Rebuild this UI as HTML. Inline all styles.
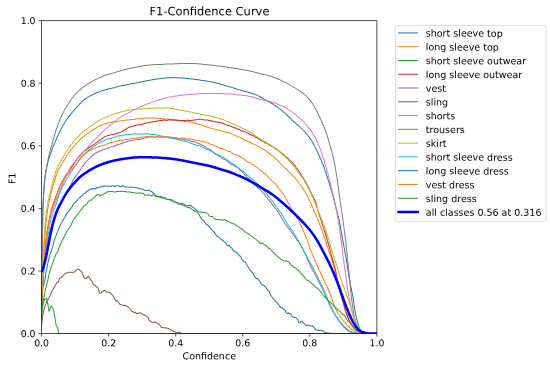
<!DOCTYPE html>
<html><head><meta charset="utf-8"><title>F1-Confidence Curve</title>
<style>
html,body{margin:0;padding:0;background:#fff;}
svg{display:block;}
text{font-family:"DejaVu Sans","Liberation Sans",sans-serif;fill:#000;text-rendering:geometricPrecision;}
</style></head><body>
<svg width="550" height="365" viewBox="0 0 550 365">
<rect width="550" height="365" fill="#fff"/>
<defs><clipPath id="ax"><rect x="41.6" y="20.7" width="335.29999999999995" height="312.90000000000003"/></clipPath></defs>
<g clip-path="url(#ax)" fill="none" stroke-linejoin="round" stroke-linecap="butt">
<path d="M41.6 304.0 L41.6 303.7 L41.6 303.4 L41.6 303.0 L41.6 302.7 L41.6 302.2 L41.6 301.9 L41.6 301.5 L41.7 301.0 L41.7 300.5 L41.7 300.0 L41.7 299.5 L41.7 299.0 L41.7 298.5 L41.7 298.0 L41.7 297.5 L41.7 297.0 L41.7 296.5 L41.7 296.0 L41.7 295.5 L41.7 295.0 L41.7 294.5 L41.7 294.0 L41.7 293.5 L41.8 292.9 L41.8 292.4 L41.8 291.9 L41.8 291.5 L41.8 291.0 L41.8 290.5 L41.8 290.0 L41.8 289.5 L41.8 289.0 L41.8 288.5 L41.8 288.0 L41.8 287.4 L41.8 286.9 L41.8 286.4 L41.8 285.9 L41.8 285.5 L41.9 285.0 L41.9 284.5 L41.9 284.0 L41.9 283.5 L41.9 283.0 L41.9 282.5 L41.9 282.0 L41.9 281.5 L41.9 281.0 L41.9 280.5 L41.9 280.0 L41.9 279.5 L41.9 279.0 L41.9 278.5 L41.9 278.0 L41.9 277.5 L42.0 277.0 L42.0 276.5 L42.0 276.0 L42.0 275.5 L42.0 275.0 L42.0 274.5 L42.0 274.0 L42.0 273.5 L42.0 273.0 L42.0 272.4 L42.0 271.9 L42.0 271.4 L42.0 271.0 L42.0 270.5 L42.0 270.0 L42.1 269.6 L42.1 269.1 L42.1 268.6 L42.1 268.1 L42.1 267.6 L42.1 267.0 L42.1 266.5 L42.1 266.0 L42.1 265.5 L42.1 265.0 L42.1 264.5 L42.1 264.0 L42.1 263.5 L42.1 262.9 L42.1 262.4 L42.1 261.9 L42.2 261.4 L42.2 261.0 L42.2 260.5 L42.2 260.0 L42.2 259.5 L42.2 259.0 L42.2 258.5 L42.2 258.0 L42.2 257.5 L42.2 257.0 L42.2 256.5 L42.2 256.0 L42.2 255.5 L42.2 254.9 L42.2 254.3 L42.2 253.8 L42.3 253.4 L42.3 253.0 L42.3 252.5 L42.3 251.9 L42.3 251.4 L42.3 250.9 L42.3 250.4 L42.3 249.9 L42.3 249.4 L42.3 249.0 L42.3 248.5 L42.3 248.0 L42.3 247.4 L42.3 246.9 L42.3 246.4 L42.3 245.9 L42.4 245.4 L42.4 244.9 L42.4 244.4 L42.4 244.0 L42.4 243.5 L42.4 242.9 L42.4 242.4 L42.4 241.9 L42.4 241.5 L42.4 241.0 L42.4 240.5 L42.4 240.0 L42.4 239.5 L42.4 239.0 L42.4 238.5 L42.4 238.0 L42.4 237.5 L42.4 237.0 L42.5 236.5 L42.5 236.0 L42.5 235.5 L42.5 235.0 L42.5 234.5 L42.5 233.9 L42.5 233.4 L42.5 232.9 L42.5 232.4 L42.5 232.0 L42.5 231.5 L42.5 230.9 L42.5 230.4 L42.5 229.9 L42.5 229.4 L42.5 228.9 L42.5 228.4 L42.6 227.9 L42.6 227.4 L42.6 226.9 L42.6 226.4 L42.6 225.9 L42.6 225.3 L42.6 224.8 L42.6 224.4 L42.6 224.0 L42.6 223.5 L42.6 222.9 L42.6 222.4 L42.6 221.9 L42.6 221.4 L42.6 220.9 L42.6 220.4 L42.7 219.9 L42.7 219.5 L42.7 219.0 L42.7 218.5 L42.7 217.9 L42.7 217.3 L42.7 216.8 L42.7 216.3 L42.7 215.9 L42.7 215.5 L42.7 215.0 L42.7 214.5 L42.8 214.0 L42.8 213.5 L42.8 213.0 L42.8 212.5 L42.8 212.0 L42.8 211.4 L42.8 210.9 L42.8 210.4 L42.8 209.9 L42.9 209.4 L42.9 208.9 L42.9 208.3 L42.9 207.8 L42.9 207.3 L43.0 206.8 L43.0 206.3 L43.0 205.9 L43.0 205.4 L43.0 204.9 L43.1 204.4 L43.1 203.9 L43.1 203.4 L43.1 202.9 L43.1 202.4 L43.2 201.9 L43.2 201.4 L43.2 200.9 L43.2 200.4 L43.3 199.9 L43.3 199.4 L43.3 198.9 L43.3 198.4 L43.4 197.9 L43.4 197.5 L43.4 197.0 L43.5 196.5 L43.5 196.0 L43.5 195.5 L43.5 195.0 L43.6 194.4 L43.6 193.9 L43.6 193.4 L43.7 192.8 L43.7 192.4 L43.7 192.0 L43.8 191.5 L43.8 191.0 L43.8 190.5 L43.8 190.0 L43.9 189.5 L43.9 189.0 L43.9 188.5 L44.0 188.0 L44.0 187.5 L44.0 187.0 L44.1 186.5 L44.1 186.0 L44.1 185.4 L44.2 184.9 L44.2 184.4 L44.3 183.9 L44.3 183.4 L44.3 182.9 L44.4 182.4 L44.4 181.9 L44.5 181.5 L44.5 181.0 L44.6 180.5 L44.6 180.0 L44.7 179.4 L44.7 178.9 L44.8 178.4 L44.9 177.9 L44.9 177.4 L45.0 177.0 L45.1 176.5 L45.1 176.0 L45.2 175.5 L45.3 175.0 L45.3 174.5 L45.4 174.0 L45.5 173.5 L45.6 173.0 L45.7 172.5 L45.7 171.9 L45.8 171.5 L45.9 171.0 L46.0 170.5 L46.1 170.1 L46.2 169.6 L46.3 169.1 L46.4 168.7 L46.5 168.2 L46.6 167.7 L46.7 167.1 L46.8 166.6 L46.9 166.1 L47.0 165.6 L47.2 165.2 L47.3 164.7 L47.4 164.2 L47.5 163.7 L47.6 163.2 L47.7 162.8 L47.9 162.3 L48.0 161.8 L48.1 161.3 L48.3 160.9 L48.4 160.4 L48.5 159.8 L48.7 159.3 L48.8 158.8 L49.0 158.4 L49.1 157.9 L49.2 157.4 L49.4 157.0 L49.5 156.5 L49.7 156.0 L49.8 155.6 L50.0 155.1 L50.2 154.6 L50.3 154.2 L50.5 153.8 L50.7 153.3 L50.8 152.8 L51.0 152.3 L51.2 151.8 L51.4 151.2 L51.5 150.7 L51.7 150.3 L51.9 149.8 L52.1 149.4 L52.3 149.0 L52.5 148.5 L52.7 148.1 L52.9 147.6 L53.0 147.1 L53.2 146.5 L53.4 146.1 L53.6 145.6 L53.8 145.2 L54.0 144.7 L54.2 144.3 L54.4 143.9 L54.6 143.4 L54.7 142.9 L54.9 142.4 L55.1 142.0 L55.3 141.5 L55.5 141.0 L55.7 140.6 L55.9 140.1 L56.1 139.7 L56.3 139.2 L56.4 138.8 L56.6 138.3 L56.8 137.9 L57.0 137.4 L57.2 137.0 L57.4 136.6 L57.6 136.1 L57.8 135.7 L58.1 135.2 L58.3 134.7 L58.5 134.2 L58.7 133.7 L58.9 133.3 L59.1 132.9 L59.3 132.4 L59.5 132.0 L59.8 131.5 L60.0 131.1 L60.2 130.7 L60.4 130.2 L60.7 129.8 L60.9 129.3 L61.1 128.8 L61.4 128.3 L61.6 127.9 L61.8 127.4 L62.1 127.0 L62.3 126.6 L62.6 126.1 L62.8 125.7 L63.1 125.3 L63.3 124.8 L63.6 124.5 L63.8 124.1 L64.1 123.7 L64.3 123.2 L64.6 122.7 L64.9 122.3 L65.1 121.9 L65.4 121.5 L65.7 121.0 L66.0 120.6 L66.2 120.2 L66.5 119.8 L66.8 119.4 L67.1 118.9 L67.4 118.5 L67.7 118.1 L68.0 117.7 L68.3 117.3 L68.6 117.0 L68.9 116.7 L69.2 116.3 L69.5 115.9 L69.8 115.5 L70.1 115.1 L70.4 114.7 L70.7 114.2 L71.0 113.8 L71.4 113.4 L71.7 113.0 L72.0 112.7 L72.3 112.3 L72.6 111.9 L73.0 111.5 L73.3 111.1 L73.6 110.7 L73.9 110.4 L74.3 110.1 L74.6 109.7 L74.9 109.3 L75.3 108.9 L75.6 108.5 L75.9 108.1 L76.3 107.8 L76.6 107.4 L76.9 107.0 L77.3 106.7 L77.6 106.3 L77.9 105.9 L78.3 105.6 L78.6 105.2 L79.0 104.8 L79.3 104.4 L79.6 104.1 L80.0 103.7 L80.3 103.3 L80.7 103.0 L81.0 102.6 L81.4 102.2 L81.7 101.9 L82.1 101.5 L82.4 101.2 L82.8 100.8 L83.2 100.5 L83.5 100.2 L83.9 99.9 L84.3 99.5 L84.7 99.2 L85.1 99.0 L85.5 98.7 L85.9 98.4 L86.3 98.1 L86.8 97.8 L87.2 97.6 L87.6 97.3 L88.1 97.1 L88.5 96.9 L88.9 96.6 L89.4 96.4 L89.8 96.1 L90.2 95.9 L90.7 95.7 L91.1 95.4 L91.6 95.2 L92.0 95.0 L92.5 94.8 L92.9 94.6 L93.4 94.3 L93.8 94.0 L94.3 93.7 L94.7 93.5 L95.2 93.4 L95.6 93.2 L96.1 93.0 L96.5 92.8 L97.0 92.6 L97.5 92.4 L97.9 92.3 L98.4 92.1 L98.9 91.9 L99.3 91.7 L99.8 91.6 L100.3 91.4 L100.7 91.2 L101.2 91.1 L101.7 90.9 L102.1 90.7 L102.6 90.6 L103.1 90.4 L103.6 90.3 L104.0 90.1 L104.5 90.0 L105.0 89.9 L105.5 89.7 L106.0 89.5 L106.5 89.4 L106.9 89.3 L107.4 89.2 L107.9 89.1 L108.4 89.0 L108.9 88.9 L109.4 88.7 L109.9 88.6 L110.4 88.5 L110.8 88.4 L111.3 88.3 L111.8 88.2 L112.3 88.1 L112.8 88.1 L113.3 87.9 L113.8 87.8 L114.3 87.7 L114.7 87.6 L115.2 87.4 L115.7 87.2 L116.2 87.1 L116.7 86.9 L117.2 86.8 L117.6 86.7 L118.1 86.6 L118.6 86.4 L119.1 86.3 L119.6 86.2 L120.1 86.1 L120.6 86.0 L121.0 85.9 L121.5 85.8 L122.0 85.7 L122.5 85.6 L123.0 85.5 L123.5 85.4 L124.0 85.4 L124.5 85.3 L125.0 85.2 L125.5 85.1 L126.0 85.0 L126.4 84.8 L126.9 84.7 L127.4 84.6 L127.9 84.5 L128.4 84.4 L128.9 84.3 L129.4 84.2 L129.9 84.1 L130.4 84.0 L130.9 83.9 L131.4 83.8 L131.9 83.8 L132.3 83.7 L132.8 83.6 L133.3 83.5 L133.8 83.4 L134.3 83.3 L134.8 83.2 L135.3 83.1 L135.8 83.0 L136.3 82.9 L136.8 82.8 L137.3 82.7 L137.7 82.6 L138.2 82.5 L138.7 82.4 L139.2 82.3 L139.7 82.2 L140.2 82.1 L140.7 82.0 L141.2 81.9 L141.7 81.8 L142.1 81.7 L142.6 81.6 L143.1 81.5 L143.6 81.4 L144.1 81.3 L144.6 81.2 L145.1 81.1 L145.6 80.9 L146.1 80.8 L146.6 80.8 L147.1 80.7 L147.5 80.6 L148.0 80.5 L148.5 80.4 L149.0 80.4 L149.5 80.3 L150.0 80.2 L150.5 80.1 L151.0 80.0 L151.5 79.9 L152.0 79.8 L152.5 79.7 L153.0 79.6 L153.5 79.5 L154.0 79.4 L154.4 79.4 L154.9 79.3 L155.4 79.2 L155.9 79.2 L156.4 79.1 L156.9 79.0 L157.4 79.0 L157.9 78.9 L158.4 78.8 L158.9 78.8 L159.4 78.7 L159.9 78.6 L160.4 78.6 L160.9 78.5 L161.4 78.5 L161.9 78.4 L162.4 78.4 L162.9 78.3 L163.4 78.3 L163.9 78.2 L164.4 78.1 L164.9 78.0 L165.4 78.0 L165.9 77.9 L166.4 77.9 L166.9 77.9 L167.4 77.9 L167.9 77.8 L168.4 77.9 L168.9 77.9 L169.4 77.8 L169.9 77.7 L170.4 77.6 L170.9 77.6 L171.4 77.6 L171.9 77.7 L172.4 77.7 L172.9 77.7 L173.4 77.6 L173.9 77.6 L174.4 77.6 L174.9 77.7 L175.4 77.7 L175.9 77.7 L176.4 77.7 L176.9 77.7 L177.4 77.7 L177.9 77.6 L178.4 77.7 L178.9 77.7 L179.4 77.8 L179.9 77.9 L180.4 77.9 L180.9 77.9 L181.4 78.0 L181.9 78.0 L182.4 78.1 L182.9 78.1 L183.4 78.1 L183.9 78.1 L184.3 78.2 L184.8 78.2 L185.3 78.3 L185.8 78.4 L186.3 78.5 L186.8 78.5 L187.3 78.6 L187.8 78.6 L188.3 78.6 L188.8 78.6 L189.3 78.7 L189.8 78.7 L190.3 78.8 L190.8 78.9 L191.3 78.9 L191.8 79.0 L192.3 79.0 L192.8 79.1 L193.3 79.1 L193.8 79.2 L194.3 79.3 L194.8 79.3 L195.3 79.4 L195.8 79.5 L196.3 79.5 L196.8 79.6 L197.3 79.6 L197.8 79.7 L198.3 79.7 L198.8 79.8 L199.3 79.9 L199.8 80.0 L200.3 80.2 L200.8 80.2 L201.2 80.3 L201.7 80.4 L202.2 80.4 L202.7 80.4 L203.2 80.5 L203.7 80.6 L204.2 80.6 L204.7 80.7 L205.2 80.8 L205.7 80.9 L206.2 81.0 L206.7 81.0 L207.2 81.1 L207.7 81.3 L208.2 81.4 L208.7 81.5 L209.2 81.5 L209.6 81.6 L210.1 81.7 L210.6 81.7 L211.1 81.8 L211.6 81.9 L212.1 82.0 L212.6 82.1 L213.1 82.2 L213.6 82.3 L214.1 82.4 L214.6 82.5 L215.0 82.7 L215.5 82.8 L216.0 82.9 L216.5 83.0 L217.0 83.2 L217.5 83.3 L218.0 83.4 L218.4 83.5 L218.9 83.6 L219.4 83.7 L219.9 83.9 L220.4 84.0 L220.9 84.1 L221.3 84.2 L221.8 84.4 L222.3 84.5 L222.8 84.7 L223.3 84.9 L223.7 85.0 L224.2 85.2 L224.7 85.3 L225.2 85.5 L225.7 85.6 L226.1 85.8 L226.6 85.9 L227.1 86.1 L227.6 86.2 L228.0 86.3 L228.5 86.5 L229.0 86.6 L229.5 86.7 L230.0 86.9 L230.4 87.0 L230.9 87.2 L231.4 87.3 L231.9 87.4 L232.4 87.6 L232.8 87.8 L233.3 87.9 L233.8 88.0 L234.3 88.2 L234.8 88.3 L235.2 88.5 L235.7 88.6 L236.2 88.7 L236.7 88.9 L237.1 89.1 L237.6 89.3 L238.1 89.4 L238.6 89.6 L239.1 89.7 L239.5 89.8 L240.0 89.9 L240.5 90.0 L241.0 90.2 L241.5 90.3 L241.9 90.5 L242.4 90.6 L242.9 90.8 L243.4 90.9 L243.9 91.1 L244.3 91.3 L244.8 91.4 L245.3 91.5 L245.8 91.6 L246.3 91.8 L246.7 91.9 L247.2 92.0 L247.7 92.1 L248.2 92.3 L248.7 92.4 L249.2 92.6 L249.6 92.7 L250.1 92.8 L250.6 93.0 L251.1 93.1 L251.6 93.3 L252.1 93.4 L252.5 93.5 L253.0 93.7 L253.5 93.8 L254.0 94.0 L254.4 94.1 L254.9 94.3 L255.4 94.5 L255.8 94.7 L256.3 94.8 L256.7 95.1 L257.2 95.2 L257.6 95.4 L258.1 95.6 L258.5 95.9 L259.0 96.1 L259.4 96.4 L259.8 96.8 L260.3 97.0 L260.7 97.2 L261.1 97.4 L261.5 97.6 L262.0 97.9 L262.4 98.2 L262.8 98.4 L263.3 98.7 L263.7 98.9 L264.2 99.2 L264.6 99.4 L265.0 99.7 L265.5 99.9 L265.9 100.2 L266.4 100.4 L266.8 100.6 L267.3 100.8 L267.7 100.9 L268.1 101.2 L268.6 101.5 L269.0 101.8 L269.4 102.0 L269.9 102.3 L270.3 102.5 L270.7 102.7 L271.2 103.0 L271.6 103.3 L272.0 103.5 L272.4 103.8 L272.9 104.0 L273.3 104.3 L273.7 104.6 L274.1 104.9 L274.5 105.2 L275.0 105.4 L275.4 105.7 L275.8 106.0 L276.2 106.3 L276.6 106.5 L277.0 106.8 L277.4 107.1 L277.8 107.4 L278.2 107.8 L278.6 108.1 L279.0 108.4 L279.4 108.7 L279.8 108.9 L280.2 109.2 L280.6 109.5 L281.0 109.8 L281.4 110.2 L281.8 110.5 L282.2 110.9 L282.6 111.2 L283.0 111.5 L283.3 111.8 L283.7 112.1 L284.1 112.4 L284.5 112.7 L284.8 113.0 L285.2 113.4 L285.6 113.7 L285.9 114.1 L286.3 114.4 L286.7 114.8 L287.0 115.2 L287.4 115.5 L287.7 115.9 L288.1 116.2 L288.5 116.6 L288.8 116.9 L289.2 117.3 L289.5 117.7 L289.9 118.0 L290.2 118.4 L290.6 118.7 L291.0 119.1 L291.3 119.4 L291.7 119.7 L292.0 120.1 L292.4 120.4 L292.8 120.8 L293.1 121.1 L293.5 121.4 L293.9 121.7 L294.2 122.1 L294.6 122.4 L295.0 122.7 L295.4 123.0 L295.7 123.4 L296.1 123.7 L296.5 124.0 L296.9 124.3 L297.2 124.7 L297.6 125.0 L298.0 125.3 L298.4 125.7 L298.8 126.0 L299.1 126.3 L299.5 126.7 L299.9 127.0 L300.2 127.3 L300.6 127.7 L301.0 128.0 L301.3 128.4 L301.7 128.8 L302.1 129.1 L302.4 129.5 L302.8 130.0 L303.1 130.3 L303.5 130.6 L303.8 130.8 L304.2 131.2 L304.5 131.6 L304.9 132.0 L305.2 132.4 L305.5 132.7 L305.9 133.1 L306.2 133.5 L306.5 133.8 L306.9 134.2 L307.2 134.6 L307.5 135.0 L307.8 135.3 L308.1 135.8 L308.4 136.2 L308.7 136.6 L309.0 136.9 L309.3 137.2 L309.6 137.6 L309.9 138.0 L310.2 138.5 L310.5 139.0 L310.8 139.5 L311.0 139.9 L311.3 140.3 L311.6 140.8 L311.8 141.1 L312.1 141.5 L312.3 141.9 L312.6 142.4 L312.8 142.9 L313.1 143.3 L313.3 143.6 L313.6 144.1 L313.8 144.5 L314.1 145.0 L314.3 145.4 L314.5 145.9 L314.8 146.4 L315.0 146.9 L315.2 147.3 L315.4 147.7 L315.7 148.1 L315.9 148.6 L316.1 149.0 L316.3 149.5 L316.6 149.9 L316.8 150.4 L317.0 150.8 L317.2 151.3 L317.4 151.7 L317.6 152.2 L317.9 152.7 L318.1 153.1 L318.3 153.6 L318.5 154.0 L318.7 154.5 L318.9 154.9 L319.1 155.4 L319.3 155.8 L319.5 156.3 L319.7 156.8 L319.9 157.2 L320.1 157.7 L320.3 158.1 L320.5 158.6 L320.7 159.1 L320.9 159.5 L321.1 159.9 L321.3 160.4 L321.5 160.9 L321.7 161.3 L321.8 161.8 L322.0 162.2 L322.2 162.7 L322.4 163.1 L322.6 163.6 L322.8 164.1 L322.9 164.6 L323.1 165.0 L323.3 165.5 L323.5 166.0 L323.7 166.5 L323.8 166.9 L324.0 167.4 L324.2 167.9 L324.3 168.4 L324.5 168.9 L324.7 169.3 L324.9 169.7 L325.0 170.2 L325.2 170.7 L325.3 171.1 L325.5 171.5 L325.7 172.0 L325.8 172.5 L326.0 172.9 L326.1 173.5 L326.3 174.0 L326.5 174.5 L326.6 174.9 L326.8 175.4 L326.9 175.9 L327.1 176.4 L327.2 176.8 L327.4 177.3 L327.5 177.8 L327.7 178.3 L327.8 178.7 L328.0 179.2 L328.1 179.7 L328.3 180.2 L328.4 180.7 L328.6 181.2 L328.7 181.7 L328.9 182.2 L329.0 182.6 L329.2 183.1 L329.3 183.6 L329.5 184.0 L329.6 184.5 L329.8 185.0 L329.9 185.5 L330.0 186.0 L330.2 186.4 L330.3 186.9 L330.5 187.4 L330.6 187.8 L330.8 188.3 L330.9 188.8 L331.0 189.3 L331.2 189.9 L331.3 190.4 L331.4 190.8 L331.6 191.2 L331.7 191.7 L331.9 192.2 L332.0 192.7 L332.1 193.2 L332.3 193.6 L332.4 194.1 L332.5 194.6 L332.7 195.1 L332.8 195.6 L332.9 196.1 L333.1 196.6 L333.2 197.0 L333.3 197.5 L333.5 198.0 L333.6 198.5 L333.7 199.0 L333.8 199.5 L334.0 200.0 L334.1 200.5 L334.2 200.9 L334.3 201.4 L334.5 201.9 L334.6 202.4 L334.7 202.8 L334.8 203.3 L334.9 203.8 L335.1 204.2 L335.2 204.7 L335.3 205.2 L335.4 205.7 L335.5 206.2 L335.7 206.8 L335.8 207.2 L335.9 207.7 L336.0 208.2 L336.2 208.7 L336.3 209.1 L336.4 209.6 L336.6 210.1 L336.7 210.6 L336.8 211.1 L337.0 211.5 L337.1 212.0 L337.2 212.5 L337.4 213.0 L337.5 213.4 L337.6 214.0 L337.8 214.5 L337.9 215.0 L338.0 215.4 L338.2 215.9 L338.3 216.3 L338.4 216.8 L338.5 217.3 L338.6 217.8 L338.8 218.4 L338.9 218.9 L339.0 219.4 L339.1 219.9 L339.2 220.3 L339.3 220.8 L339.4 221.3 L339.5 221.8 L339.6 222.3 L339.7 222.8 L339.8 223.3 L339.9 223.8 L339.9 224.3 L340.0 224.8 L340.1 225.3 L340.2 225.8 L340.3 226.3 L340.4 226.7 L340.5 227.2 L340.6 227.7 L340.6 228.2 L340.7 228.7 L340.8 229.2 L340.9 229.7 L341.0 230.2 L341.1 230.7 L341.2 231.2 L341.2 231.6 L341.3 232.1 L341.4 232.6 L341.5 233.1 L341.6 233.6 L341.7 234.1 L341.8 234.6 L341.8 235.1 L341.9 235.5 L342.0 236.0 L342.1 236.5 L342.2 237.0 L342.3 237.5 L342.4 238.0 L342.4 238.6 L342.5 239.1 L342.6 239.6 L342.7 240.0 L342.8 240.4 L342.9 240.9 L343.0 241.4 L343.1 241.8 L343.2 242.4 L343.3 243.0 L343.4 243.5 L343.4 243.9 L343.5 244.4 L343.6 244.9 L343.7 245.4 L343.8 245.9 L343.9 246.4 L344.0 246.9 L344.1 247.4 L344.2 247.9 L344.3 248.3 L344.4 248.8 L344.5 249.3 L344.6 249.8 L344.6 250.4 L344.7 250.9 L344.8 251.3 L344.9 251.8 L345.0 252.3 L345.1 252.8 L345.2 253.3 L345.3 253.8 L345.4 254.3 L345.5 254.7 L345.6 255.2 L345.6 255.7 L345.7 256.2 L345.8 256.7 L345.9 257.2 L346.0 257.7 L346.1 258.2 L346.2 258.7 L346.3 259.2 L346.3 259.6 L346.4 260.1 L346.5 260.6 L346.6 261.2 L346.7 261.6 L346.7 262.1 L346.8 262.6 L346.9 263.1 L347.0 263.6 L347.1 264.1 L347.1 264.6 L347.2 265.0 L347.3 265.6 L347.4 266.1 L347.5 266.6 L347.5 267.1 L347.6 267.6 L347.7 268.1 L347.8 268.6 L347.8 269.0 L347.9 269.5 L348.0 270.0 L348.1 270.5 L348.1 271.0 L348.2 271.4 L348.3 271.9 L348.4 272.4 L348.5 273.0 L348.5 273.5 L348.6 274.0 L348.7 274.5 L348.8 275.0 L348.8 275.4 L348.9 275.9 L349.0 276.4 L349.1 276.9 L349.2 277.4 L349.3 277.9 L349.3 278.5 L349.4 279.0 L349.5 279.5 L349.6 280.0 L349.7 280.4 L349.8 280.9 L349.9 281.4 L350.0 281.9 L350.1 282.4 L350.2 282.9 L350.2 283.4 L350.3 283.9 L350.4 284.3 L350.5 284.8 L350.6 285.3 L350.7 285.8 L350.8 286.3 L350.9 286.8 L351.0 287.3 L351.1 287.8 L351.2 288.2 L351.3 288.7 L351.4 289.2 L351.5 289.8 L351.6 290.3 L351.7 290.8 L351.8 291.3 L351.9 291.8 L352.0 292.3 L352.1 292.7 L352.2 293.2 L352.3 293.7 L352.4 294.2 L352.5 294.6 L352.6 295.1 L352.7 295.6 L352.8 296.1 L352.9 296.6 L353.0 297.1 L353.0 297.6 L353.1 298.1 L353.2 298.6 L353.3 299.1 L353.4 299.6 L353.4 300.1 L353.5 300.6 L353.6 301.0 L353.7 301.5 L353.7 302.0 L353.8 302.5 L353.9 303.0 L353.9 303.5 L354.0 304.0 L354.1 304.5 L354.2 305.0 L354.2 305.5 L354.3 306.0 L354.4 306.6 L354.4 307.1 L354.5 307.6 L354.6 308.1 L354.7 308.6 L354.7 309.1 L354.8 309.6 L354.9 310.1 L355.0 310.6 L355.0 311.0 L355.1 311.5 L355.2 312.0 L355.3 312.4 L355.4 312.9 L355.5 313.3 L355.6 313.8 L355.7 314.4 L355.8 314.9 L355.9 315.4 L356.0 315.9 L356.1 316.4 L356.2 316.8 L356.3 317.3 L356.4 317.8 L356.5 318.3 L356.6 318.8 L356.7 319.2 L356.9 319.7 L357.0 320.2 L357.1 320.7 L357.2 321.2 L357.4 321.7 L357.5 322.2 L357.6 322.7 L357.8 323.2 L357.9 323.6 L358.0 324.1 L358.2 324.5 L358.3 325.0 L358.5 325.5 L358.7 326.1 L358.8 326.5 L359.0 326.9 L359.2 327.3 L359.4 327.8 L359.7 328.2 L359.9 328.7 L360.1 329.1 L360.4 329.6 L360.7 330.0 L361.0 330.3 L361.3 330.7 L361.7 331.0 L362.0 331.4 L362.4 331.7 L362.8 331.9 L363.2 332.2 L363.6 332.4 L364.1 332.6 L364.5 332.8 L365.0 332.9 L365.5 333.0 L365.9 333.2 L366.4 333.2 L366.9 333.3 L367.4 333.4 L367.9 333.4 L368.4 333.5 L368.9 333.5 L369.4 333.5 L369.9 333.5 L370.4 333.5 L370.9 333.5 L371.4 333.6 L371.9 333.6 L372.4 333.6 L372.9 333.6 L373.4 333.6 L373.8 333.6 L374.3 333.6 L374.7 333.6 L375.1 333.6 L375.4 333.6 L375.7 333.6 L376.0 333.6" stroke="#1f77b4" stroke-width="1.019"/>
<path d="M41.6 299.2 L41.6 299.0 L41.7 298.6 L41.7 298.2 L41.7 297.8 L41.7 297.4 L41.7 297.0 L41.7 296.5 L41.8 296.0 L41.8 295.5 L41.8 295.0 L41.8 294.5 L41.8 294.0 L41.9 293.5 L41.9 293.0 L41.9 292.5 L41.9 292.0 L42.0 291.5 L42.0 291.0 L42.0 290.5 L42.0 289.9 L42.0 289.4 L42.1 288.9 L42.1 288.4 L42.1 288.0 L42.1 287.5 L42.1 287.0 L42.2 286.5 L42.2 286.0 L42.2 285.6 L42.2 285.2 L42.3 284.7 L42.3 284.1 L42.3 283.5 L42.3 283.0 L42.3 282.5 L42.4 282.0 L42.4 281.5 L42.4 280.9 L42.4 280.4 L42.5 279.9 L42.5 279.4 L42.5 279.0 L42.5 278.5 L42.5 278.0 L42.6 277.5 L42.6 277.0 L42.6 276.5 L42.6 276.0 L42.7 275.5 L42.7 274.9 L42.7 274.4 L42.7 273.9 L42.8 273.5 L42.8 273.0 L42.8 272.5 L42.8 272.0 L42.9 271.5 L42.9 271.0 L42.9 270.5 L42.9 270.0 L42.9 269.5 L43.0 269.0 L43.0 268.5 L43.0 268.0 L43.0 267.5 L43.1 267.0 L43.1 266.5 L43.1 265.9 L43.1 265.4 L43.2 264.9 L43.2 264.4 L43.2 263.9 L43.3 263.4 L43.3 262.9 L43.3 262.4 L43.3 261.9 L43.4 261.4 L43.4 261.0 L43.4 260.5 L43.4 260.0 L43.5 259.5 L43.5 259.0 L43.5 258.5 L43.5 258.0 L43.6 257.5 L43.6 257.0 L43.6 256.5 L43.7 256.0 L43.7 255.6 L43.7 255.1 L43.7 254.6 L43.8 254.1 L43.8 253.6 L43.8 253.1 L43.9 252.6 L43.9 252.1 L43.9 251.5 L43.9 251.0 L44.0 250.5 L44.0 250.0 L44.0 249.5 L44.1 249.0 L44.1 248.5 L44.1 247.9 L44.2 247.3 L44.2 246.8 L44.2 246.3 L44.3 245.8 L44.3 245.3 L44.3 245.0 L44.3 244.6 L44.4 244.1 L44.4 243.6 L44.4 243.1 L44.5 242.6 L44.5 242.1 L44.5 241.6 L44.6 241.0 L44.6 240.5 L44.6 240.0 L44.7 239.5 L44.7 239.0 L44.8 238.5 L44.8 238.0 L44.8 237.5 L44.9 237.0 L44.9 236.6 L44.9 236.1 L45.0 235.6 L45.0 235.0 L45.0 234.5 L45.1 234.0 L45.1 233.5 L45.2 233.0 L45.2 232.5 L45.2 231.9 L45.3 231.4 L45.3 230.9 L45.4 230.4 L45.4 230.0 L45.4 229.6 L45.5 229.1 L45.5 228.6 L45.6 228.1 L45.6 227.6 L45.7 227.1 L45.7 226.6 L45.7 226.1 L45.8 225.5 L45.8 224.9 L45.9 224.4 L45.9 223.9 L46.0 223.4 L46.0 222.9 L46.1 222.6 L46.1 222.2 L46.2 221.7 L46.2 221.1 L46.3 220.6 L46.4 220.1 L46.4 219.6 L46.5 219.1 L46.5 218.4 L46.6 217.7 L46.6 217.3 L46.7 216.9 L46.8 216.5 L46.8 216.0 L46.9 215.5 L46.9 215.0 L47.0 214.5 L47.1 214.0 L47.1 213.5 L47.2 213.0 L47.3 212.5 L47.3 212.0 L47.4 211.6 L47.5 211.1 L47.5 210.6 L47.6 210.1 L47.7 209.6 L47.7 209.1 L47.8 208.6 L47.9 208.1 L48.0 207.7 L48.1 207.2 L48.1 206.7 L48.2 206.2 L48.3 205.7 L48.4 205.1 L48.5 204.6 L48.6 204.3 L48.7 203.9 L48.8 203.4 L48.8 202.9 L48.9 202.4 L49.0 201.8 L49.1 201.1 L49.2 200.6 L49.4 200.2 L49.5 199.7 L49.6 199.2 L49.7 198.7 L49.8 198.2 L49.9 197.7 L50.0 197.3 L50.1 196.8 L50.3 196.3 L50.4 195.8 L50.5 195.4 L50.6 194.9 L50.8 194.5 L50.9 194.0 L51.0 193.5 L51.1 192.9 L51.3 192.4 L51.4 191.9 L51.5 191.4 L51.6 190.9 L51.8 190.4 L51.9 190.1 L52.0 189.7 L52.2 189.2 L52.3 188.7 L52.4 188.1 L52.5 187.5 L52.7 187.0 L52.8 186.5 L52.9 186.0 L53.1 185.6 L53.2 185.1 L53.3 184.7 L53.5 184.3 L53.6 183.8 L53.7 183.3 L53.9 182.9 L54.0 182.4 L54.2 181.9 L54.3 181.4 L54.5 180.9 L54.6 180.5 L54.8 180.0 L54.9 179.5 L55.1 179.0 L55.2 178.5 L55.4 178.0 L55.5 177.6 L55.7 177.1 L55.8 176.6 L56.0 176.1 L56.1 175.6 L56.3 175.2 L56.5 174.8 L56.6 174.3 L56.8 173.9 L57.0 173.4 L57.2 172.8 L57.4 172.3 L57.6 171.8 L57.7 171.4 L57.9 170.9 L58.2 170.3 L58.4 169.9 L58.6 169.5 L58.8 169.0 L59.1 168.7 L59.3 168.2 L59.6 167.8 L59.8 167.4 L60.1 167.0 L60.3 166.6 L60.6 166.2 L60.8 165.8 L61.1 165.4 L61.4 164.9 L61.6 164.5 L61.9 164.0 L62.2 163.5 L62.4 163.0 L62.7 162.7 L63.0 162.3 L63.2 161.8 L63.5 161.3 L63.7 160.8 L64.0 160.4 L64.3 160.0 L64.5 159.7 L64.8 159.4 L65.1 159.0 L65.3 158.6 L65.6 158.1 L65.8 157.6 L66.1 157.2 L66.3 156.8 L66.6 156.4 L66.9 156.0 L67.1 155.6 L67.4 155.2 L67.6 154.7 L67.9 154.2 L68.2 153.7 L68.5 153.3 L68.7 152.8 L69.0 152.4 L69.3 152.1 L69.6 151.7 L69.9 151.3 L70.2 150.9 L70.5 150.5 L70.8 150.1 L71.1 149.7 L71.4 149.3 L71.7 148.9 L72.0 148.6 L72.4 148.2 L72.7 147.8 L73.0 147.4 L73.3 147.0 L73.6 146.5 L74.0 146.2 L74.3 145.8 L74.6 145.5 L75.0 145.1 L75.3 144.7 L75.6 144.3 L76.0 144.0 L76.3 143.7 L76.6 143.3 L77.0 143.0 L77.3 142.5 L77.7 142.1 L78.0 141.8 L78.4 141.5 L78.7 141.1 L79.0 140.7 L79.4 140.3 L79.7 139.9 L80.1 139.7 L80.4 139.4 L80.8 138.9 L81.2 138.5 L81.5 138.2 L81.9 137.9 L82.3 137.7 L82.6 137.4 L83.0 137.0 L83.4 136.7 L83.8 136.4 L84.2 136.0 L84.6 135.7 L85.0 135.4 L85.4 135.0 L85.8 134.6 L86.2 134.4 L86.6 134.1 L87.0 133.8 L87.4 133.5 L87.8 133.2 L88.2 132.8 L88.6 132.6 L89.0 132.3 L89.5 132.0 L89.9 131.8 L90.3 131.6 L90.7 131.3 L91.1 131.1 L91.6 130.8 L92.0 130.5 L92.4 130.3 L92.8 130.0 L93.3 129.7 L93.7 129.5 L94.1 129.2 L94.5 129.0 L95.0 128.6 L95.4 128.3 L95.8 128.1 L96.3 127.9 L96.7 127.6 L97.1 127.3 L97.6 127.1 L98.0 126.8 L98.4 126.6 L98.9 126.4 L99.3 126.2 L99.8 126.0 L100.2 125.8 L100.7 125.5 L101.1 125.3 L101.6 125.1 L102.0 125.0 L102.5 124.9 L102.9 124.6 L103.4 124.4 L103.9 124.2 L104.3 124.1 L104.8 123.9 L105.3 123.7 L105.8 123.5 L106.3 123.4 L106.7 123.3 L107.2 123.1 L107.7 123.0 L108.2 122.9 L108.7 122.8 L109.2 122.7 L109.7 122.7 L110.2 122.6 L110.7 122.5 L111.2 122.3 L111.7 122.2 L112.2 122.1 L112.6 122.0 L113.1 121.9 L113.6 121.8 L114.1 121.9 L114.6 121.9 L115.1 121.9 L115.6 121.9 L116.1 121.8 L116.6 121.7 L117.1 121.6 L117.6 121.5 L118.1 121.3 L118.6 121.1 L119.1 121.1 L119.6 121.1 L120.1 121.0 L120.6 121.0 L121.0 120.9 L121.5 120.8 L122.0 120.7 L122.5 120.7 L123.0 120.6 L123.5 120.6 L124.0 120.5 L124.5 120.4 L125.0 120.3 L125.5 120.2 L126.0 120.1 L126.5 120.0 L127.0 120.0 L127.5 119.9 L128.0 120.0 L128.5 120.1 L129.0 120.0 L129.5 119.8 L130.0 119.7 L130.5 119.6 L131.0 119.5 L131.5 119.4 L132.0 119.4 L132.5 119.4 L133.0 119.5 L133.5 119.4 L134.0 119.4 L134.5 119.3 L135.0 119.2 L135.5 119.0 L136.0 119.0 L136.5 118.9 L137.0 118.8 L137.5 118.8 L138.0 118.7 L138.5 118.7 L139.0 118.6 L139.5 118.6 L140.0 118.6 L140.5 118.6 L141.0 118.6 L141.4 118.5 L141.9 118.5 L142.4 118.5 L142.9 118.4 L143.4 118.4 L143.9 118.3 L144.4 118.3 L144.9 118.3 L145.4 118.2 L145.9 118.2 L146.4 118.1 L146.9 118.1 L147.4 118.1 L147.9 118.0 L148.4 118.1 L148.9 118.1 L149.4 118.1 L149.9 118.1 L150.4 118.1 L150.9 118.1 L151.4 118.1 L151.9 118.1 L152.4 118.1 L152.9 118.1 L153.4 118.1 L153.9 118.1 L154.4 118.0 L154.9 118.0 L155.4 118.1 L155.9 118.1 L156.4 118.2 L156.9 118.3 L157.4 118.3 L157.9 118.3 L158.4 118.3 L158.9 118.2 L159.4 118.2 L159.9 118.3 L160.4 118.4 L160.9 118.6 L161.4 118.6 L161.9 118.7 L162.4 118.7 L162.9 118.8 L163.4 118.8 L163.9 118.9 L164.4 118.9 L164.9 118.9 L165.4 119.0 L165.9 119.1 L166.4 119.2 L166.9 119.1 L167.4 119.0 L167.9 119.1 L168.4 119.2 L168.9 119.2 L169.4 119.3 L169.9 119.4 L170.4 119.5 L170.9 119.5 L171.4 119.6 L171.9 119.5 L172.4 119.5 L172.9 119.6 L173.4 119.6 L173.9 119.7 L174.4 119.9 L174.9 120.0 L175.4 120.1 L175.9 120.1 L176.4 120.2 L176.9 120.2 L177.4 120.3 L177.9 120.3 L178.4 120.2 L178.9 120.3 L179.4 120.3 L179.9 120.4 L180.4 120.6 L180.9 120.9 L181.4 120.8 L181.8 120.8 L182.3 120.9 L182.8 120.9 L183.3 121.0 L183.8 121.2 L184.3 121.4 L184.8 121.4 L185.3 121.4 L185.8 121.4 L186.3 121.5 L186.8 121.5 L187.3 121.6 L187.8 121.7 L188.3 121.7 L188.8 121.7 L189.3 121.8 L189.8 121.9 L190.3 122.0 L190.8 122.1 L191.2 122.2 L191.7 122.3 L192.2 122.4 L192.7 122.5 L193.2 122.7 L193.7 122.9 L194.2 123.0 L194.6 123.0 L195.1 123.2 L195.6 123.3 L196.1 123.4 L196.6 123.6 L197.1 123.8 L197.5 124.1 L198.0 124.2 L198.5 124.3 L199.0 124.4 L199.4 124.5 L199.9 124.7 L200.4 124.9 L200.9 125.0 L201.3 125.2 L201.8 125.4 L202.3 125.6 L202.8 125.7 L203.2 125.9 L203.7 126.1 L204.2 126.2 L204.7 126.4 L205.1 126.6 L205.6 126.6 L206.1 126.7 L206.6 126.9 L207.0 127.0 L207.5 127.2 L208.0 127.3 L208.5 127.5 L209.0 127.6 L209.4 127.8 L209.9 127.9 L210.4 128.0 L210.9 128.2 L211.4 128.4 L211.9 128.6 L212.3 128.7 L212.8 128.7 L213.3 128.9 L213.8 129.0 L214.3 129.1 L214.8 129.3 L215.2 129.4 L215.7 129.5 L216.2 129.6 L216.7 129.7 L217.2 129.8 L217.7 129.9 L218.2 130.0 L218.6 130.2 L219.1 130.3 L219.6 130.4 L220.1 130.6 L220.6 130.7 L221.1 130.8 L221.6 130.9 L222.0 131.0 L222.5 131.1 L223.0 131.3 L223.5 131.4 L224.0 131.6 L224.5 131.8 L224.9 131.9 L225.4 132.0 L225.9 132.1 L226.4 132.3 L226.9 132.4 L227.3 132.5 L227.8 132.6 L228.3 132.7 L228.8 132.9 L229.3 133.0 L229.7 133.2 L230.2 133.4 L230.7 133.6 L231.2 133.8 L231.6 133.9 L232.1 134.1 L232.6 134.3 L233.0 134.5 L233.5 134.7 L234.0 134.9 L234.4 135.1 L234.9 135.3 L235.4 135.5 L235.8 135.6 L236.3 135.9 L236.8 136.1 L237.2 136.2 L237.7 136.4 L238.1 136.5 L238.6 136.7 L239.1 136.9 L239.5 137.2 L240.0 137.4 L240.4 137.6 L240.9 137.9 L241.3 138.2 L241.8 138.4 L242.2 138.6 L242.7 138.9 L243.1 139.0 L243.6 139.1 L244.0 139.3 L244.5 139.6 L244.9 140.0 L245.4 140.2 L245.8 140.3 L246.3 140.4 L246.7 140.7 L247.1 140.9 L247.6 141.1 L248.0 141.3 L248.5 141.5 L248.9 141.7 L249.4 142.0 L249.8 142.3 L250.3 142.5 L250.7 142.7 L251.2 142.9 L251.6 143.2 L252.1 143.6 L252.5 143.8 L253.0 144.0 L253.5 144.1 L253.9 144.1 L254.4 144.3 L254.8 144.6 L255.3 144.8 L255.7 145.0 L256.2 145.2 L256.6 145.4 L257.1 145.6 L257.5 145.9 L258.0 146.2 L258.4 146.4 L258.9 146.7 L259.3 146.9 L259.7 147.1 L260.2 147.4 L260.6 147.7 L261.1 147.8 L261.5 147.9 L261.9 148.2 L262.3 148.6 L262.8 149.0 L263.2 149.3 L263.6 149.4 L264.0 149.5 L264.5 149.8 L264.9 150.1 L265.3 150.3 L265.7 150.6 L266.1 151.0 L266.5 151.4 L267.0 151.7 L267.4 152.0 L267.8 152.3 L268.2 152.5 L268.6 152.8 L269.0 153.1 L269.4 153.4 L269.8 153.7 L270.2 154.0 L270.6 154.3 L271.0 154.6 L271.3 155.0 L271.7 155.3 L272.1 155.6 L272.5 155.9 L272.9 156.2 L273.3 156.6 L273.6 156.9 L274.0 157.2 L274.4 157.6 L274.7 157.9 L275.1 158.3 L275.5 158.5 L275.8 158.7 L276.2 159.1 L276.6 159.4 L276.9 159.7 L277.3 160.0 L277.6 160.4 L278.0 160.8 L278.3 161.2 L278.7 161.6 L279.1 161.9 L279.4 162.3 L279.8 162.6 L280.1 163.1 L280.5 163.5 L280.8 163.9 L281.2 164.2 L281.5 164.6 L281.9 164.9 L282.3 165.3 L282.6 165.6 L283.0 165.9 L283.3 166.3 L283.7 166.8 L284.1 167.0 L284.4 167.3 L284.8 167.6 L285.1 168.0 L285.5 168.5 L285.9 168.8 L286.2 169.2 L286.6 169.5 L286.9 169.8 L287.3 170.2 L287.6 170.5 L288.0 170.9 L288.4 171.2 L288.7 171.5 L289.1 171.8 L289.4 172.2 L289.8 172.5 L290.1 172.9 L290.5 173.3 L290.8 173.8 L291.2 174.1 L291.5 174.4 L291.8 174.7 L292.2 175.1 L292.5 175.4 L292.9 175.8 L293.2 176.1 L293.5 176.5 L293.9 176.9 L294.2 177.3 L294.5 177.6 L294.9 178.0 L295.2 178.4 L295.5 178.8 L295.9 179.2 L296.2 179.6 L296.5 180.0 L296.8 180.4 L297.1 180.8 L297.5 181.2 L297.8 181.7 L298.1 182.1 L298.4 182.5 L298.7 182.9 L299.0 183.3 L299.3 183.7 L299.6 184.1 L299.9 184.4 L300.2 184.8 L300.5 185.2 L300.8 185.6 L301.1 186.0 L301.4 186.4 L301.7 186.8 L302.0 187.1 L302.2 187.4 L302.5 187.9 L302.8 188.3 L303.1 188.8 L303.4 189.2 L303.6 189.7 L303.9 190.1 L304.2 190.5 L304.4 190.9 L304.7 191.3 L305.0 191.7 L305.2 192.1 L305.5 192.5 L305.7 192.9 L306.0 193.4 L306.2 193.8 L306.5 194.2 L306.7 194.8 L306.9 195.3 L307.2 195.7 L307.4 196.2 L307.6 196.8 L307.9 197.2 L308.1 197.7 L308.3 198.1 L308.5 198.6 L308.7 199.0 L309.0 199.4 L309.2 199.7 L309.4 200.1 L309.6 200.5 L309.8 201.0 L310.0 201.5 L310.3 202.0 L310.5 202.4 L310.7 202.9 L310.9 203.4 L311.1 203.8 L311.3 204.3 L311.5 204.7 L311.7 205.2 L311.9 205.7 L312.1 206.1 L312.3 206.5 L312.5 207.0 L312.7 207.4 L312.9 207.9 L313.1 208.4 L313.3 208.9 L313.5 209.4 L313.7 209.8 L313.9 210.3 L314.1 210.8 L314.3 211.3 L314.5 211.8 L314.7 212.2 L314.9 212.6 L315.1 213.0 L315.3 213.5 L315.5 213.9 L315.7 214.3 L315.9 214.8 L316.1 215.3 L316.3 215.8 L316.5 216.3 L316.7 216.8 L316.9 217.2 L317.0 217.7 L317.2 218.2 L317.4 218.6 L317.6 219.1 L317.8 219.6 L318.0 220.0 L318.2 220.4 L318.4 220.8 L318.5 221.2 L318.7 221.7 L318.9 222.2 L319.1 222.6 L319.3 223.2 L319.5 223.7 L319.6 224.2 L319.8 224.6 L320.0 225.1 L320.2 225.6 L320.3 226.0 L320.5 226.5 L320.7 227.0 L320.9 227.5 L321.1 228.0 L321.2 228.4 L321.4 228.8 L321.6 229.3 L321.8 229.7 L321.9 230.2 L322.1 230.7 L322.3 231.2 L322.4 231.7 L322.6 232.1 L322.8 232.5 L322.9 233.0 L323.1 233.5 L323.3 233.9 L323.4 234.4 L323.6 234.9 L323.8 235.4 L323.9 235.9 L324.1 236.4 L324.3 236.9 L324.4 237.5 L324.6 237.9 L324.7 238.4 L324.9 238.9 L325.1 239.3 L325.2 239.8 L325.4 240.2 L325.5 240.6 L325.7 240.9 L325.8 241.4 L326.0 241.9 L326.2 242.5 L326.3 243.0 L326.5 243.5 L326.6 244.0 L326.8 244.5 L326.9 245.0 L327.1 245.5 L327.2 246.0 L327.4 246.5 L327.5 246.9 L327.7 247.4 L327.9 247.9 L328.0 248.2 L328.2 248.6 L328.3 249.1 L328.5 249.6 L328.6 250.1 L328.8 250.7 L328.9 251.2 L329.1 251.7 L329.3 252.1 L329.4 252.6 L329.6 253.1 L329.7 253.5 L329.9 253.8 L330.0 254.3 L330.2 254.8 L330.4 255.3 L330.5 255.7 L330.7 256.3 L330.8 256.8 L331.0 257.2 L331.2 257.8 L331.3 258.3 L331.5 258.8 L331.6 259.2 L331.8 259.6 L331.9 260.1 L332.1 260.6 L332.2 261.1 L332.4 261.5 L332.5 262.0 L332.7 262.5 L332.8 263.0 L332.9 263.5 L333.1 264.0 L333.2 264.4 L333.4 264.9 L333.5 265.4 L333.6 265.9 L333.8 266.3 L333.9 266.8 L334.0 267.3 L334.1 267.9 L334.3 268.5 L334.4 269.0 L334.5 269.4 L334.6 269.7 L334.7 270.3 L334.8 270.9 L334.9 271.3 L335.0 271.8 L335.1 272.3 L335.3 272.8 L335.4 273.3 L335.5 273.7 L335.6 274.2 L335.7 274.7 L335.8 275.2 L335.9 275.7 L336.0 276.2 L336.1 276.7 L336.2 277.2 L336.3 277.7 L336.4 278.2 L336.5 278.7 L336.6 279.2 L336.7 279.7 L336.8 280.2 L336.9 280.7 L337.0 281.2 L337.2 281.6 L337.3 282.0 L337.4 282.5 L337.5 283.0 L337.6 283.5 L337.8 284.0 L337.9 284.5 L338.0 285.0 L338.1 285.5 L338.3 285.9 L338.4 286.5 L338.5 287.1 L338.6 287.5 L338.8 288.0 L338.9 288.5 L339.0 289.0 L339.2 289.4 L339.3 289.9 L339.4 290.4 L339.6 290.7 L339.7 291.1 L339.8 291.7 L340.0 292.3 L340.1 292.7 L340.2 293.2 L340.4 293.6 L340.5 294.1 L340.7 294.5 L340.8 295.0 L340.9 295.5 L341.1 296.0 L341.2 296.4 L341.3 296.9 L341.5 297.5 L341.6 298.1 L341.8 298.6 L341.9 299.1 L342.1 299.6 L342.2 300.1 L342.3 300.4 L342.5 300.8 L342.6 301.2 L342.8 301.7 L342.9 302.2 L343.0 302.7 L343.2 303.3 L343.3 303.7 L343.5 304.2 L343.6 304.6 L343.7 305.1 L343.9 305.7 L344.0 306.2 L344.2 306.7 L344.3 307.2 L344.4 307.7 L344.6 308.1 L344.7 308.6 L344.9 309.1 L345.0 309.6 L345.1 310.1 L345.3 310.6 L345.4 311.1 L345.6 311.5 L345.7 311.9 L345.9 312.4 L346.0 312.9 L346.2 313.4 L346.3 313.9 L346.5 314.4 L346.6 314.8 L346.8 315.3 L347.0 315.7 L347.1 316.0 L347.3 316.6 L347.5 317.1 L347.7 317.6 L347.9 318.0 L348.1 318.5 L348.2 319.0 L348.4 319.6 L348.6 320.1 L348.8 320.5 L349.0 321.0 L349.2 321.5 L349.5 321.8 L349.7 322.2 L349.9 322.6 L350.1 323.0 L350.4 323.4 L350.6 323.8 L350.9 324.3 L351.1 324.7 L351.4 325.2 L351.7 325.7 L352.0 326.1 L352.3 326.4 L352.6 326.8 L352.9 327.1 L353.2 327.5 L353.6 327.9 L353.9 328.3 L354.3 328.6 L354.7 329.0 L355.0 329.3 L355.4 329.6 L355.8 329.9 L356.2 330.2 L356.6 330.5 L357.0 330.8 L357.4 331.1 L357.9 331.4 L358.3 331.6 L358.7 331.9 L359.2 332.1 L359.6 332.3 L360.1 332.4 L360.5 332.6 L361.0 332.8 L361.5 332.9 L361.9 333.0 L362.4 333.1 L362.9 333.2 L363.4 333.2 L363.9 333.3 L364.4 333.3 L364.9 333.4 L365.4 333.4 L365.9 333.4 L366.4 333.4 L366.9 333.4 L367.4 333.5 L367.9 333.5 L368.4 333.5 L368.9 333.5 L369.4 333.5 L369.9 333.5 L370.4 333.5 L370.9 333.5 L371.4 333.6 L371.9 333.6 L372.4 333.6 L372.9 333.6 L373.4 333.6 L373.8 333.6 L374.3 333.6 L374.7 333.6 L375.1 333.6 L375.4 333.6 L375.7 333.6 L376.0 333.6" stroke="#ff7f0e" stroke-width="1.019"/>
<path d="M41.6 320.0 L41.9 313.7 L42.1 311.7 L42.6 307.4 L43.1 304.2 L43.6 301.9 L44.1 300.6 L44.2 300.4 L44.6 299.8 L45.1 299.1 L45.6 298.7 L46.1 298.4 L46.4 298.3 L46.6 298.7 L47.1 300.4 L47.6 302.9 L47.8 303.9 L48.1 305.8 L48.6 309.5 L49.0 311.0 L49.1 311.0 L49.6 310.2 L50.1 308.8 L50.6 307.2 L51.1 306.1 L51.4 306.0 L51.6 306.3 L52.1 306.8 L52.6 307.8 L53.1 308.9 L53.6 310.7 L54.1 313.3 L54.6 316.3 L54.9 317.9 L55.1 319.1 L55.6 322.2 L56.1 324.8 L56.3 325.6 L56.6 326.3 L57.1 327.0 L57.6 327.8 L58.1 330.2 L58.6 332.8 L58.8 333.2 L59.1 333.5 L59.5 333.6 L59.6 333.6 L60.1 333.6 L60.6 333.6 L61.1 333.6 L61.6 333.6 L62.1 333.6 L62.6 333.6 L63.1 333.6 L63.6 333.6 L64.1 333.6 L64.6 333.6 L65.1 333.6 L65.6 333.6 L66.1 333.6 L66.6 333.6 L67.1 333.6 L67.6 333.6 L68.1 333.6 L68.6 333.6 L69.1 333.6 L69.6 333.6 L70.1 333.6 L70.6 333.6 L71.1 333.6 L71.6 333.6 L72.1 333.6 L72.6 333.6 L73.1 333.6 L73.6 333.6 L74.1 333.6 L74.6 333.6 L75.1 333.6 L75.6 333.6 L76.1 333.6 L76.6 333.6 L77.1 333.6 L77.6 333.6 L78.1 333.6 L78.6 333.6 L79.1 333.6 L79.6 333.6 L80.1 333.6 L80.6 333.6 L81.1 333.6 L81.6 333.6 L82.1 333.6 L82.6 333.6 L83.1 333.6 L83.6 333.6 L84.1 333.6 L84.6 333.6 L85.1 333.6 L85.6 333.6 L86.1 333.6 L86.6 333.6 L87.1 333.6 L87.6 333.6 L88.1 333.6 L88.6 333.6 L89.1 333.6 L89.6 333.6 L90.1 333.6 L90.6 333.6 L91.1 333.6 L91.6 333.6 L92.1 333.6 L92.6 333.6 L93.1 333.6 L93.6 333.6 L94.1 333.6 L94.6 333.6 L95.1 333.6 L95.6 333.6 L96.1 333.6 L96.6 333.6 L97.1 333.6 L97.6 333.6 L98.1 333.6 L98.6 333.6 L99.1 333.6 L99.6 333.6 L100.1 333.6 L100.6 333.6 L101.1 333.6 L101.6 333.6 L102.1 333.6 L102.6 333.6 L103.1 333.6 L103.6 333.6 L104.1 333.6 L104.6 333.6 L105.1 333.6 L105.6 333.6 L106.1 333.6 L106.6 333.6 L107.1 333.6 L107.6 333.6 L108.1 333.6 L108.6 333.6 L109.1 333.6 L109.6 333.6 L110.1 333.6 L110.6 333.6 L111.1 333.6 L111.6 333.6 L112.1 333.6 L112.6 333.6 L113.1 333.6 L113.6 333.6 L114.1 333.6 L114.6 333.6 L115.1 333.6 L115.6 333.6 L116.1 333.6 L116.6 333.6 L117.1 333.6 L117.6 333.6 L118.1 333.6 L118.6 333.6 L119.1 333.6 L119.6 333.6 L120.1 333.6 L120.6 333.6 L121.1 333.6 L121.6 333.6 L122.1 333.6 L122.6 333.6 L123.1 333.6 L123.6 333.6 L124.1 333.6 L124.6 333.6 L125.1 333.6 L125.6 333.6 L126.1 333.6 L126.6 333.6 L127.1 333.6 L127.6 333.6 L128.1 333.6 L128.6 333.6 L129.1 333.6 L129.6 333.6 L130.1 333.6 L130.6 333.6 L131.1 333.6 L131.6 333.6 L132.1 333.6 L132.6 333.6 L133.1 333.6 L133.6 333.6 L134.1 333.6 L134.6 333.6 L135.1 333.6 L135.6 333.6 L136.1 333.6 L136.6 333.6 L137.1 333.6 L137.6 333.6 L138.1 333.6 L138.6 333.6 L139.1 333.6 L139.6 333.6 L140.1 333.6 L140.6 333.6 L141.1 333.6 L141.6 333.6 L142.1 333.6 L142.6 333.6 L143.1 333.6 L143.6 333.6 L144.1 333.6 L144.6 333.6 L145.1 333.6 L145.6 333.6 L146.1 333.6 L146.6 333.6 L147.1 333.6 L147.6 333.6 L148.1 333.6 L148.6 333.6 L149.1 333.6 L149.6 333.6 L150.1 333.6 L150.6 333.6 L151.1 333.6 L151.6 333.6 L152.1 333.6 L152.6 333.6 L153.1 333.6 L153.6 333.6 L154.1 333.6 L154.6 333.6 L155.1 333.6 L155.6 333.6 L156.1 333.6 L156.6 333.6 L157.1 333.6 L157.6 333.6 L158.1 333.6 L158.6 333.6 L159.1 333.6 L159.6 333.6 L160.1 333.6 L160.6 333.6 L161.1 333.6 L161.6 333.6 L162.1 333.6 L162.6 333.6 L163.1 333.6 L163.6 333.6 L164.1 333.6 L164.6 333.6 L165.1 333.6 L165.6 333.6 L166.1 333.6 L166.6 333.6 L167.1 333.6 L167.6 333.6 L168.1 333.6 L168.6 333.6 L169.1 333.6 L169.6 333.6 L170.1 333.6 L170.6 333.6 L171.1 333.6 L171.6 333.6 L172.1 333.6 L172.6 333.6 L173.1 333.6 L173.6 333.6 L174.1 333.6 L174.6 333.6 L175.1 333.6 L175.6 333.6 L176.1 333.6 L176.6 333.6 L177.1 333.6 L177.6 333.6 L178.1 333.6 L178.6 333.6 L179.1 333.6 L179.6 333.6 L180.1 333.6 L180.6 333.6 L181.1 333.6 L181.6 333.6 L182.1 333.6 L182.6 333.6 L183.1 333.6 L183.6 333.6 L184.1 333.6 L184.6 333.6 L185.1 333.6 L185.6 333.6 L186.1 333.6 L186.6 333.6 L187.1 333.6 L187.6 333.6 L188.1 333.6 L188.6 333.6 L189.1 333.6 L189.6 333.6 L190.1 333.6 L190.6 333.6 L191.1 333.6 L191.6 333.6 L192.1 333.6 L192.6 333.6 L193.1 333.6 L193.6 333.6 L194.1 333.6 L194.6 333.6 L195.1 333.6 L195.6 333.6 L196.1 333.6 L196.6 333.6 L197.1 333.6 L197.6 333.6 L198.1 333.6 L198.6 333.6 L199.1 333.6 L199.6 333.6 L200.1 333.6 L200.6 333.6 L201.1 333.6 L201.6 333.6 L202.1 333.6 L202.6 333.6 L203.1 333.6 L203.6 333.6 L204.1 333.6 L204.6 333.6 L205.1 333.6 L205.6 333.6 L206.1 333.6 L206.6 333.6 L207.1 333.6 L207.6 333.6 L208.1 333.6 L208.6 333.6 L209.1 333.6 L209.6 333.6 L210.1 333.6 L210.6 333.6 L211.1 333.6 L211.6 333.6 L212.1 333.6 L212.6 333.6 L213.1 333.6 L213.6 333.6 L214.1 333.6 L214.6 333.6 L215.1 333.6 L215.6 333.6 L216.1 333.6 L216.6 333.6 L217.1 333.6 L217.6 333.6 L218.1 333.6 L218.6 333.6 L219.1 333.6 L219.6 333.6 L220.1 333.6 L220.6 333.6 L221.1 333.6 L221.6 333.6 L222.1 333.6 L222.6 333.6 L223.1 333.6 L223.6 333.6 L224.1 333.6 L224.6 333.6 L225.1 333.6 L225.6 333.6 L226.1 333.6 L226.6 333.6 L227.1 333.6 L227.6 333.6 L228.1 333.6 L228.6 333.6 L229.1 333.6 L229.6 333.6 L230.1 333.6 L230.6 333.6 L231.1 333.6 L231.6 333.6 L232.1 333.6 L232.6 333.6 L233.1 333.6 L233.6 333.6 L234.1 333.6 L234.6 333.6 L235.1 333.6 L235.6 333.6 L236.1 333.6 L236.6 333.6 L237.1 333.6 L237.6 333.6 L238.1 333.6 L238.6 333.6 L239.1 333.6 L239.6 333.6 L240.1 333.6 L240.6 333.6 L241.1 333.6 L241.6 333.6 L242.1 333.6 L242.6 333.6 L243.1 333.6 L243.6 333.6 L244.1 333.6 L244.6 333.6 L245.1 333.6 L245.6 333.6 L246.1 333.6 L246.6 333.6 L247.1 333.6 L247.6 333.6 L248.1 333.6 L248.6 333.6 L249.1 333.6 L249.6 333.6 L250.1 333.6 L250.6 333.6 L251.1 333.6 L251.6 333.6 L252.1 333.6 L252.6 333.6 L253.1 333.6 L253.6 333.6 L254.1 333.6 L254.6 333.6 L255.1 333.6 L255.6 333.6 L256.1 333.6 L256.6 333.6 L257.1 333.6 L257.6 333.6 L258.1 333.6 L258.6 333.6 L259.1 333.6 L259.6 333.6 L260.1 333.6 L260.6 333.6 L261.1 333.6 L261.6 333.6 L262.1 333.6 L262.6 333.6 L263.1 333.6 L263.6 333.6 L264.1 333.6 L264.6 333.6 L265.1 333.6 L265.6 333.6 L266.1 333.6 L266.6 333.6 L267.1 333.6 L267.6 333.6 L268.1 333.6 L268.6 333.6 L269.1 333.6 L269.6 333.6 L270.1 333.6 L270.6 333.6 L271.1 333.6 L271.6 333.6 L272.1 333.6 L272.6 333.6 L273.1 333.6 L273.6 333.6 L274.1 333.6 L274.6 333.6 L275.1 333.6 L275.6 333.6 L276.1 333.6 L276.6 333.6 L277.1 333.6 L277.6 333.6 L278.1 333.6 L278.6 333.6 L279.1 333.6 L279.6 333.6 L280.1 333.6 L280.6 333.6 L281.1 333.6 L281.6 333.6 L282.1 333.6 L282.6 333.6 L283.1 333.6 L283.6 333.6 L284.1 333.6 L284.6 333.6 L285.1 333.6 L285.6 333.6 L286.1 333.6 L286.6 333.6 L287.1 333.6 L287.6 333.6 L288.1 333.6 L288.6 333.6 L289.1 333.6 L289.6 333.6 L290.1 333.6 L290.6 333.6 L291.1 333.6 L291.6 333.6 L292.1 333.6 L292.6 333.6 L293.1 333.6 L293.6 333.6 L294.1 333.6 L294.6 333.6 L295.1 333.6 L295.6 333.6 L296.1 333.6 L296.6 333.6 L297.1 333.6 L297.6 333.6 L298.1 333.6 L298.6 333.6 L299.1 333.6 L299.6 333.6 L300.1 333.6 L300.6 333.6 L301.1 333.6 L301.6 333.6 L302.1 333.6 L302.6 333.6 L303.1 333.6 L303.6 333.6 L304.1 333.6 L304.6 333.6 L305.1 333.6 L305.6 333.6 L306.1 333.6 L306.6 333.6 L307.1 333.6 L307.6 333.6 L308.1 333.6 L308.6 333.6 L309.1 333.6 L309.6 333.6 L310.1 333.6 L310.6 333.6 L311.1 333.6 L311.6 333.6 L312.1 333.6 L312.6 333.6 L313.1 333.6 L313.6 333.6 L314.1 333.6 L314.6 333.6 L315.1 333.6 L315.6 333.6 L316.1 333.6 L316.6 333.6 L317.1 333.6 L317.6 333.6 L318.1 333.6 L318.6 333.6 L319.1 333.6 L319.6 333.6 L320.1 333.6 L320.6 333.6 L321.1 333.6 L321.6 333.6 L322.1 333.6 L322.6 333.6 L323.1 333.6 L323.6 333.6 L324.1 333.6 L324.6 333.6 L325.1 333.6 L325.6 333.6 L326.1 333.6 L326.6 333.6 L327.1 333.6 L327.6 333.6 L328.1 333.6 L328.6 333.6 L329.1 333.6 L329.6 333.6 L330.1 333.6 L330.6 333.6 L331.1 333.6 L331.6 333.6 L332.1 333.6 L332.6 333.6 L333.1 333.6 L333.6 333.6 L334.1 333.6 L334.6 333.6 L335.1 333.6 L335.6 333.6 L336.1 333.6 L336.6 333.6 L337.1 333.6 L337.6 333.6 L338.1 333.6 L338.6 333.6 L339.1 333.6 L339.6 333.6 L340.1 333.6 L340.6 333.6 L341.1 333.6 L341.6 333.6 L342.1 333.6 L342.6 333.6 L343.1 333.6 L343.6 333.6 L344.1 333.6 L344.6 333.6 L345.1 333.6 L345.6 333.6 L346.1 333.6 L346.6 333.6 L347.1 333.6 L347.6 333.6 L348.1 333.6 L348.6 333.6 L349.1 333.6 L349.6 333.6 L350.1 333.6 L350.6 333.6 L351.1 333.6 L351.6 333.6 L352.1 333.6 L352.6 333.6 L353.1 333.6 L353.6 333.6 L354.1 333.6 L354.6 333.6 L355.1 333.6 L355.6 333.6 L356.1 333.6 L356.6 333.6 L357.1 333.6 L357.6 333.6 L358.1 333.6 L358.6 333.6 L359.1 333.6 L359.6 333.6 L360.1 333.6 L360.6 333.6 L361.1 333.6 L361.6 333.6 L362.1 333.6 L362.6 333.6 L363.1 333.6 L363.6 333.6 L364.1 333.6 L364.6 333.6 L365.1 333.6 L365.6 333.6 L366.1 333.6 L366.6 333.6 L367.1 333.6 L367.6 333.6 L368.1 333.6 L368.6 333.6 L369.1 333.6 L369.6 333.6 L370.1 333.6 L370.6 333.6 L371.1 333.6 L371.6 333.6 L372.1 333.6 L372.6 333.6 L373.1 333.6 L373.6 333.6 L374.1 333.6 L374.6 333.6 L375.1 333.6 L375.6 333.6 L376.1 333.6 L376.6 333.6 L376.9 333.6" stroke="#2ca02c" stroke-width="1.019"/>
<path d="M41.6 304.6 L41.6 304.4 L41.7 304.1 L41.7 303.6 L41.7 303.1 L41.7 302.6 L41.8 302.1 L41.8 301.5 L41.8 300.9 L41.8 300.4 L41.9 299.9 L41.9 299.4 L41.9 298.9 L41.9 298.5 L42.0 298.1 L42.0 297.6 L42.0 297.1 L42.0 296.6 L42.1 296.1 L42.1 295.6 L42.1 295.1 L42.1 294.6 L42.2 293.9 L42.2 293.2 L42.2 292.7 L42.3 292.2 L42.3 291.7 L42.3 291.5 L42.3 291.3 L42.4 290.8 L42.4 290.2 L42.4 289.6 L42.4 289.1 L42.5 288.6 L42.5 288.1 L42.5 287.6 L42.6 287.1 L42.6 286.5 L42.6 285.8 L42.6 285.4 L42.7 284.9 L42.7 284.4 L42.7 283.9 L42.8 283.4 L42.8 282.9 L42.8 282.5 L42.9 282.0 L42.9 281.5 L42.9 281.0 L42.9 280.5 L43.0 279.9 L43.0 279.3 L43.0 278.8 L43.1 278.3 L43.1 278.0 L43.1 277.7 L43.2 277.2 L43.2 276.7 L43.2 276.2 L43.2 275.7 L43.3 275.0 L43.3 274.4 L43.3 273.9 L43.4 273.4 L43.4 272.9 L43.4 272.4 L43.5 271.9 L43.5 271.5 L43.5 271.0 L43.6 270.5 L43.6 270.0 L43.6 269.5 L43.7 269.0 L43.7 268.4 L43.7 267.9 L43.8 267.4 L43.8 266.7 L43.8 266.1 L43.9 265.6 L43.9 265.1 L43.9 264.6 L44.0 264.3 L44.0 264.0 L44.0 263.5 L44.1 262.9 L44.1 262.3 L44.2 261.8 L44.2 261.3 L44.2 260.8 L44.3 260.3 L44.3 259.9 L44.3 259.4 L44.4 259.0 L44.4 258.6 L44.4 258.1 L44.5 257.4 L44.5 256.7 L44.6 256.2 L44.6 255.7 L44.6 255.2 L44.7 255.1 L44.7 255.0 L44.8 254.5 L44.8 254.0 L44.8 253.2 L44.9 252.5 L44.9 252.0 L45.0 251.5 L45.0 251.1 L45.1 250.7 L45.1 250.4 L45.1 250.0 L45.2 249.5 L45.2 249.0 L45.3 248.4 L45.3 247.8 L45.4 247.3 L45.4 246.8 L45.5 246.3 L45.5 245.8 L45.6 245.1 L45.6 244.5 L45.7 244.0 L45.7 243.5 L45.8 243.0 L45.8 242.5 L45.9 242.0 L45.9 241.5 L46.0 241.1 L46.0 240.7 L46.1 240.2 L46.1 239.6 L46.2 239.0 L46.2 238.5 L46.3 238.1 L46.4 237.6 L46.4 237.1 L46.5 236.6 L46.5 236.1 L46.6 235.6 L46.7 235.1 L46.7 234.4 L46.8 233.7 L46.9 233.2 L46.9 232.8 L47.0 232.4 L47.1 232.0 L47.1 231.5 L47.2 231.1 L47.3 230.7 L47.4 230.2 L47.4 229.7 L47.5 229.2 L47.6 228.6 L47.7 228.1 L47.8 227.6 L47.8 227.1 L47.9 226.6 L48.0 226.2 L48.1 225.7 L48.2 225.2 L48.3 224.7 L48.4 224.0 L48.5 223.4 L48.6 223.2 L48.7 223.0 L48.8 222.5 L48.8 222.0 L49.0 221.3 L49.1 220.7 L49.2 220.2 L49.3 219.7 L49.4 219.2 L49.5 218.9 L49.6 218.6 L49.7 218.1 L49.8 217.7 L49.9 217.2 L50.1 216.7 L50.2 216.0 L50.3 215.3 L50.4 214.8 L50.5 214.4 L50.7 213.9 L50.8 213.4 L50.9 212.9 L51.0 212.4 L51.2 211.9 L51.3 211.4 L51.4 211.0 L51.5 210.4 L51.7 209.9 L51.8 209.6 L51.9 209.2 L52.0 208.7 L52.2 208.2 L52.3 207.8 L52.4 207.3 L52.6 206.9 L52.7 206.4 L52.8 205.9 L52.9 205.5 L53.1 205.1 L53.2 204.7 L53.4 204.2 L53.5 203.7 L53.7 203.2 L53.8 202.7 L54.0 202.2 L54.2 201.8 L54.3 201.3 L54.5 200.7 L54.7 200.2 L54.9 199.7 L55.0 199.3 L55.2 198.6 L55.4 197.9 L55.6 197.5 L55.7 197.0 L55.9 196.5 L56.1 196.1 L56.3 195.8 L56.5 195.5 L56.6 195.0 L56.8 194.6 L57.0 193.9 L57.1 193.3 L57.3 192.9 L57.5 192.4 L57.7 191.9 L57.8 191.6 L58.0 191.3 L58.2 190.7 L58.4 190.1 L58.6 189.6 L58.7 189.2 L58.9 188.9 L59.1 188.4 L59.3 187.9 L59.5 187.5 L59.7 187.0 L59.9 186.6 L60.1 186.3 L60.3 185.8 L60.5 185.4 L60.7 184.9 L60.9 184.4 L61.1 183.7 L61.3 183.0 L61.6 182.6 L61.8 182.3 L62.0 181.8 L62.2 181.6 L62.5 181.4 L62.7 180.9 L62.9 180.3 L63.2 179.9 L63.4 179.5 L63.6 179.0 L63.9 178.6 L64.2 178.2 L64.4 177.8 L64.7 177.2 L65.0 176.7 L65.2 176.3 L65.5 176.0 L65.8 175.6 L66.1 175.0 L66.4 174.5 L66.7 174.1 L67.0 173.7 L67.3 173.3 L67.6 172.9 L67.9 172.6 L68.2 172.4 L68.5 172.0 L68.8 171.6 L69.1 171.0 L69.3 170.4 L69.6 170.0 L69.9 169.8 L70.2 169.5 L70.4 169.1 L70.7 168.7 L71.0 168.3 L71.2 167.8 L71.5 167.4 L71.7 167.0 L72.0 166.6 L72.3 166.2 L72.6 165.8 L72.8 165.4 L73.1 164.8 L73.4 164.3 L73.7 163.9 L74.0 163.5 L74.3 163.1 L74.6 162.7 L74.8 162.4 L75.1 162.2 L75.4 161.7 L75.7 161.3 L76.0 160.9 L76.3 160.5 L76.6 159.9 L76.9 159.2 L77.1 158.8 L77.4 158.4 L77.7 158.1 L78.1 157.8 L78.4 157.4 L78.7 157.0 L79.0 156.6 L79.3 156.2 L79.6 155.8 L79.9 155.4 L80.2 155.1 L80.6 154.8 L80.9 154.4 L81.2 154.0 L81.6 153.6 L81.9 153.2 L82.3 152.8 L82.6 152.5 L83.0 152.1 L83.3 151.8 L83.7 151.4 L84.1 151.1 L84.5 150.7 L84.9 150.4 L85.3 150.3 L85.7 150.2 L86.1 149.9 L86.5 149.7 L86.9 149.4 L87.3 149.1 L87.8 148.6 L88.2 148.0 L88.6 147.8 L89.0 147.5 L89.4 147.3 L89.9 147.2 L90.3 147.1 L90.7 146.6 L91.1 146.2 L91.5 145.9 L91.9 145.7 L92.3 145.5 L92.8 145.3 L93.2 145.0 L93.6 144.7 L94.0 144.4 L94.4 144.2 L94.8 143.9 L95.2 143.5 L95.6 143.1 L96.0 142.9 L96.5 142.7 L96.9 142.4 L97.3 142.2 L97.7 141.9 L98.1 141.4 L98.5 140.9 L98.9 140.6 L99.3 140.3 L99.7 140.2 L100.1 140.1 L100.5 139.8 L100.9 139.4 L101.3 139.1 L101.7 138.9 L102.1 138.6 L102.5 138.3 L102.9 138.0 L103.3 137.8 L103.7 137.5 L104.1 137.1 L104.6 136.8 L105.0 136.6 L105.5 136.4 L105.9 136.2 L106.4 136.1 L106.9 135.9 L107.4 135.7 L107.8 135.6 L108.3 135.5 L108.8 135.4 L109.3 135.3 L109.8 135.2 L110.3 135.1 L110.8 134.9 L111.3 134.6 L111.7 134.5 L112.2 134.5 L112.7 134.4 L113.2 134.3 L113.7 134.3 L114.2 134.3 L114.7 134.2 L115.2 134.1 L115.6 134.0 L116.1 133.7 L116.6 133.5 L117.1 133.3 L117.6 133.2 L118.1 133.1 L118.6 132.9 L119.0 132.7 L119.5 132.5 L120.0 132.4 L120.4 132.4 L120.9 132.2 L121.3 131.9 L121.8 131.7 L122.2 131.5 L122.7 131.3 L123.1 131.2 L123.5 130.7 L123.9 130.2 L124.4 129.9 L124.8 129.7 L125.2 129.5 L125.6 129.3 L126.0 129.1 L126.5 128.8 L126.9 128.5 L127.3 128.2 L127.8 127.9 L128.2 127.7 L128.6 127.5 L129.1 127.4 L129.6 127.2 L130.0 127.0 L130.5 126.8 L131.0 126.7 L131.5 126.6 L131.9 126.5 L132.4 126.3 L132.9 126.2 L133.4 126.1 L133.9 126.0 L134.4 125.8 L134.8 125.7 L135.3 125.6 L135.8 125.5 L136.3 125.3 L136.8 125.1 L137.3 125.0 L137.8 124.9 L138.3 124.8 L138.8 124.8 L139.3 124.7 L139.7 124.7 L140.2 124.8 L140.7 124.7 L141.2 124.6 L141.7 124.5 L142.2 124.4 L142.7 124.1 L143.2 123.9 L143.6 123.8 L144.1 123.7 L144.6 123.5 L145.1 123.3 L145.6 123.1 L146.1 123.0 L146.6 122.9 L147.1 122.8 L147.6 122.8 L148.0 122.9 L148.5 122.8 L149.0 122.6 L149.5 122.4 L150.0 122.3 L150.5 122.2 L151.0 122.2 L151.5 122.1 L152.0 122.0 L152.5 121.9 L152.9 121.8 L153.4 121.7 L153.9 121.6 L154.4 121.5 L154.9 121.4 L155.4 121.3 L155.9 121.2 L156.4 121.2 L156.9 121.1 L157.4 121.0 L157.9 120.9 L158.4 120.9 L158.9 120.8 L159.4 120.7 L159.9 120.6 L160.4 120.6 L160.9 120.5 L161.4 120.5 L161.9 120.4 L162.3 120.4 L162.8 120.3 L163.3 120.3 L163.8 120.0 L164.3 119.8 L164.8 119.7 L165.3 120.1 L165.8 120.4 L166.3 120.4 L166.8 120.4 L167.3 120.3 L167.8 120.1 L168.3 119.8 L168.8 119.8 L169.3 120.0 L169.8 120.1 L170.3 120.1 L170.8 120.1 L171.3 120.1 L171.8 120.2 L172.3 120.0 L172.8 119.8 L173.3 119.9 L173.8 120.0 L174.3 120.2 L174.8 120.1 L175.3 120.1 L175.8 120.0 L176.3 120.0 L176.8 120.2 L177.3 120.4 L177.8 120.4 L178.3 120.4 L178.8 120.4 L179.3 120.4 L179.8 120.4 L180.3 120.4 L180.9 120.4 L181.4 120.5 L181.9 120.6 L182.4 120.6 L182.9 120.5 L183.4 120.4 L183.9 120.4 L184.4 120.4 L184.9 120.4 L185.4 120.4 L185.9 120.4 L186.4 120.3 L186.9 120.3 L187.4 120.3 L187.9 120.3 L188.4 120.3 L188.9 120.5 L189.4 120.7 L189.9 120.6 L190.4 120.4 L190.9 120.4 L191.4 120.4 L191.9 120.3 L192.4 120.3 L192.9 120.2 L193.4 120.1 L193.8 120.0 L194.3 120.0 L194.8 120.0 L195.3 119.9 L195.8 119.9 L196.3 119.8 L196.8 119.7 L197.3 119.5 L197.8 119.4 L198.3 119.3 L198.8 119.3 L199.3 119.3 L199.8 119.3 L200.3 119.3 L200.8 119.3 L201.3 119.3 L201.8 119.3 L202.3 119.4 L202.8 119.6 L203.3 119.8 L203.8 119.8 L204.3 119.9 L204.8 120.0 L205.3 120.0 L205.8 120.1 L206.3 120.0 L206.8 119.9 L207.3 120.0 L207.8 120.1 L208.3 120.3 L208.8 120.5 L209.3 120.6 L209.7 120.5 L210.2 120.3 L210.7 120.6 L211.2 121.0 L211.7 121.0 L212.2 121.1 L212.7 121.2 L213.2 121.3 L213.7 121.5 L214.2 121.7 L214.7 121.7 L215.2 121.8 L215.7 121.9 L216.2 122.0 L216.6 121.9 L217.1 121.7 L217.6 122.0 L218.1 122.3 L218.6 122.4 L219.1 122.3 L219.6 122.1 L220.1 122.3 L220.5 122.5 L221.0 122.7 L221.5 122.8 L222.0 123.0 L222.5 123.1 L222.9 123.3 L223.4 123.6 L223.9 123.7 L224.4 124.0 L224.8 124.3 L225.3 124.5 L225.8 124.6 L226.2 124.8 L226.7 124.9 L227.2 125.0 L227.7 125.2 L228.1 125.4 L228.6 125.5 L229.1 125.6 L229.5 125.8 L230.0 126.1 L230.5 126.3 L230.9 126.5 L231.4 126.6 L231.9 126.8 L232.3 127.1 L232.8 127.3 L233.3 127.5 L233.7 127.6 L234.2 127.7 L234.7 127.9 L235.1 128.1 L235.6 128.1 L236.1 128.2 L236.5 128.4 L237.0 128.5 L237.4 128.9 L237.9 129.2 L238.4 129.4 L238.8 129.4 L239.3 129.5 L239.8 129.7 L240.2 130.1 L240.7 130.5 L241.2 130.7 L241.6 130.9 L242.1 131.0 L242.6 131.1 L243.0 131.3 L243.5 131.3 L244.0 131.3 L244.4 131.5 L244.9 131.7 L245.4 131.9 L245.8 132.2 L246.3 132.4 L246.8 132.6 L247.2 132.8 L247.7 133.0 L248.2 133.2 L248.6 133.5 L249.1 133.8 L249.5 134.0 L250.0 134.3 L250.4 134.5 L250.9 134.6 L251.3 134.7 L251.7 134.9 L252.2 135.2 L252.6 135.4 L253.0 135.7 L253.5 135.8 L253.9 136.0 L254.3 136.3 L254.8 136.7 L255.2 137.0 L255.6 137.2 L256.0 137.3 L256.4 137.4 L256.9 137.7 L257.3 138.0 L257.7 138.2 L258.1 138.5 L258.6 138.9 L259.0 139.3 L259.4 139.6 L259.9 139.8 L260.3 140.0 L260.7 140.2 L261.2 140.5 L261.6 140.9 L262.1 141.1 L262.5 141.3 L263.0 141.4 L263.4 141.6 L263.9 141.8 L264.3 142.3 L264.8 142.8 L265.2 143.0 L265.6 142.9 L266.1 142.9 L266.5 143.1 L267.0 143.4 L267.4 143.6 L267.9 144.0 L268.3 144.3 L268.8 144.7 L269.2 145.0 L269.7 145.2 L270.1 145.5 L270.5 145.5 L271.0 145.6 L271.4 146.0 L271.8 146.3 L272.2 146.6 L272.7 146.9 L273.1 147.2 L273.5 147.4 L273.9 147.5 L274.4 147.8 L274.8 148.1 L275.2 148.3 L275.6 148.7 L276.0 149.0 L276.4 149.3 L276.8 149.6 L277.3 149.8 L277.7 150.1 L278.1 150.4 L278.5 150.7 L278.9 151.0 L279.3 151.3 L279.7 151.6 L280.1 151.8 L280.5 152.1 L280.9 152.4 L281.3 152.8 L281.7 153.1 L282.1 153.5 L282.5 153.7 L282.9 153.9 L283.2 154.2 L283.6 154.5 L284.0 154.8 L284.4 155.3 L284.8 155.8 L285.2 156.1 L285.6 156.4 L286.0 156.7 L286.3 157.1 L286.7 157.3 L287.1 157.5 L287.5 157.8 L287.8 158.1 L288.2 158.6 L288.6 159.1 L288.9 159.4 L289.3 159.8 L289.7 160.1 L290.0 160.4 L290.4 160.7 L290.7 161.1 L291.1 161.4 L291.4 161.8 L291.8 162.2 L292.1 162.4 L292.5 162.7 L292.8 163.0 L293.1 163.5 L293.5 164.0 L293.8 164.4 L294.1 164.8 L294.4 165.0 L294.7 165.3 L295.0 165.7 L295.3 166.1 L295.6 166.5 L295.9 167.1 L296.2 167.7 L296.5 168.1 L296.8 168.5 L297.1 169.0 L297.4 169.4 L297.7 169.6 L297.9 169.8 L298.2 170.2 L298.5 170.7 L298.8 171.1 L299.1 171.5 L299.4 171.9 L299.6 172.4 L299.9 172.8 L300.2 173.2 L300.5 173.7 L300.8 174.2 L301.0 174.6 L301.3 175.0 L301.6 175.4 L301.9 175.9 L302.1 176.3 L302.4 176.7 L302.7 177.2 L302.9 177.7 L303.2 177.9 L303.5 178.1 L303.7 178.5 L304.0 179.0 L304.3 179.4 L304.5 180.0 L304.8 180.7 L305.0 181.2 L305.3 181.6 L305.5 182.0 L305.8 182.3 L306.0 182.6 L306.3 183.0 L306.5 183.3 L306.7 183.8 L307.0 184.2 L307.2 184.7 L307.4 185.1 L307.7 185.6 L307.9 186.0 L308.1 186.5 L308.3 186.9 L308.5 187.4 L308.8 187.9 L309.0 188.4 L309.2 188.8 L309.4 189.2 L309.6 189.7 L309.9 190.3 L310.1 190.8 L310.3 191.3 L310.5 191.7 L310.7 192.1 L311.0 192.5 L311.2 193.0 L311.4 193.4 L311.6 193.9 L311.9 194.3 L312.1 194.8 L312.3 195.2 L312.6 195.4 L312.8 195.6 L313.0 196.4 L313.3 197.2 L313.5 197.6 L313.7 198.0 L313.9 198.5 L314.1 198.9 L314.4 199.2 L314.6 199.5 L314.8 200.0 L315.0 200.5 L315.1 201.0 L315.3 201.5 L315.5 201.8 L315.6 202.1 L315.8 202.5 L316.0 203.0 L316.1 203.5 L316.3 204.1 L316.4 204.8 L316.6 205.3 L316.7 205.7 L316.8 206.2 L317.0 206.7 L317.1 207.2 L317.3 207.8 L317.4 208.3 L317.5 208.7 L317.7 209.2 L317.8 209.6 L317.9 209.9 L318.1 210.4 L318.2 210.8 L318.3 211.3 L318.5 211.8 L318.6 212.5 L318.8 213.3 L318.9 213.8 L319.1 214.2 L319.2 214.6 L319.4 215.0 L319.5 215.5 L319.7 216.0 L319.8 216.5 L320.0 216.9 L320.1 217.2 L320.3 217.5 L320.4 217.9 L320.6 218.4 L320.7 219.0 L320.9 219.7 L321.0 220.1 L321.2 220.6 L321.3 221.1 L321.5 221.7 L321.7 222.2 L321.8 222.7 L322.0 223.2 L322.1 223.7 L322.3 224.1 L322.4 224.4 L322.6 224.9 L322.7 225.4 L322.9 225.9 L323.1 226.3 L323.2 226.7 L323.4 227.2 L323.5 227.7 L323.7 228.1 L323.8 228.6 L324.0 229.1 L324.1 229.5 L324.3 230.0 L324.4 230.7 L324.6 231.3 L324.7 231.8 L324.9 232.2 L325.0 232.5 L325.2 233.0 L325.3 233.5 L325.5 234.0 L325.6 234.5 L325.8 235.0 L325.9 235.5 L326.1 236.0 L326.2 236.4 L326.4 236.9 L326.5 237.4 L326.6 238.0 L326.8 238.4 L326.9 238.9 L327.1 239.4 L327.2 239.9 L327.3 240.4 L327.5 240.9 L327.6 241.4 L327.7 241.9 L327.9 242.3 L328.0 242.8 L328.1 243.3 L328.3 243.8 L328.4 244.2 L328.5 244.7 L328.7 245.0 L328.8 245.3 L328.9 245.8 L329.1 246.3 L329.2 246.8 L329.3 247.3 L329.4 247.7 L329.6 248.2 L329.7 248.7 L329.8 249.1 L330.0 249.6 L330.1 250.3 L330.2 250.9 L330.3 251.4 L330.5 251.9 L330.6 252.4 L330.7 252.9 L330.9 253.4 L331.0 253.9 L331.1 254.4 L331.2 254.9 L331.4 255.4 L331.5 255.8 L331.6 256.2 L331.8 256.7 L331.9 257.2 L332.0 257.5 L332.2 257.7 L332.3 258.2 L332.4 258.7 L332.6 259.2 L332.7 259.7 L332.8 260.2 L333.0 260.7 L333.1 261.2 L333.3 261.6 L333.4 262.1 L333.6 262.5 L333.7 263.0 L333.8 263.6 L334.0 264.3 L334.1 264.7 L334.2 265.2 L334.4 265.7 L334.5 266.1 L334.6 266.6 L334.7 267.1 L334.9 267.6 L335.0 268.0 L335.1 268.5 L335.2 268.9 L335.3 269.4 L335.4 270.0 L335.5 270.5 L335.6 271.0 L335.7 271.5 L335.9 272.0 L336.0 272.6 L336.1 273.1 L336.2 273.5 L336.3 274.0 L336.4 274.4 L336.5 274.7 L336.6 275.2 L336.7 275.7 L336.8 276.4 L336.9 277.0 L337.0 277.5 L337.1 278.1 L337.3 278.6 L337.4 279.1 L337.5 279.6 L337.6 280.1 L337.7 280.5 L337.8 280.9 L337.9 281.3 L338.1 281.7 L338.2 282.1 L338.3 282.6 L338.4 283.1 L338.5 283.6 L338.6 284.2 L338.8 284.7 L338.9 285.2 L339.0 285.8 L339.1 286.5 L339.2 286.9 L339.4 287.4 L339.5 287.9 L339.6 288.4 L339.7 288.5 L339.8 288.6 L340.0 289.1 L340.1 289.6 L340.2 290.0 L340.3 290.7 L340.5 291.4 L340.6 291.8 L340.7 292.3 L340.8 292.8 L341.0 293.3 L341.1 293.7 L341.2 294.2 L341.3 294.7 L341.5 295.3 L341.6 295.9 L341.7 296.4 L341.8 296.9 L342.0 297.4 L342.1 297.9 L342.2 298.3 L342.4 298.7 L342.5 299.2 L342.6 299.6 L342.7 300.2 L342.9 300.7 L343.0 301.1 L343.1 301.5 L343.3 302.0 L343.4 302.5 L343.5 303.0 L343.6 303.4 L343.8 303.8 L343.9 304.3 L344.0 304.7 L344.2 305.4 L344.3 306.0 L344.4 306.5 L344.6 307.0 L344.7 307.5 L344.8 308.0 L345.0 308.5 L345.1 309.1 L345.3 309.6 L345.4 310.0 L345.6 310.5 L345.7 310.9 L345.9 311.4 L346.0 311.9 L346.2 312.4 L346.3 312.9 L346.5 313.4 L346.7 313.8 L346.9 314.3 L347.0 314.8 L347.2 315.2 L347.4 315.8 L347.6 316.3 L347.8 316.8 L348.0 317.1 L348.2 317.4 L348.4 318.0 L348.6 318.6 L348.8 319.1 L349.0 319.5 L349.2 320.0 L349.4 320.4 L349.6 320.9 L349.8 321.3 L350.1 321.7 L350.3 322.1 L350.6 322.5 L350.8 323.1 L351.1 323.7 L351.3 323.8 L351.6 323.9 L351.9 324.3 L352.1 324.9 L352.4 325.4 L352.7 325.8 L353.0 326.2 L353.3 326.6 L353.6 327.0 L353.9 327.4 L354.2 327.8 L354.6 328.2 L354.9 328.6 L355.2 329.0 L355.6 329.3 L356.0 329.7 L356.3 329.8 L356.7 330.0 L357.1 330.4 L357.5 330.7 L357.9 331.0 L358.3 331.3 L358.7 331.6 L359.1 331.9 L359.6 332.1 L360.0 332.3 L360.5 332.5 L361.0 332.7 L361.4 332.8 L361.9 332.9 L362.4 333.0 L362.9 333.1 L363.4 333.2 L363.9 333.3 L364.4 333.3 L364.9 333.4 L365.4 333.4 L365.9 333.5 L366.4 333.5 L366.9 333.5 L367.4 333.6 L367.9 333.6 L368.4 333.6 L368.9 333.6 L369.4 333.6 L369.9 333.6 L370.4 333.6 L370.9 333.6 L371.4 333.6 L371.9 333.6 L372.4 333.6 L372.9 333.6 L373.4 333.6 L373.9 333.6 L374.4 333.6 L374.9 333.6 L375.3 333.6 L375.7 333.6 L376.1 333.6 L376.4 333.6" stroke="#d62728" stroke-width="1.019"/>
<path d="M41.6 304.4 L41.6 303.9 L41.7 303.6 L41.7 303.2 L41.7 302.9 L41.7 302.4 L41.7 301.9 L41.8 301.4 L41.8 300.9 L41.8 300.5 L41.8 300.2 L41.8 299.7 L41.9 299.2 L41.9 298.7 L41.9 298.2 L41.9 297.7 L41.9 297.2 L42.0 296.7 L42.0 296.2 L42.0 295.7 L42.0 295.2 L42.1 294.7 L42.1 294.1 L42.1 293.6 L42.1 293.1 L42.1 292.6 L42.2 292.1 L42.2 291.6 L42.2 291.0 L42.2 290.5 L42.3 290.1 L42.3 289.7 L42.3 289.2 L42.3 288.7 L42.4 288.2 L42.4 287.6 L42.4 286.9 L42.4 286.4 L42.5 285.9 L42.5 285.4 L42.5 284.7 L42.5 283.9 L42.5 283.4 L42.6 283.4 L42.6 283.4 L42.6 282.9 L42.6 282.4 L42.7 281.9 L42.7 281.4 L42.7 280.9 L42.8 280.4 L42.8 279.7 L42.8 279.0 L42.8 278.5 L42.9 278.0 L42.9 277.6 L42.9 277.2 L42.9 276.7 L43.0 276.3 L43.0 276.0 L43.0 275.5 L43.0 274.6 L43.1 273.8 L43.1 273.3 L43.1 272.9 L43.2 272.4 L43.2 271.9 L43.2 271.4 L43.3 270.9 L43.3 270.1 L43.3 269.3 L43.4 268.8 L43.4 268.7 L43.4 268.5 L43.5 268.0 L43.5 267.7 L43.5 267.4 L43.6 266.9 L43.6 266.4 L43.7 265.9 L43.7 265.4 L43.8 264.8 L43.8 264.1 L43.9 263.6 L43.9 263.1 L44.0 262.6 L44.0 262.1 L44.1 261.6 L44.1 261.1 L44.2 260.8 L44.3 260.6 L44.3 260.1 L44.4 259.6 L44.5 259.1 L44.6 258.6 L44.7 258.1 L44.7 257.7 L44.8 257.2 L44.9 256.7 L45.0 255.8 L45.1 255.0 L45.2 254.5 L45.3 254.0 L45.4 253.5 L45.5 253.2 L45.6 252.9 L45.7 252.4 L45.9 251.9 L46.0 251.4 L46.1 250.9 L46.2 250.4 L46.3 249.9 L46.5 249.4 L46.6 248.9 L46.7 248.4 L46.8 247.8 L47.0 247.1 L47.1 246.6 L47.2 246.1 L47.3 245.6 L47.4 245.2 L47.5 244.8 L47.6 244.5 L47.7 244.0 L47.8 243.5 L47.9 243.0 L48.0 242.4 L48.1 241.7 L48.3 241.4 L48.4 241.0 L48.5 240.5 L48.6 240.0 L48.7 239.5 L48.8 238.9 L48.9 238.2 L49.0 237.7 L49.1 237.4 L49.2 237.0 L49.3 236.5 L49.4 235.9 L49.5 235.4 L49.6 234.9 L49.7 234.3 L49.9 233.8 L50.0 233.3 L50.1 232.8 L50.2 232.3 L50.3 231.9 L50.4 231.6 L50.6 231.1 L50.7 230.6 L50.8 230.1 L50.9 229.6 L51.0 229.2 L51.2 228.7 L51.3 228.2 L51.4 227.7 L51.5 227.3 L51.7 226.8 L51.8 226.0 L51.9 225.3 L52.0 224.8 L52.2 224.3 L52.3 223.8 L52.4 223.8 L52.6 223.9 L52.7 223.4 L52.8 222.6 L52.9 221.7 L53.1 221.3 L53.2 220.9 L53.3 220.4 L53.5 219.9 L53.6 219.3 L53.8 218.9 L53.9 218.4 L54.0 217.9 L54.2 217.5 L54.3 217.1 L54.5 216.6 L54.6 216.1 L54.8 215.7 L54.9 215.3 L55.1 214.9 L55.3 214.5 L55.4 214.0 L55.6 213.4 L55.8 212.7 L55.9 212.3 L56.1 211.8 L56.3 211.5 L56.5 211.2 L56.7 210.7 L56.9 210.2 L57.1 209.7 L57.3 209.2 L57.6 208.8 L57.8 208.3 L58.0 207.9 L58.3 207.5 L58.5 207.0 L58.8 206.6 L59.0 206.2 L59.3 205.8 L59.6 205.2 L59.8 204.6 L60.1 204.2 L60.3 203.8 L60.6 203.3 L60.8 203.1 L61.1 202.8 L61.3 202.3 L61.5 201.9 L61.8 201.4 L62.0 201.0 L62.2 200.5 L62.4 200.1 L62.7 199.6 L62.9 199.2 L63.1 199.0 L63.3 198.8 L63.5 198.4 L63.7 197.7 L63.9 197.0 L64.1 196.5 L64.4 196.1 L64.6 195.6 L64.8 195.2 L65.1 194.7 L65.3 194.2 L65.6 193.7 L65.8 193.5 L66.1 193.3 L66.4 192.6 L66.7 191.9 L67.0 191.5 L67.2 191.1 L67.5 190.7 L67.8 190.2 L68.1 189.8 L68.4 189.6 L68.7 189.5 L69.0 189.1 L69.2 188.6 L69.5 187.9 L69.7 187.2 L69.9 186.7 L70.1 186.3 L70.3 186.1 L70.5 185.9 L70.7 185.5 L70.9 185.1 L71.1 184.4 L71.2 183.8 L71.4 183.3 L71.6 182.8 L71.8 182.4 L72.0 182.1 L72.3 181.8 L72.5 181.2 L72.7 180.6 L73.0 180.2 L73.3 179.8 L73.5 179.3 L73.8 178.9 L74.1 178.6 L74.4 178.2 L74.7 177.8 L75.0 177.4 L75.2 177.0 L75.5 176.6 L75.8 176.2 L76.1 175.8 L76.4 175.4 L76.7 175.0 L77.0 174.6 L77.3 174.2 L77.6 173.8 L77.9 173.5 L78.2 173.2 L78.5 172.8 L78.8 172.4 L79.0 172.0 L79.3 171.5 L79.6 171.1 L79.9 170.7 L80.1 170.1 L80.4 169.5 L80.7 169.0 L80.9 168.6 L81.2 168.1 L81.4 167.7 L81.7 167.3 L82.0 166.8 L82.2 166.4 L82.5 166.3 L82.8 166.3 L83.1 165.9 L83.4 165.5 L83.7 165.1 L84.0 164.7 L84.3 164.0 L84.7 163.3 L85.0 162.9 L85.3 162.5 L85.7 162.1 L86.0 161.7 L86.3 161.4 L86.7 161.0 L87.0 160.7 L87.4 160.3 L87.8 160.0 L88.1 159.7 L88.5 159.4 L88.8 159.0 L89.2 158.6 L89.6 158.3 L89.9 157.9 L90.3 157.6 L90.6 157.2 L91.0 156.9 L91.3 156.7 L91.7 156.5 L92.1 156.2 L92.4 155.8 L92.8 155.5 L93.2 155.1 L93.5 154.8 L93.9 154.6 L94.3 154.3 L94.7 154.1 L95.2 153.5 L95.6 152.9 L96.0 152.7 L96.4 152.4 L96.9 152.2 L97.3 152.2 L97.8 152.2 L98.2 151.7 L98.7 151.2 L99.1 151.0 L99.6 151.2 L100.1 151.3 L100.5 151.1 L101.0 150.9 L101.4 150.8 L101.9 150.6 L102.4 150.1 L102.9 149.5 L103.3 149.4 L103.8 149.2 L104.3 149.3 L104.7 149.5 L105.2 149.3 L105.7 149.1 L106.2 148.9 L106.6 148.6 L107.1 148.5 L107.6 148.3 L108.1 148.2 L108.5 148.0 L109.0 147.7 L109.5 147.6 L110.0 147.4 L110.4 147.1 L110.9 146.7 L111.4 146.6 L111.9 146.4 L112.3 146.2 L112.8 146.1 L113.3 146.4 L113.7 146.7 L114.2 146.4 L114.7 146.0 L115.2 145.8 L115.6 145.7 L116.1 145.5 L116.6 145.1 L117.0 144.6 L117.5 144.5 L118.0 144.3 L118.5 144.1 L118.9 144.2 L119.4 144.3 L119.9 144.2 L120.4 144.0 L120.8 143.8 L121.3 143.7 L121.8 143.5 L122.3 143.4 L122.7 143.1 L123.2 142.8 L123.7 142.6 L124.2 142.5 L124.7 142.5 L125.1 142.4 L125.6 142.1 L126.1 141.8 L126.6 141.7 L127.0 141.5 L127.5 141.4 L128.0 141.2 L128.5 141.1 L129.0 141.0 L129.5 140.9 L130.0 140.8 L130.4 140.7 L130.9 140.6 L131.4 140.5 L131.9 140.5 L132.4 140.5 L132.9 140.4 L133.4 140.3 L133.9 140.2 L134.4 140.1 L134.8 140.0 L135.3 139.9 L135.8 139.7 L136.3 139.5 L136.8 139.4 L137.3 139.3 L137.8 139.2 L138.3 139.4 L138.8 139.6 L139.3 139.5 L139.8 139.4 L140.2 139.3 L140.7 139.2 L141.2 138.9 L141.7 138.7 L142.2 138.6 L142.7 138.4 L143.2 138.3 L143.7 138.2 L144.1 138.0 L144.6 138.0 L145.1 137.9 L145.6 137.7 L146.1 137.6 L146.6 137.5 L147.1 137.4 L147.6 137.3 L148.1 137.1 L148.5 136.9 L149.0 136.9 L149.5 136.9 L150.0 136.8 L150.5 136.8 L151.0 136.7 L151.5 136.7 L152.0 136.7 L152.5 136.7 L153.0 137.0 L153.5 137.3 L154.0 137.3 L154.5 137.3 L155.0 137.3 L155.5 137.0 L156.0 136.7 L156.5 136.7 L157.1 136.7 L157.6 136.7 L158.1 136.9 L158.6 137.1 L159.1 137.1 L159.6 137.1 L160.1 137.1 L160.6 137.0 L161.1 136.9 L161.6 136.9 L162.1 136.9 L162.6 136.9 L163.1 136.9 L163.6 137.0 L164.1 137.0 L164.6 136.8 L165.1 136.6 L165.6 136.7 L166.1 136.9 L166.6 137.1 L167.1 137.1 L167.6 137.2 L168.1 137.2 L168.6 137.5 L169.1 137.9 L169.6 137.9 L170.1 137.9 L170.5 138.0 L171.0 138.0 L171.5 137.8 L172.0 137.5 L172.5 137.6 L173.0 137.7 L173.5 137.8 L174.0 137.9 L174.5 138.0 L175.0 138.1 L175.5 138.2 L176.0 138.5 L176.5 138.8 L177.0 138.9 L177.5 138.9 L178.0 139.0 L178.5 139.1 L178.9 139.0 L179.4 138.9 L179.9 139.0 L180.4 139.1 L180.9 139.2 L181.4 139.0 L181.9 138.9 L182.4 139.1 L182.9 139.3 L183.4 139.4 L183.9 139.4 L184.4 139.5 L184.9 139.8 L185.4 140.2 L185.9 140.1 L186.4 139.9 L186.9 140.0 L187.4 140.1 L187.8 140.2 L188.3 140.2 L188.8 140.4 L189.3 140.6 L189.8 140.7 L190.3 140.8 L190.8 141.1 L191.3 141.3 L191.8 141.5 L192.2 141.6 L192.7 141.3 L193.2 141.1 L193.7 141.3 L194.2 141.4 L194.6 141.6 L195.1 141.9 L195.6 142.3 L196.0 142.4 L196.5 142.6 L197.0 142.8 L197.4 143.0 L197.9 143.2 L198.4 143.4 L198.8 143.5 L199.3 143.7 L199.8 143.9 L200.2 144.1 L200.7 144.2 L201.1 144.4 L201.6 144.8 L202.0 145.3 L202.4 145.5 L202.9 145.5 L203.3 145.6 L203.7 145.8 L204.2 146.1 L204.6 146.4 L205.0 146.6 L205.5 147.1 L205.9 147.7 L206.3 147.9 L206.7 148.1 L207.1 148.3 L207.6 148.4 L208.0 148.4 L208.4 148.7 L208.8 149.0 L209.2 149.3 L209.6 149.5 L210.1 149.8 L210.5 150.1 L210.9 150.4 L211.3 150.7 L211.7 150.9 L212.1 151.2 L212.5 151.4 L212.9 151.7 L213.4 152.0 L213.8 152.6 L214.2 153.2 L214.6 153.5 L215.0 153.8 L215.4 154.1 L215.8 154.4 L216.2 154.5 L216.6 154.7 L217.0 154.9 L217.4 155.0 L217.8 155.3 L218.2 155.5 L218.7 155.8 L219.1 156.1 L219.5 156.2 L219.9 156.4 L220.3 156.7 L220.7 157.0 L221.2 157.5 L221.6 158.1 L222.0 158.3 L222.5 158.6 L222.9 158.8 L223.3 159.1 L223.7 159.2 L224.2 159.3 L224.6 159.5 L225.0 159.6 L225.5 159.9 L225.9 160.2 L226.3 160.4 L226.8 160.7 L227.2 161.1 L227.6 161.5 L228.1 161.8 L228.5 162.0 L228.9 162.3 L229.3 162.6 L229.8 163.2 L230.2 163.8 L230.6 164.1 L231.0 164.3 L231.5 164.6 L231.9 164.4 L232.3 164.2 L232.7 164.5 L233.1 165.0 L233.5 165.4 L234.0 165.7 L234.4 166.0 L234.8 166.3 L235.2 166.5 L235.6 166.6 L236.0 166.9 L236.4 167.2 L236.8 167.5 L237.2 167.6 L237.6 167.7 L238.0 168.3 L238.4 168.9 L238.8 169.2 L239.2 169.5 L239.6 169.8 L240.0 170.1 L240.4 170.4 L240.8 170.8 L241.1 171.1 L241.5 171.5 L241.9 171.9 L242.2 172.0 L242.6 172.2 L242.9 172.6 L243.3 173.0 L243.6 173.4 L244.0 173.8 L244.3 174.3 L244.7 174.9 L245.0 175.2 L245.4 175.4 L245.7 175.5 L246.1 175.9 L246.4 176.4 L246.8 177.0 L247.1 177.3 L247.5 177.7 L247.8 178.1 L248.2 178.3 L248.5 178.5 L248.9 178.8 L249.2 179.2 L249.6 179.5 L249.9 179.9 L250.3 180.2 L250.6 180.6 L251.0 180.9 L251.3 181.3 L251.7 181.6 L252.1 181.9 L252.4 182.2 L252.8 182.6 L253.1 182.9 L253.5 183.4 L253.8 183.9 L254.2 184.3 L254.5 184.6 L254.9 185.0 L255.2 185.3 L255.6 185.7 L255.9 186.0 L256.3 186.2 L256.6 186.4 L257.0 186.9 L257.3 187.4 L257.7 187.7 L258.1 188.1 L258.4 188.4 L258.8 188.6 L259.1 188.8 L259.5 189.2 L259.8 189.5 L260.2 189.9 L260.5 190.2 L260.9 190.7 L261.2 191.1 L261.6 191.4 L261.9 191.7 L262.2 192.1 L262.6 192.4 L262.9 192.8 L263.3 193.2 L263.6 193.5 L263.9 193.8 L264.3 194.2 L264.6 194.6 L264.9 195.0 L265.3 195.7 L265.6 196.5 L265.9 196.9 L266.2 197.1 L266.5 197.3 L266.9 197.6 L267.2 198.1 L267.5 198.6 L267.8 198.9 L268.1 199.3 L268.4 199.7 L268.8 200.1 L269.1 200.5 L269.4 200.9 L269.7 201.3 L270.0 201.5 L270.3 201.7 L270.6 202.1 L270.9 202.5 L271.2 202.9 L271.5 203.4 L271.8 203.9 L272.1 204.3 L272.4 204.7 L272.7 205.1 L273.0 205.4 L273.3 205.7 L273.7 205.9 L274.0 206.2 L274.3 207.0 L274.6 207.7 L274.9 207.9 L275.3 208.1 L275.6 208.4 L275.9 208.7 L276.2 209.1 L276.5 209.5 L276.8 209.9 L277.1 210.4 L277.4 210.9 L277.7 211.3 L278.0 211.5 L278.3 211.8 L278.6 212.4 L278.8 213.1 L279.1 213.5 L279.4 213.9 L279.6 214.4 L279.9 214.8 L280.1 215.1 L280.4 215.5 L280.6 215.9 L280.9 216.3 L281.1 216.8 L281.4 217.4 L281.6 218.0 L281.9 218.4 L282.1 218.8 L282.4 219.3 L282.6 219.7 L282.9 220.0 L283.1 220.3 L283.4 220.8 L283.7 221.2 L283.9 221.6 L284.2 222.1 L284.5 222.6 L284.8 223.0 L285.1 223.4 L285.3 223.8 L285.6 224.3 L285.9 224.9 L286.2 225.3 L286.5 225.7 L286.8 226.1 L287.1 226.5 L287.3 226.8 L287.6 227.0 L287.9 227.4 L288.2 227.9 L288.5 228.3 L288.8 228.7 L289.1 229.1 L289.4 229.2 L289.7 229.4 L290.0 230.1 L290.3 230.7 L290.6 231.1 L290.9 231.6 L291.2 232.1 L291.5 232.6 L291.8 232.7 L292.1 232.9 L292.4 233.3 L292.7 233.7 L293.0 234.0 L293.3 234.4 L293.6 234.8 L293.9 235.2 L294.2 235.7 L294.5 236.2 L294.8 236.6 L295.1 237.2 L295.4 237.8 L295.7 238.2 L296.0 238.3 L296.3 238.3 L296.6 239.4 L296.9 240.4 L297.2 240.4 L297.5 240.5 L297.8 240.8 L298.0 241.2 L298.3 241.6 L298.6 241.6 L298.9 241.7 L299.1 242.1 L299.4 242.5 L299.6 243.0 L299.9 243.7 L300.2 244.5 L300.4 245.0 L300.7 245.2 L300.9 245.4 L301.1 245.9 L301.4 246.3 L301.6 246.7 L301.9 247.2 L302.1 247.7 L302.3 248.3 L302.6 248.7 L302.8 249.1 L303.0 249.5 L303.3 249.9 L303.5 250.4 L303.7 250.8 L304.0 251.3 L304.2 251.9 L304.4 252.5 L304.6 253.0 L304.9 253.4 L305.1 253.9 L305.3 254.3 L305.5 254.7 L305.7 255.0 L305.9 255.4 L306.1 255.7 L306.3 256.1 L306.5 256.6 L306.7 257.0 L306.9 257.5 L307.1 258.3 L307.3 259.1 L307.5 259.6 L307.7 260.0 L307.9 260.5 L308.1 261.0 L308.3 261.3 L308.5 261.6 L308.7 262.0 L308.9 262.4 L309.1 262.8 L309.3 263.3 L309.5 263.8 L309.7 264.3 L310.0 264.7 L310.2 265.2 L310.4 265.8 L310.6 266.5 L310.8 267.0 L311.0 267.4 L311.3 267.6 L311.5 267.7 L311.7 268.2 L312.0 268.6 L312.2 269.1 L312.4 269.7 L312.7 270.1 L312.9 270.5 L313.1 271.0 L313.4 271.4 L313.6 271.7 L313.8 272.0 L314.1 272.4 L314.3 272.8 L314.6 273.4 L314.8 274.0 L315.0 274.4 L315.3 274.8 L315.5 275.2 L315.7 275.6 L316.0 276.1 L316.2 276.5 L316.5 276.9 L316.7 277.4 L316.9 277.8 L317.1 278.3 L317.4 278.8 L317.6 279.4 L317.8 279.8 L318.1 280.3 L318.3 280.7 L318.5 281.2 L318.8 281.7 L319.0 282.2 L319.2 282.6 L319.5 282.9 L319.7 283.4 L319.9 283.8 L320.1 284.4 L320.4 285.0 L320.6 285.4 L320.8 285.9 L321.1 286.2 L321.3 286.5 L321.5 287.0 L321.7 287.4 L322.0 287.9 L322.2 288.3 L322.4 288.8 L322.6 289.3 L322.9 289.7 L323.1 290.2 L323.3 290.6 L323.5 291.1 L323.7 291.5 L323.9 292.0 L324.1 292.4 L324.4 292.9 L324.6 293.2 L324.8 293.5 L325.0 294.2 L325.2 294.8 L325.4 295.3 L325.6 295.7 L325.8 296.2 L325.9 296.7 L326.1 297.1 L326.3 297.5 L326.5 297.9 L326.7 298.2 L326.9 298.8 L327.1 299.4 L327.3 299.8 L327.5 300.3 L327.7 300.5 L327.9 300.8 L328.1 301.2 L328.2 301.9 L328.4 302.5 L328.6 302.9 L328.8 303.4 L329.0 303.8 L329.2 304.3 L329.4 304.7 L329.6 305.1 L329.9 305.6 L330.1 306.1 L330.3 306.7 L330.5 307.2 L330.7 307.6 L331.0 308.1 L331.2 308.5 L331.4 308.8 L331.7 309.2 L331.9 309.6 L332.2 310.1 L332.4 310.5 L332.7 311.0 L332.9 311.4 L333.2 311.9 L333.4 312.3 L333.7 312.7 L334.0 313.1 L334.2 313.6 L334.5 314.1 L334.8 314.5 L335.1 314.9 L335.3 315.3 L335.6 315.6 L335.9 316.0 L336.2 316.4 L336.5 316.7 L336.7 317.1 L337.0 317.5 L337.3 317.9 L337.6 318.3 L337.9 318.7 L338.2 319.1 L338.5 319.7 L338.8 320.3 L339.1 320.7 L339.4 320.9 L339.8 321.2 L340.1 321.9 L340.4 322.5 L340.7 322.9 L341.0 323.3 L341.4 323.7 L341.7 324.1 L342.0 324.5 L342.4 324.8 L342.7 325.2 L343.1 325.6 L343.4 325.9 L343.8 326.2 L344.1 326.4 L344.5 326.7 L344.8 327.1 L345.2 327.4 L345.6 327.8 L345.9 328.0 L346.3 328.3 L346.7 328.6 L347.1 329.0 L347.4 329.3 L347.8 329.6 L348.2 329.9 L348.6 330.2 L349.1 330.5 L349.5 330.7 L349.9 330.9 L350.3 331.2 L350.8 331.4 L351.2 331.6 L351.7 331.8 L352.1 332.0 L352.6 332.2 L353.0 332.4 L353.5 332.6 L354.0 332.7 L354.4 332.9 L354.9 333.0 L355.4 333.1 L355.9 333.2 L356.4 333.2 L356.9 333.3 L357.4 333.3 L357.9 333.3 L358.4 333.3 L358.9 333.3 L359.4 333.4 L359.9 333.4 L360.4 333.4 L360.9 333.4 L361.4 333.4 L361.9 333.4 L362.4 333.4 L362.9 333.5 L363.4 333.5 L363.9 333.5 L364.4 333.5 L364.9 333.5 L365.4 333.5 L365.9 333.5 L366.4 333.5 L366.9 333.5 L367.4 333.5 L367.9 333.5 L368.4 333.6 L368.9 333.6 L369.4 333.6 L369.9 333.6 L370.4 333.6 L370.9 333.6 L371.4 333.6 L371.9 333.6 L372.4 333.6 L372.9 333.6 L373.4 333.6 L373.9 333.6 L374.4 333.6 L374.9 333.6 L375.3 333.6 L375.7 333.6 L376.1 333.6 L376.4 333.6" stroke="#9467bd" stroke-width="1.019"/>
<path d="M41.6 326.3 L42.1 320.9 L42.5 317.4 L42.6 316.8 L43.1 313.7 L43.6 311.2 L44.1 309.2 L44.2 308.8 L44.6 307.3 L45.1 305.7 L45.6 304.4 L46.1 303.2 L46.6 302.1 L47.1 301.1 L47.6 300.0 L47.8 299.6 L48.1 299.3 L48.6 298.6 L49.1 297.6 L49.6 296.6 L50.1 295.6 L50.6 294.4 L51.1 293.2 L51.4 292.4 L51.6 291.8 L52.1 290.9 L52.6 290.0 L52.8 289.7 L53.1 289.2 L53.6 288.4 L54.1 287.5 L54.6 286.6 L55.1 285.8 L55.6 284.9 L56.1 284.0 L56.6 283.3 L57.1 282.5 L57.6 282.3 L58.1 282.1 L58.6 281.4 L59.1 279.9 L59.6 278.3 L60.1 278.3 L60.6 278.2 L61.0 277.8 L61.1 277.7 L61.6 277.2 L62.1 276.6 L62.6 276.2 L63.1 275.7 L63.6 275.3 L64.1 274.8 L64.6 274.4 L65.1 273.8 L65.6 273.3 L66.1 272.9 L66.5 272.7 L66.6 272.9 L67.1 272.9 L67.6 272.8 L68.1 272.7 L68.6 272.5 L69.1 272.3 L69.6 272.2 L69.8 272.1 L70.1 272.1 L70.6 272.3 L71.1 272.3 L71.6 272.4 L72.1 272.6 L72.6 272.8 L73.0 272.8 L73.1 272.8 L73.6 272.6 L74.1 272.1 L74.6 271.6 L75.1 271.1 L75.6 270.7 L75.8 270.6 L76.1 270.2 L76.6 269.8 L77.1 269.6 L77.6 269.4 L78.1 269.1 L78.6 269.1 L79.1 269.5 L79.6 270.1 L80.1 270.4 L80.6 270.8 L81.1 271.3 L81.6 271.9 L81.8 272.1 L82.1 272.5 L82.6 273.9 L83.1 275.2 L83.6 276.3 L84.0 277.3 L84.1 277.6 L84.6 278.2 L85.1 278.6 L85.6 278.7 L86.1 278.6 L86.2 278.2 L86.6 277.7 L87.1 277.4 L87.6 276.9 L88.1 276.5 L88.6 276.2 L88.9 276.9 L89.1 277.6 L89.6 278.1 L90.1 278.9 L90.6 279.9 L91.1 280.4 L91.6 280.7 L91.7 280.8 L92.1 281.3 L92.6 282.7 L93.1 284.0 L93.6 284.6 L94.1 285.1 L94.6 285.1 L95.0 285.0 L95.1 285.1 L95.6 285.9 L96.1 286.6 L96.6 287.0 L97.1 287.1 L97.6 287.2 L98.0 287.7 L98.1 287.9 L98.6 289.7 L99.1 291.8 L99.6 293.0 L100.0 293.4 L100.1 293.4 L100.6 293.1 L101.1 292.6 L101.6 292.3 L102.1 291.9 L102.6 291.6 L103.1 291.3 L103.6 290.8 L104.0 290.5 L104.1 290.5 L104.6 290.5 L105.1 290.6 L105.6 291.3 L106.1 292.0 L106.6 292.0 L107.1 291.9 L107.6 292.1 L108.1 292.1 L108.6 292.0 L109.1 292.3 L109.6 292.5 L110.0 292.7 L110.1 292.8 L110.6 293.3 L111.1 293.9 L111.6 294.3 L112.1 294.8 L112.6 295.4 L113.1 295.9 L113.6 296.5 L114.1 297.1 L114.6 298.4 L115.0 299.6 L115.1 299.7 L115.6 300.3 L116.1 301.0 L116.6 300.7 L117.1 300.5 L117.6 301.2 L118.1 301.9 L118.6 302.5 L119.1 303.0 L119.6 303.9 L120.0 304.5 L120.1 304.4 L120.6 304.5 L121.1 304.7 L121.6 304.9 L122.1 305.1 L122.6 305.2 L123.1 305.4 L123.6 305.7 L124.1 305.5 L124.6 305.3 L125.1 305.5 L125.6 305.7 L126.0 305.9 L126.1 305.9 L126.6 306.0 L127.1 306.2 L127.6 306.6 L128.1 307.0 L128.6 307.4 L129.1 307.8 L129.6 308.3 L130.0 308.7 L130.1 308.8 L130.6 309.2 L131.1 310.4 L131.6 311.5 L132.1 311.5 L132.6 311.5 L133.1 312.0 L133.6 312.4 L134.1 312.7 L134.6 312.6 L135.0 312.3 L135.1 312.3 L135.6 312.3 L136.1 313.0 L136.6 313.8 L137.1 313.5 L137.6 313.3 L138.1 313.3 L138.6 313.2 L139.1 313.2 L139.6 313.0 L140.0 312.8 L140.1 312.8 L140.6 312.9 L141.1 313.2 L141.6 313.6 L142.1 313.9 L142.6 314.3 L143.1 314.7 L143.6 315.1 L144.1 315.0 L144.6 315.0 L145.0 315.3 L145.1 315.3 L145.6 315.7 L146.1 315.9 L146.6 316.1 L147.1 316.6 L147.6 317.1 L148.1 317.6 L148.6 319.0 L149.1 320.3 L149.6 320.6 L150.0 320.8 L150.1 321.2 L150.6 321.7 L151.1 321.8 L151.6 321.9 L152.1 322.1 L152.6 322.3 L153.1 322.4 L153.6 322.5 L154.1 322.2 L154.6 321.9 L155.1 322.0 L155.6 322.3 L156.0 322.6 L156.1 322.6 L156.6 322.9 L157.1 323.3 L157.6 323.3 L158.1 323.3 L158.6 323.8 L159.1 324.4 L159.6 324.9 L160.1 325.4 L160.6 326.2 L161.1 327.0 L161.6 327.3 L162.0 327.7 L162.1 327.8 L162.6 327.7 L163.1 327.4 L163.6 327.6 L164.1 327.7 L164.6 327.9 L165.1 327.9 L165.6 327.8 L166.1 327.9 L166.6 328.0 L167.1 328.1 L167.6 328.3 L168.1 328.5 L168.6 328.6 L169.1 328.7 L169.6 328.9 L170.0 329.0 L170.1 329.1 L170.6 329.5 L171.1 330.0 L171.6 330.3 L172.1 330.6 L172.6 330.9 L173.1 331.2 L173.6 331.5 L174.1 331.8 L174.6 332.0 L175.1 332.1 L175.6 332.2 L176.0 332.2 L176.1 332.2 L176.6 332.2 L177.1 332.2 L177.6 332.2 L178.1 332.2 L178.6 332.2 L179.1 332.2 L179.6 332.2 L180.0 332.2 L180.1 332.2 L180.6 332.6 L181.1 333.3 L181.6 333.6 L182.1 333.6 L182.6 333.6 L183.1 333.6 L183.6 333.6 L184.1 333.6 L184.6 333.6 L185.1 333.6 L185.6 333.6 L186.1 333.6 L186.6 333.6 L187.1 333.6 L187.6 333.6 L188.1 333.6 L188.6 333.6 L189.1 333.6 L189.6 333.6 L190.1 333.6 L190.6 333.6 L191.1 333.6 L191.6 333.6 L192.1 333.6 L192.6 333.6 L193.1 333.6 L193.6 333.6 L194.1 333.6 L194.6 333.6 L195.1 333.6 L195.6 333.6 L196.1 333.6 L196.6 333.6 L197.1 333.6 L197.6 333.6 L198.1 333.6 L198.6 333.6 L199.1 333.6 L199.6 333.6 L200.1 333.6 L200.6 333.6 L201.1 333.6 L201.6 333.6 L202.1 333.6 L202.6 333.6 L203.1 333.6 L203.6 333.6 L204.1 333.6 L204.6 333.6 L205.1 333.6 L205.6 333.6 L206.1 333.6 L206.6 333.6 L207.1 333.6 L207.6 333.6 L208.1 333.6 L208.6 333.6 L209.1 333.6 L209.6 333.6 L210.1 333.6 L210.6 333.6 L211.1 333.6 L211.6 333.6 L212.1 333.6 L212.6 333.6 L213.1 333.6 L213.6 333.6 L214.1 333.6 L214.6 333.6 L215.1 333.6 L215.6 333.6 L216.1 333.6 L216.6 333.6 L217.1 333.6 L217.6 333.6 L218.1 333.6 L218.6 333.6 L219.1 333.6 L219.6 333.6 L220.1 333.6 L220.6 333.6 L221.1 333.6 L221.6 333.6 L222.1 333.6 L222.6 333.6 L223.1 333.6 L223.6 333.6 L224.1 333.6 L224.6 333.6 L225.1 333.6 L225.6 333.6 L226.1 333.6 L226.6 333.6 L227.1 333.6 L227.6 333.6 L228.1 333.6 L228.6 333.6 L229.1 333.6 L229.6 333.6 L230.1 333.6 L230.6 333.6 L231.1 333.6 L231.6 333.6 L232.1 333.6 L232.6 333.6 L233.1 333.6 L233.6 333.6 L234.1 333.6 L234.6 333.6 L235.1 333.6 L235.6 333.6 L236.1 333.6 L236.6 333.6 L237.1 333.6 L237.6 333.6 L238.1 333.6 L238.6 333.6 L239.1 333.6 L239.6 333.6 L240.1 333.6 L240.6 333.6 L241.1 333.6 L241.6 333.6 L242.1 333.6 L242.6 333.6 L243.1 333.6 L243.6 333.6 L244.1 333.6 L244.6 333.6 L245.1 333.6 L245.6 333.6 L246.1 333.6 L246.6 333.6 L247.1 333.6 L247.6 333.6 L248.1 333.6 L248.6 333.6 L249.1 333.6 L249.6 333.6 L250.1 333.6 L250.6 333.6 L251.1 333.6 L251.6 333.6 L252.1 333.6 L252.6 333.6 L253.1 333.6 L253.6 333.6 L254.1 333.6 L254.6 333.6 L255.1 333.6 L255.6 333.6 L256.1 333.6 L256.6 333.6 L257.1 333.6 L257.6 333.6 L258.1 333.6 L258.6 333.6 L259.1 333.6 L259.6 333.6 L260.1 333.6 L260.6 333.6 L261.1 333.6 L261.6 333.6 L262.1 333.6 L262.6 333.6 L263.1 333.6 L263.6 333.6 L264.1 333.6 L264.6 333.6 L265.1 333.6 L265.6 333.6 L266.1 333.6 L266.6 333.6 L267.1 333.6 L267.6 333.6 L268.1 333.6 L268.6 333.6 L269.1 333.6 L269.6 333.6 L270.1 333.6 L270.6 333.6 L271.1 333.6 L271.6 333.6 L272.1 333.6 L272.6 333.6 L273.1 333.6 L273.6 333.6 L274.1 333.6 L274.6 333.6 L275.1 333.6 L275.6 333.6 L276.1 333.6 L276.6 333.6 L277.1 333.6 L277.6 333.6 L278.1 333.6 L278.6 333.6 L279.1 333.6 L279.6 333.6 L280.1 333.6 L280.6 333.6 L281.1 333.6 L281.6 333.6 L282.1 333.6 L282.6 333.6 L283.1 333.6 L283.6 333.6 L284.1 333.6 L284.6 333.6 L285.1 333.6 L285.6 333.6 L286.1 333.6 L286.6 333.6 L287.1 333.6 L287.6 333.6 L288.1 333.6 L288.6 333.6 L289.1 333.6 L289.6 333.6 L290.1 333.6 L290.6 333.6 L291.1 333.6 L291.6 333.6 L292.1 333.6 L292.6 333.6 L293.1 333.6 L293.6 333.6 L294.1 333.6 L294.6 333.6 L295.1 333.6 L295.6 333.6 L296.1 333.6 L296.6 333.6 L297.1 333.6 L297.6 333.6 L298.1 333.6 L298.6 333.6 L299.1 333.6 L299.6 333.6 L300.1 333.6 L300.6 333.6 L301.1 333.6 L301.6 333.6 L302.1 333.6 L302.6 333.6 L303.1 333.6 L303.6 333.6 L304.1 333.6 L304.6 333.6 L305.1 333.6 L305.6 333.6 L306.1 333.6 L306.6 333.6 L307.1 333.6 L307.6 333.6 L308.1 333.6 L308.6 333.6 L309.1 333.6 L309.6 333.6 L310.1 333.6 L310.6 333.6 L311.1 333.6 L311.6 333.6 L312.1 333.6 L312.6 333.6 L313.1 333.6 L313.6 333.6 L314.1 333.6 L314.6 333.6 L315.1 333.6 L315.6 333.6 L316.1 333.6 L316.6 333.6 L317.1 333.6 L317.6 333.6 L318.1 333.6 L318.6 333.6 L319.1 333.6 L319.6 333.6 L320.1 333.6 L320.6 333.6 L321.1 333.6 L321.6 333.6 L322.1 333.6 L322.6 333.6 L323.1 333.6 L323.6 333.6 L324.1 333.6 L324.6 333.6 L325.1 333.6 L325.6 333.6 L326.1 333.6 L326.6 333.6 L327.1 333.6 L327.6 333.6 L328.1 333.6 L328.6 333.6 L329.1 333.6 L329.6 333.6 L330.1 333.6 L330.6 333.6 L331.1 333.6 L331.6 333.6 L332.1 333.6 L332.6 333.6 L333.1 333.6 L333.6 333.6 L334.1 333.6 L334.6 333.6 L335.1 333.6 L335.6 333.6 L336.1 333.6 L336.6 333.6 L337.1 333.6 L337.6 333.6 L338.1 333.6 L338.6 333.6 L339.1 333.6 L339.6 333.6 L340.1 333.6 L340.6 333.6 L341.1 333.6 L341.6 333.6 L342.1 333.6 L342.6 333.6 L343.1 333.6 L343.6 333.6 L344.1 333.6 L344.6 333.6 L345.1 333.6 L345.6 333.6 L346.1 333.6 L346.6 333.6 L347.1 333.6 L347.6 333.6 L348.1 333.6 L348.6 333.6 L349.1 333.6 L349.6 333.6 L350.1 333.6 L350.6 333.6 L351.1 333.6 L351.6 333.6 L352.1 333.6 L352.6 333.6 L353.1 333.6 L353.6 333.6 L354.1 333.6 L354.6 333.6 L355.1 333.6 L355.6 333.6 L356.1 333.6 L356.6 333.6 L357.1 333.6 L357.6 333.6 L358.1 333.6 L358.6 333.6 L359.1 333.6 L359.6 333.6 L360.1 333.6 L360.6 333.6 L361.1 333.6 L361.6 333.6 L362.1 333.6 L362.6 333.6 L363.1 333.6 L363.6 333.6 L364.1 333.6 L364.6 333.6 L365.1 333.6 L365.6 333.6 L366.1 333.6 L366.6 333.6 L367.1 333.6 L367.6 333.6 L368.1 333.6 L368.6 333.6 L369.1 333.6 L369.6 333.6 L370.1 333.6 L370.6 333.6 L371.1 333.6 L371.6 333.6 L372.1 333.6 L372.6 333.6 L373.1 333.6 L373.6 333.6 L374.1 333.6 L374.6 333.6 L375.1 333.6 L375.6 333.6 L376.1 333.6 L376.6 333.6 L376.9 333.6" stroke="#8c564b" stroke-width="1.019"/>
<path d="M41.7 299.1 L41.7 298.8 L41.7 298.5 L41.7 298.2 L41.7 297.8 L41.8 297.4 L41.8 296.9 L41.8 296.4 L41.9 295.8 L41.9 295.3 L41.9 294.8 L42.0 294.3 L42.0 293.8 L42.0 293.4 L42.1 293.1 L42.1 292.6 L42.1 292.1 L42.2 291.5 L42.2 290.9 L42.2 290.4 L42.3 290.0 L42.3 289.6 L42.3 289.1 L42.4 288.6 L42.4 288.1 L42.4 287.6 L42.5 287.1 L42.5 286.5 L42.5 286.0 L42.6 285.5 L42.6 285.0 L42.6 284.5 L42.7 284.0 L42.7 283.5 L42.8 283.0 L42.8 282.5 L42.8 282.0 L42.9 281.5 L42.9 281.1 L42.9 280.7 L43.0 280.2 L43.0 279.7 L43.0 279.2 L43.1 278.6 L43.1 278.0 L43.2 277.5 L43.2 277.0 L43.2 276.5 L43.3 276.0 L43.3 275.5 L43.3 275.0 L43.4 274.5 L43.4 274.0 L43.5 273.5 L43.5 272.9 L43.5 272.4 L43.6 271.9 L43.6 271.4 L43.7 270.9 L43.7 270.4 L43.7 270.0 L43.8 269.4 L43.8 268.9 L43.9 268.4 L43.9 267.9 L43.9 267.5 L44.0 267.0 L44.0 266.5 L44.1 266.0 L44.1 265.6 L44.1 265.2 L44.2 264.6 L44.2 264.0 L44.3 263.5 L44.3 263.0 L44.4 262.5 L44.4 262.0 L44.4 261.5 L44.5 261.0 L44.5 260.5 L44.6 260.0 L44.6 259.5 L44.7 259.0 L44.7 258.6 L44.7 258.2 L44.8 257.6 L44.8 257.0 L44.9 256.5 L44.9 256.0 L45.0 255.5 L45.0 255.1 L45.1 254.6 L45.1 254.1 L45.2 253.6 L45.2 253.0 L45.3 252.5 L45.3 252.1 L45.3 251.8 L45.4 251.2 L45.4 250.7 L45.5 250.2 L45.5 249.7 L45.6 249.2 L45.6 248.7 L45.7 248.1 L45.7 247.6 L45.8 247.1 L45.8 246.6 L45.9 246.0 L45.9 245.5 L46.0 245.0 L46.0 244.6 L46.1 244.1 L46.2 243.7 L46.2 243.3 L46.3 242.8 L46.3 242.2 L46.4 241.6 L46.4 241.1 L46.5 240.6 L46.5 240.1 L46.6 239.6 L46.6 239.2 L46.7 238.7 L46.7 238.2 L46.8 237.6 L46.8 237.0 L46.9 236.5 L46.9 236.0 L47.0 235.5 L47.0 235.1 L47.1 234.7 L47.2 234.2 L47.2 233.6 L47.3 233.0 L47.3 232.5 L47.4 232.1 L47.4 231.8 L47.5 231.3 L47.6 230.8 L47.6 230.3 L47.7 229.9 L47.7 229.4 L47.8 228.8 L47.9 228.2 L47.9 227.7 L48.0 227.2 L48.1 226.7 L48.2 226.2 L48.2 225.7 L48.3 225.2 L48.4 224.7 L48.5 224.2 L48.5 223.7 L48.6 223.2 L48.7 222.7 L48.8 222.2 L48.9 221.7 L49.0 221.2 L49.1 220.8 L49.2 220.3 L49.3 219.8 L49.4 219.4 L49.6 218.9 L49.7 218.5 L49.8 218.0 L50.0 217.5 L50.1 217.0 L50.2 216.4 L50.4 215.8 L50.5 215.4 L50.7 215.0 L50.8 214.6 L51.0 214.1 L51.2 213.6 L51.3 213.1 L51.5 212.7 L51.6 212.2 L51.8 211.7 L52.0 211.3 L52.1 210.8 L52.3 210.4 L52.5 209.9 L52.6 209.4 L52.8 208.9 L53.0 208.4 L53.1 208.0 L53.3 207.5 L53.5 207.0 L53.7 206.6 L53.8 206.0 L54.0 205.5 L54.2 205.0 L54.4 204.5 L54.5 204.1 L54.7 203.7 L54.9 203.3 L55.1 202.8 L55.3 202.3 L55.5 201.8 L55.6 201.2 L55.8 200.8 L56.0 200.3 L56.2 199.9 L56.4 199.4 L56.6 199.0 L56.8 198.5 L57.0 198.0 L57.2 197.5 L57.3 197.1 L57.5 196.6 L57.7 196.2 L57.9 195.7 L58.1 195.3 L58.3 194.8 L58.5 194.4 L58.7 193.9 L58.8 193.4 L59.0 192.9 L59.2 192.5 L59.4 192.1 L59.6 191.7 L59.8 191.3 L60.0 190.6 L60.2 190.0 L60.3 189.5 L60.5 189.2 L60.7 188.9 L60.9 188.4 L61.1 187.9 L61.3 187.5 L61.5 187.0 L61.7 186.5 L61.9 186.0 L62.1 185.5 L62.3 185.1 L62.4 184.6 L62.6 184.1 L62.8 183.6 L63.0 183.2 L63.2 182.8 L63.4 182.3 L63.6 181.9 L63.8 181.4 L64.0 181.0 L64.2 180.5 L64.4 180.1 L64.6 179.6 L64.8 179.1 L65.0 178.7 L65.3 178.2 L65.5 177.8 L65.7 177.4 L65.9 177.0 L66.1 176.5 L66.3 176.1 L66.5 175.5 L66.7 175.0 L67.0 174.6 L67.2 174.1 L67.4 173.7 L67.6 173.2 L67.8 172.8 L68.0 172.3 L68.3 171.9 L68.5 171.4 L68.7 170.9 L68.9 170.4 L69.1 169.9 L69.4 169.5 L69.6 169.1 L69.8 168.6 L70.0 168.2 L70.3 167.8 L70.5 167.3 L70.8 166.9 L71.0 166.5 L71.3 166.1 L71.6 165.7 L71.9 165.3 L72.1 164.9 L72.4 164.6 L72.7 164.2 L73.1 163.8 L73.4 163.4 L73.7 162.9 L74.0 162.6 L74.3 162.2 L74.6 161.8 L75.0 161.4 L75.3 161.1 L75.6 160.8 L75.9 160.4 L76.3 160.0 L76.6 159.6 L76.9 159.2 L77.2 158.8 L77.6 158.3 L77.9 157.9 L78.2 157.5 L78.5 157.2 L78.9 156.8 L79.2 156.5 L79.5 156.1 L79.8 155.8 L80.2 155.4 L80.5 155.1 L80.8 154.7 L81.2 154.3 L81.5 153.9 L81.8 153.5 L82.2 153.2 L82.5 152.8 L82.8 152.3 L83.2 151.8 L83.5 151.5 L83.9 151.2 L84.2 151.0 L84.6 150.6 L84.9 150.2 L85.3 149.9 L85.6 149.5 L86.0 149.2 L86.3 148.8 L86.6 148.4 L87.0 148.0 L87.3 147.7 L87.6 147.2 L88.0 146.8 L88.3 146.4 L88.6 146.1 L89.0 145.7 L89.3 145.3 L89.6 144.9 L89.9 144.6 L90.3 144.2 L90.6 143.8 L91.0 143.5 L91.3 143.1 L91.6 142.8 L92.0 142.5 L92.3 142.1 L92.7 141.8 L93.0 141.4 L93.4 141.0 L93.7 140.7 L94.1 140.3 L94.5 140.0 L94.8 139.6 L95.2 139.3 L95.5 138.9 L95.9 138.6 L96.3 138.2 L96.6 137.9 L97.0 137.5 L97.3 137.2 L97.7 136.8 L98.0 136.3 L98.4 136.0 L98.7 135.8 L99.1 135.5 L99.5 135.2 L99.8 134.7 L100.2 134.2 L100.5 133.8 L100.9 133.5 L101.2 133.2 L101.6 132.8 L101.9 132.4 L102.3 132.1 L102.6 131.7 L103.0 131.4 L103.3 131.1 L103.7 130.8 L104.0 130.4 L104.4 130.1 L104.8 129.8 L105.1 129.4 L105.5 129.1 L105.9 128.7 L106.3 128.4 L106.6 128.1 L107.0 127.7 L107.4 127.4 L107.8 127.1 L108.2 126.8 L108.6 126.5 L109.0 126.2 L109.4 125.9 L109.7 125.6 L110.1 125.2 L110.5 124.8 L110.9 124.5 L111.3 124.1 L111.7 123.9 L112.1 123.7 L112.5 123.4 L112.9 123.1 L113.3 122.8 L113.7 122.5 L114.0 122.1 L114.4 121.7 L114.8 121.4 L115.2 121.1 L115.6 120.8 L116.0 120.5 L116.4 120.2 L116.8 119.9 L117.1 119.6 L117.5 119.2 L117.9 118.9 L118.3 118.6 L118.7 118.3 L119.2 118.0 L119.6 117.8 L120.0 117.5 L120.4 117.2 L120.8 116.9 L121.2 116.7 L121.7 116.4 L122.1 116.1 L122.5 115.9 L123.0 115.6 L123.4 115.4 L123.8 115.1 L124.3 115.0 L124.7 114.8 L125.2 114.6 L125.6 114.4 L126.0 114.1 L126.5 113.8 L126.9 113.5 L127.4 113.4 L127.8 113.3 L128.3 112.9 L128.7 112.5 L129.2 112.3 L129.6 112.2 L130.1 112.0 L130.5 111.8 L130.9 111.6 L131.4 111.4 L131.8 111.1 L132.3 110.9 L132.7 110.7 L133.2 110.4 L133.6 110.1 L134.1 109.8 L134.5 109.6 L135.0 109.4 L135.4 109.3 L135.9 109.0 L136.3 108.8 L136.8 108.6 L137.2 108.4 L137.7 108.1 L138.1 107.9 L138.6 107.6 L139.0 107.4 L139.5 107.2 L139.9 107.0 L140.4 106.8 L140.8 106.6 L141.3 106.5 L141.8 106.3 L142.2 106.1 L142.7 105.9 L143.1 105.7 L143.6 105.5 L144.1 105.3 L144.5 105.2 L145.0 104.9 L145.5 104.7 L145.9 104.5 L146.4 104.2 L146.9 104.0 L147.3 103.8 L147.8 103.6 L148.3 103.4 L148.7 103.4 L149.2 103.4 L149.7 103.2 L150.1 103.0 L150.6 102.9 L151.1 102.6 L151.6 102.4 L152.0 102.2 L152.5 102.1 L153.0 101.9 L153.4 101.7 L153.9 101.6 L154.4 101.4 L154.9 101.2 L155.3 101.1 L155.8 100.9 L156.3 100.8 L156.8 100.7 L157.2 100.5 L157.7 100.4 L158.2 100.2 L158.7 100.0 L159.1 99.9 L159.6 99.7 L160.1 99.6 L160.6 99.4 L161.1 99.3 L161.5 99.2 L162.0 99.0 L162.5 98.9 L163.0 98.7 L163.5 98.5 L163.9 98.3 L164.4 98.2 L164.9 98.2 L165.4 98.1 L165.9 98.0 L166.4 97.9 L166.8 97.7 L167.3 97.5 L167.8 97.3 L168.3 97.2 L168.8 97.1 L169.3 97.0 L169.8 97.0 L170.3 97.0 L170.8 96.9 L171.3 96.9 L171.7 96.8 L172.2 96.6 L172.7 96.4 L173.2 96.3 L173.7 96.3 L174.2 96.2 L174.7 96.2 L175.2 96.1 L175.7 96.1 L176.2 96.0 L176.7 95.9 L177.2 95.8 L177.7 95.8 L178.2 95.7 L178.7 95.7 L179.2 95.6 L179.7 95.5 L180.2 95.4 L180.7 95.4 L181.2 95.3 L181.7 95.3 L182.1 95.2 L182.6 95.1 L183.1 95.1 L183.6 95.0 L184.1 95.0 L184.6 94.9 L185.1 94.9 L185.6 94.8 L186.1 94.8 L186.6 94.7 L187.1 94.7 L187.6 94.6 L188.1 94.6 L188.6 94.5 L189.1 94.5 L189.6 94.4 L190.1 94.3 L190.6 94.3 L191.1 94.3 L191.6 94.3 L192.1 94.3 L192.6 94.3 L193.1 94.2 L193.6 94.2 L194.1 94.1 L194.6 94.1 L195.1 94.0 L195.6 94.0 L196.1 94.0 L196.6 93.9 L197.1 93.9 L197.6 93.9 L198.1 93.8 L198.6 93.7 L199.1 93.7 L199.6 93.7 L200.1 93.6 L200.6 93.7 L201.1 93.7 L201.6 93.6 L202.1 93.6 L202.6 93.6 L203.1 93.6 L203.6 93.5 L204.1 93.5 L204.6 93.5 L205.1 93.5 L205.6 93.5 L206.1 93.5 L206.6 93.5 L207.1 93.6 L207.6 93.6 L208.1 93.6 L208.6 93.6 L209.1 93.6 L209.6 93.5 L210.1 93.5 L210.6 93.5 L211.1 93.4 L211.6 93.4 L212.1 93.4 L212.6 93.4 L213.1 93.4 L213.6 93.5 L214.1 93.5 L214.6 93.5 L215.1 93.5 L215.6 93.5 L216.1 93.5 L216.6 93.6 L217.1 93.6 L217.6 93.7 L218.1 93.7 L218.6 93.6 L219.1 93.5 L219.6 93.5 L220.1 93.5 L220.6 93.5 L221.1 93.5 L221.6 93.6 L222.1 93.6 L222.6 93.6 L223.1 93.6 L223.6 93.7 L224.1 93.7 L224.6 93.8 L225.1 93.9 L225.6 93.9 L226.1 93.8 L226.6 93.8 L227.1 93.9 L227.6 93.9 L228.1 93.9 L228.6 93.9 L229.1 93.8 L229.6 93.9 L230.1 93.9 L230.6 94.0 L231.1 94.0 L231.6 94.1 L232.1 94.1 L232.6 94.2 L233.1 94.2 L233.6 94.3 L234.1 94.3 L234.6 94.4 L235.1 94.4 L235.6 94.5 L236.1 94.5 L236.6 94.6 L237.1 94.6 L237.6 94.8 L238.1 94.9 L238.6 95.0 L239.1 95.0 L239.6 95.0 L240.1 95.0 L240.6 95.0 L241.1 95.1 L241.6 95.1 L242.1 95.2 L242.6 95.3 L243.1 95.3 L243.6 95.4 L244.1 95.5 L244.6 95.5 L245.1 95.6 L245.6 95.7 L246.1 95.7 L246.5 95.7 L247.0 95.8 L247.5 96.0 L248.0 96.1 L248.5 96.2 L249.0 96.3 L249.5 96.4 L250.0 96.5 L250.5 96.5 L251.0 96.6 L251.4 96.7 L251.9 96.8 L252.4 97.0 L252.9 97.2 L253.4 97.5 L253.8 97.6 L254.3 97.8 L254.8 98.0 L255.3 98.1 L255.7 98.1 L256.2 98.1 L256.7 98.3 L257.2 98.5 L257.7 98.7 L258.1 99.0 L258.6 99.1 L259.1 99.3 L259.6 99.4 L260.1 99.5 L260.5 99.7 L261.0 99.6 L261.5 99.6 L262.0 99.7 L262.5 99.8 L263.0 99.9 L263.5 100.1 L264.0 100.2 L264.5 100.3 L265.0 100.5 L265.5 100.5 L265.9 100.6 L266.4 100.7 L266.9 100.7 L267.4 100.8 L267.9 100.9 L268.4 101.0 L268.9 101.1 L269.4 101.2 L269.9 101.4 L270.4 101.5 L270.8 101.6 L271.3 101.8 L271.8 101.9 L272.3 102.1 L272.8 102.2 L273.2 102.4 L273.7 102.5 L274.2 102.7 L274.7 102.8 L275.1 103.0 L275.6 103.2 L276.1 103.4 L276.5 103.5 L277.0 103.7 L277.4 103.9 L277.9 104.1 L278.4 104.3 L278.8 104.6 L279.3 104.8 L279.7 105.0 L280.2 105.3 L280.6 105.5 L281.1 105.7 L281.5 105.8 L282.0 106.0 L282.4 106.2 L282.9 106.4 L283.3 106.6 L283.8 107.0 L284.2 107.3 L284.7 107.5 L285.1 107.7 L285.5 107.8 L286.0 108.0 L286.4 108.3 L286.8 108.5 L287.3 108.8 L287.7 109.1 L288.1 109.4 L288.6 109.7 L289.0 109.9 L289.4 110.2 L289.8 110.4 L290.2 110.7 L290.7 111.1 L291.1 111.3 L291.5 111.6 L291.9 111.8 L292.3 112.1 L292.7 112.4 L293.1 112.7 L293.5 113.0 L293.9 113.3 L294.3 113.6 L294.7 113.9 L295.1 114.2 L295.5 114.5 L295.9 114.8 L296.3 115.1 L296.7 115.5 L297.0 115.8 L297.4 116.1 L297.8 116.4 L298.2 116.7 L298.5 117.1 L298.9 117.4 L299.3 117.8 L299.7 118.2 L300.0 118.5 L300.4 118.9 L300.7 119.2 L301.1 119.6 L301.5 120.0 L301.8 120.3 L302.2 120.7 L302.5 120.9 L302.9 121.2 L303.2 121.5 L303.6 121.9 L304.0 122.2 L304.3 122.6 L304.7 123.0 L305.0 123.4 L305.3 123.8 L305.7 124.2 L306.0 124.5 L306.4 124.9 L306.7 125.3 L307.0 125.6 L307.4 126.0 L307.7 126.4 L308.0 126.8 L308.3 127.2 L308.7 127.6 L309.0 128.0 L309.3 128.3 L309.6 128.7 L309.9 129.1 L310.2 129.5 L310.5 130.0 L310.8 130.4 L311.1 130.8 L311.4 131.2 L311.6 131.7 L311.9 132.1 L312.2 132.5 L312.5 133.0 L312.7 133.4 L313.0 133.8 L313.3 134.3 L313.5 134.7 L313.8 135.1 L314.0 135.5 L314.3 135.8 L314.5 136.2 L314.8 136.6 L315.0 137.0 L315.2 137.4 L315.5 137.9 L315.7 138.3 L315.9 138.8 L316.2 139.3 L316.4 139.8 L316.6 140.2 L316.8 140.7 L317.0 141.1 L317.2 141.6 L317.5 142.2 L317.7 142.6 L317.9 143.1 L318.1 143.5 L318.3 144.0 L318.4 144.4 L318.6 144.8 L318.8 145.3 L319.0 145.8 L319.2 146.3 L319.4 146.7 L319.6 147.1 L319.7 147.6 L319.9 148.0 L320.1 148.5 L320.3 149.0 L320.4 149.4 L320.6 149.9 L320.8 150.4 L320.9 150.9 L321.1 151.3 L321.3 151.8 L321.4 152.2 L321.6 152.7 L321.8 153.2 L321.9 153.7 L322.1 154.2 L322.2 154.7 L322.4 155.2 L322.6 155.7 L322.7 156.2 L322.9 156.7 L323.0 157.2 L323.2 157.7 L323.3 158.1 L323.5 158.6 L323.6 159.1 L323.8 159.5 L323.9 160.0 L324.1 160.6 L324.2 161.1 L324.4 161.5 L324.5 162.0 L324.7 162.4 L324.8 162.8 L325.0 163.3 L325.1 163.8 L325.2 164.3 L325.4 164.8 L325.5 165.2 L325.7 165.7 L325.8 166.2 L325.9 166.7 L326.1 167.1 L326.2 167.6 L326.3 168.1 L326.5 168.5 L326.6 169.0 L326.7 169.5 L326.9 170.0 L327.0 170.6 L327.1 171.1 L327.3 171.5 L327.4 171.9 L327.5 172.4 L327.7 172.9 L327.8 173.4 L327.9 173.9 L328.1 174.4 L328.2 174.9 L328.3 175.3 L328.4 175.9 L328.6 176.4 L328.7 176.9 L328.8 177.4 L328.9 177.9 L329.1 178.4 L329.2 178.9 L329.3 179.3 L329.4 179.7 L329.6 180.2 L329.7 180.7 L329.8 181.2 L329.9 181.6 L330.0 182.1 L330.2 182.5 L330.3 183.0 L330.4 183.5 L330.5 184.0 L330.6 184.6 L330.8 185.1 L330.9 185.5 L331.0 186.0 L331.1 186.5 L331.2 186.9 L331.4 187.4 L331.5 187.9 L331.6 188.4 L331.7 188.9 L331.8 189.4 L332.0 189.8 L332.1 190.3 L332.2 190.8 L332.3 191.4 L332.4 192.0 L332.6 192.5 L332.7 193.0 L332.8 193.5 L332.9 193.8 L333.0 194.2 L333.2 194.7 L333.3 195.3 L333.4 195.7 L333.5 196.2 L333.6 196.7 L333.8 197.2 L333.9 197.6 L334.0 198.1 L334.1 198.6 L334.2 199.2 L334.3 199.7 L334.4 200.2 L334.5 200.7 L334.6 201.2 L334.7 201.7 L334.8 202.1 L334.9 202.6 L335.0 203.1 L335.1 203.6 L335.2 204.1 L335.3 204.7 L335.4 205.2 L335.5 205.6 L335.6 206.0 L335.7 206.5 L335.8 207.0 L335.9 207.6 L336.0 208.0 L336.1 208.5 L336.2 209.0 L336.3 209.5 L336.4 209.9 L336.5 210.4 L336.5 210.8 L336.6 211.3 L336.7 211.8 L336.8 212.4 L336.9 212.9 L337.0 213.4 L337.1 213.8 L337.2 214.3 L337.2 214.7 L337.3 215.2 L337.4 215.7 L337.5 216.2 L337.6 216.8 L337.7 217.3 L337.8 217.8 L337.8 218.2 L337.9 218.7 L338.0 219.2 L338.1 219.7 L338.2 220.2 L338.2 220.7 L338.3 221.3 L338.4 221.8 L338.5 222.3 L338.6 222.8 L338.6 223.3 L338.7 223.8 L338.8 224.2 L338.9 224.6 L338.9 225.1 L339.0 225.6 L339.1 226.1 L339.2 226.6 L339.2 227.1 L339.3 227.6 L339.4 228.2 L339.5 228.8 L339.5 229.3 L339.6 229.7 L339.7 230.2 L339.8 230.6 L339.8 231.1 L339.9 231.6 L340.0 232.1 L340.0 232.6 L340.1 233.1 L340.2 233.7 L340.3 234.2 L340.3 234.7 L340.4 235.2 L340.5 235.7 L340.5 236.2 L340.6 236.8 L340.7 237.3 L340.8 237.8 L340.8 238.3 L340.9 238.8 L341.0 239.2 L341.0 239.7 L341.1 240.2 L341.2 240.7 L341.2 241.2 L341.3 241.7 L341.4 242.2 L341.4 242.6 L341.5 243.1 L341.6 243.6 L341.6 244.1 L341.7 244.6 L341.7 245.0 L341.8 245.5 L341.9 246.0 L341.9 246.6 L342.0 247.1 L342.1 247.6 L342.1 248.0 L342.2 248.5 L342.2 249.1 L342.3 249.6 L342.4 250.1 L342.4 250.6 L342.5 251.1 L342.6 251.6 L342.6 252.1 L342.7 252.6 L342.7 253.1 L342.8 253.6 L342.9 254.1 L342.9 254.5 L343.0 255.0 L343.0 255.5 L343.1 256.0 L343.2 256.5 L343.2 257.0 L343.3 257.5 L343.4 258.0 L343.4 258.4 L343.5 258.8 L343.5 259.3 L343.6 259.8 L343.7 260.4 L343.7 260.9 L343.8 261.4 L343.9 261.9 L343.9 262.4 L344.0 262.9 L344.1 263.4 L344.1 263.9 L344.2 264.4 L344.3 264.9 L344.3 265.4 L344.4 265.9 L344.5 266.4 L344.5 266.9 L344.6 267.3 L344.7 267.9 L344.7 268.5 L344.8 269.0 L344.9 269.5 L344.9 270.0 L345.0 270.5 L345.1 270.9 L345.1 271.4 L345.2 271.9 L345.3 272.4 L345.4 272.9 L345.4 273.4 L345.5 273.9 L345.6 274.4 L345.6 274.9 L345.7 275.5 L345.8 276.0 L345.8 276.4 L345.9 276.9 L346.0 277.4 L346.1 277.9 L346.1 278.3 L346.2 278.7 L346.3 279.2 L346.3 279.7 L346.4 280.2 L346.5 280.7 L346.5 281.3 L346.6 281.9 L346.7 282.4 L346.8 282.9 L346.8 283.4 L346.9 283.9 L347.0 284.3 L347.0 284.8 L347.1 285.3 L347.2 285.8 L347.3 286.4 L347.3 286.9 L347.4 287.3 L347.5 287.8 L347.5 288.3 L347.6 288.8 L347.7 289.3 L347.8 289.8 L347.8 290.3 L347.9 290.7 L348.0 291.2 L348.1 291.7 L348.1 292.2 L348.2 292.7 L348.3 293.3 L348.4 293.8 L348.5 294.3 L348.5 294.8 L348.6 295.3 L348.7 295.8 L348.8 296.3 L348.9 296.8 L349.0 297.2 L349.1 297.6 L349.2 298.1 L349.3 298.6 L349.3 299.1 L349.4 299.5 L349.5 299.9 L349.6 300.4 L349.7 301.0 L349.8 301.5 L349.9 302.0 L350.0 302.5 L350.1 303.0 L350.2 303.5 L350.3 304.1 L350.5 304.6 L350.6 305.1 L350.7 305.6 L350.8 306.0 L350.9 306.5 L351.0 307.0 L351.1 307.5 L351.2 307.9 L351.3 308.4 L351.4 308.9 L351.5 309.4 L351.7 309.8 L351.8 310.4 L351.9 311.0 L352.0 311.5 L352.1 312.0 L352.2 312.5 L352.4 312.9 L352.5 313.3 L352.6 313.8 L352.7 314.3 L352.9 314.8 L353.0 315.3 L353.1 315.7 L353.2 316.2 L353.4 316.6 L353.5 317.1 L353.6 317.6 L353.8 318.1 L353.9 318.6 L354.0 319.2 L354.2 319.8 L354.3 320.2 L354.5 320.7 L354.6 321.2 L354.8 321.6 L354.9 322.0 L355.1 322.5 L355.2 323.0 L355.4 323.5 L355.5 324.0 L355.7 324.5 L355.9 324.9 L356.0 325.3 L356.2 325.7 L356.4 326.2 L356.6 326.7 L356.8 327.1 L357.0 327.6 L357.3 328.0 L357.5 328.3 L357.7 328.8 L358.0 329.3 L358.3 329.7 L358.6 330.1 L358.9 330.4 L359.2 330.8 L359.6 331.1 L359.9 331.4 L360.3 331.7 L360.7 332.0 L361.2 332.2 L361.6 332.4 L362.0 332.6 L362.5 332.8 L363.0 332.9 L363.4 333.0 L363.9 333.1 L364.4 333.2 L364.9 333.3 L365.4 333.3 L365.9 333.4 L366.4 333.4 L366.9 333.5 L367.4 333.5 L367.9 333.5 L368.4 333.5 L368.9 333.5 L369.4 333.5 L369.9 333.5 L370.4 333.6 L370.9 333.6 L371.4 333.6 L371.9 333.6 L372.4 333.6 L372.9 333.6 L373.4 333.6 L373.8 333.6 L374.3 333.6 L374.7 333.6 L375.1 333.6 L375.4 333.6 L375.7 333.6 L376.0 333.6" stroke="#e377c2" stroke-width="1.019"/>
<path d="M41.6 309.1 L41.6 308.8 L41.6 308.5 L41.6 308.1 L41.6 307.7 L41.6 307.3 L41.6 306.9 L41.6 306.4 L41.7 305.9 L41.7 305.4 L41.7 304.9 L41.7 304.4 L41.7 303.9 L41.7 303.4 L41.7 303.0 L41.7 302.5 L41.7 302.0 L41.7 301.5 L41.7 301.0 L41.7 300.5 L41.7 300.0 L41.7 299.5 L41.7 299.0 L41.8 298.5 L41.8 298.0 L41.8 297.5 L41.8 297.0 L41.8 296.5 L41.8 296.0 L41.8 295.5 L41.8 295.0 L41.8 294.4 L41.8 293.9 L41.8 293.4 L41.8 292.9 L41.8 292.4 L41.8 291.9 L41.8 291.4 L41.9 290.9 L41.9 290.4 L41.9 289.9 L41.9 289.4 L41.9 288.9 L41.9 288.4 L41.9 287.9 L41.9 287.4 L41.9 287.0 L41.9 286.5 L41.9 286.0 L41.9 285.5 L41.9 285.0 L41.9 284.5 L41.9 284.0 L42.0 283.6 L42.0 283.1 L42.0 282.6 L42.0 282.1 L42.0 281.5 L42.0 280.9 L42.0 280.4 L42.0 279.9 L42.0 279.4 L42.0 278.9 L42.0 278.5 L42.0 278.0 L42.0 277.5 L42.0 277.0 L42.0 276.4 L42.1 276.0 L42.1 275.5 L42.1 275.0 L42.1 274.5 L42.1 274.0 L42.1 273.5 L42.1 273.0 L42.1 272.5 L42.1 272.0 L42.1 271.5 L42.1 271.0 L42.1 270.5 L42.1 270.0 L42.1 269.5 L42.1 269.0 L42.2 268.5 L42.2 268.0 L42.2 267.4 L42.2 266.9 L42.2 266.4 L42.2 265.9 L42.2 265.4 L42.2 264.9 L42.2 264.4 L42.2 263.9 L42.2 263.4 L42.2 262.9 L42.2 262.4 L42.2 261.9 L42.2 261.5 L42.3 261.0 L42.3 260.5 L42.3 260.0 L42.3 259.5 L42.3 259.0 L42.3 258.5 L42.3 257.9 L42.3 257.4 L42.3 256.9 L42.3 256.4 L42.3 255.9 L42.3 255.4 L42.3 254.9 L42.3 254.4 L42.3 253.9 L42.4 253.4 L42.4 252.9 L42.4 252.4 L42.4 251.9 L42.4 251.4 L42.4 250.9 L42.4 250.4 L42.4 250.0 L42.4 249.5 L42.4 249.0 L42.4 248.5 L42.4 248.0 L42.4 247.5 L42.4 247.0 L42.4 246.4 L42.4 245.9 L42.5 245.4 L42.5 244.9 L42.5 244.3 L42.5 243.9 L42.5 243.5 L42.5 243.0 L42.5 242.5 L42.5 242.0 L42.5 241.5 L42.5 241.0 L42.5 240.5 L42.5 240.0 L42.5 239.5 L42.5 239.0 L42.5 238.5 L42.5 238.0 L42.5 237.5 L42.6 237.1 L42.6 236.6 L42.6 236.1 L42.6 235.6 L42.6 235.0 L42.6 234.5 L42.6 234.0 L42.6 233.5 L42.6 233.0 L42.6 232.5 L42.6 231.9 L42.6 231.4 L42.6 230.9 L42.6 230.4 L42.6 229.9 L42.7 229.4 L42.7 228.9 L42.7 228.4 L42.7 227.9 L42.7 227.5 L42.7 226.9 L42.7 226.4 L42.7 225.9 L42.7 225.4 L42.7 224.9 L42.7 224.4 L42.7 223.9 L42.7 223.4 L42.7 222.9 L42.8 222.4 L42.8 221.9 L42.8 221.4 L42.8 220.9 L42.8 220.4 L42.8 219.9 L42.8 219.4 L42.8 218.9 L42.8 218.4 L42.8 217.9 L42.8 217.4 L42.8 216.9 L42.8 216.4 L42.8 215.9 L42.9 215.5 L42.9 215.0 L42.9 214.5 L42.9 213.9 L42.9 213.4 L42.9 212.9 L42.9 212.4 L42.9 212.0 L42.9 211.5 L42.9 211.0 L43.0 210.5 L43.0 210.0 L43.0 209.5 L43.0 209.0 L43.0 208.5 L43.0 208.0 L43.1 207.4 L43.1 206.9 L43.1 206.4 L43.1 205.9 L43.1 205.4 L43.2 204.9 L43.2 204.4 L43.2 203.9 L43.2 203.4 L43.3 202.9 L43.3 202.5 L43.3 202.0 L43.3 201.5 L43.4 200.9 L43.4 200.4 L43.4 199.8 L43.4 199.3 L43.5 198.8 L43.5 198.3 L43.5 197.8 L43.5 197.4 L43.6 196.9 L43.6 196.4 L43.6 195.9 L43.7 195.4 L43.7 194.9 L43.7 194.4 L43.7 193.9 L43.8 193.4 L43.8 192.9 L43.8 192.4 L43.9 191.9 L43.9 191.4 L43.9 190.9 L44.0 190.4 L44.0 189.9 L44.0 189.4 L44.1 188.9 L44.1 188.4 L44.1 187.9 L44.2 187.4 L44.2 187.0 L44.2 186.5 L44.3 186.0 L44.3 185.5 L44.4 185.0 L44.4 184.5 L44.4 184.0 L44.5 183.5 L44.5 183.0 L44.6 182.4 L44.6 181.9 L44.7 181.4 L44.7 180.9 L44.8 180.4 L44.8 180.0 L44.9 179.5 L44.9 179.0 L45.0 178.5 L45.1 178.0 L45.1 177.5 L45.2 177.0 L45.3 176.6 L45.3 176.1 L45.4 175.6 L45.5 175.1 L45.5 174.5 L45.6 174.0 L45.7 173.5 L45.7 173.0 L45.8 172.5 L45.9 172.0 L46.0 171.5 L46.0 171.0 L46.1 170.5 L46.2 170.0 L46.3 169.5 L46.4 169.0 L46.4 168.5 L46.5 168.0 L46.6 167.5 L46.7 167.0 L46.8 166.5 L46.9 166.0 L46.9 165.6 L47.0 165.1 L47.1 164.6 L47.2 164.1 L47.3 163.6 L47.4 163.1 L47.5 162.7 L47.6 162.2 L47.7 161.7 L47.8 161.3 L47.9 160.7 L48.0 160.2 L48.1 159.7 L48.2 159.2 L48.3 158.8 L48.4 158.3 L48.5 157.7 L48.6 157.2 L48.7 156.7 L48.8 156.3 L48.9 155.8 L49.0 155.3 L49.2 154.8 L49.3 154.4 L49.4 153.9 L49.5 153.4 L49.6 152.9 L49.8 152.4 L49.9 151.9 L50.0 151.4 L50.1 150.9 L50.3 150.5 L50.4 150.0 L50.5 149.5 L50.7 149.0 L50.8 148.4 L50.9 148.0 L51.1 147.5 L51.2 147.0 L51.3 146.5 L51.5 146.1 L51.6 145.6 L51.7 145.1 L51.9 144.6 L52.0 144.1 L52.1 143.7 L52.3 143.3 L52.4 142.8 L52.5 142.3 L52.7 141.9 L52.8 141.3 L53.0 140.8 L53.1 140.4 L53.2 139.9 L53.4 139.4 L53.5 138.8 L53.6 138.4 L53.8 137.9 L53.9 137.4 L54.1 136.9 L54.2 136.5 L54.3 136.0 L54.5 135.6 L54.6 135.0 L54.8 134.5 L54.9 134.1 L55.1 133.6 L55.2 133.2 L55.3 132.7 L55.5 132.2 L55.6 131.7 L55.8 131.2 L55.9 130.8 L56.1 130.3 L56.2 129.8 L56.4 129.3 L56.6 128.9 L56.7 128.4 L56.9 127.9 L57.0 127.4 L57.2 127.0 L57.3 126.4 L57.5 125.9 L57.6 125.5 L57.8 125.0 L58.0 124.5 L58.1 124.0 L58.3 123.6 L58.5 123.2 L58.7 122.7 L58.8 122.2 L59.0 121.7 L59.2 121.3 L59.4 120.8 L59.6 120.3 L59.8 119.9 L59.9 119.4 L60.1 118.9 L60.3 118.4 L60.5 118.0 L60.7 117.6 L61.0 117.2 L61.2 116.7 L61.4 116.3 L61.6 115.8 L61.8 115.4 L62.0 114.9 L62.3 114.4 L62.5 114.0 L62.7 113.5 L62.9 113.1 L63.2 112.6 L63.4 112.2 L63.6 111.7 L63.9 111.2 L64.1 110.7 L64.4 110.3 L64.6 109.9 L64.8 109.5 L65.1 109.1 L65.3 108.6 L65.6 108.2 L65.8 107.8 L66.1 107.4 L66.4 107.0 L66.6 106.6 L66.9 106.2 L67.1 105.7 L67.4 105.2 L67.7 104.7 L67.9 104.3 L68.2 104.0 L68.5 103.6 L68.7 103.2 L69.0 102.8 L69.3 102.4 L69.6 102.0 L69.9 101.6 L70.2 101.1 L70.4 100.7 L70.7 100.3 L71.0 99.9 L71.3 99.5 L71.6 99.0 L71.9 98.6 L72.2 98.2 L72.5 97.8 L72.8 97.5 L73.1 97.1 L73.4 96.6 L73.7 96.2 L74.0 95.8 L74.4 95.4 L74.7 95.1 L75.0 94.7 L75.3 94.4 L75.7 94.0 L76.0 93.7 L76.3 93.3 L76.7 92.9 L77.0 92.6 L77.4 92.1 L77.8 91.7 L78.1 91.4 L78.5 91.1 L78.9 90.8 L79.2 90.5 L79.6 90.2 L80.0 89.8 L80.4 89.5 L80.7 89.1 L81.1 88.8 L81.5 88.5 L81.9 88.2 L82.3 87.9 L82.7 87.6 L83.1 87.3 L83.5 87.0 L83.9 86.7 L84.3 86.4 L84.7 86.1 L85.1 85.8 L85.5 85.5 L85.9 85.2 L86.3 84.9 L86.7 84.6 L87.2 84.4 L87.6 84.1 L88.0 83.8 L88.4 83.6 L88.8 83.3 L89.3 83.1 L89.7 82.8 L90.1 82.6 L90.5 82.3 L91.0 82.1 L91.4 81.8 L91.8 81.6 L92.3 81.3 L92.7 81.1 L93.1 80.8 L93.6 80.6 L94.0 80.3 L94.5 80.1 L94.9 79.8 L95.4 79.6 L95.8 79.4 L96.3 79.2 L96.7 78.9 L97.2 78.8 L97.6 78.6 L98.1 78.4 L98.5 78.2 L99.0 78.0 L99.4 77.8 L99.9 77.6 L100.4 77.4 L100.8 77.2 L101.3 77.0 L101.7 76.7 L102.2 76.5 L102.7 76.3 L103.1 76.1 L103.6 76.0 L104.1 75.8 L104.6 75.6 L105.0 75.5 L105.5 75.3 L106.0 75.1 L106.4 75.0 L106.9 74.8 L107.4 74.7 L107.9 74.6 L108.4 74.4 L108.8 74.2 L109.3 74.1 L109.8 74.0 L110.3 73.8 L110.7 73.7 L111.2 73.5 L111.7 73.4 L112.2 73.3 L112.7 73.1 L113.1 73.0 L113.6 72.9 L114.1 72.8 L114.6 72.6 L115.1 72.4 L115.5 72.3 L116.0 72.1 L116.5 71.9 L117.0 71.8 L117.4 71.6 L117.9 71.5 L118.4 71.4 L118.9 71.3 L119.4 71.1 L119.9 71.0 L120.3 70.8 L120.8 70.7 L121.3 70.6 L121.8 70.4 L122.3 70.3 L122.8 70.2 L123.2 70.1 L123.7 69.9 L124.2 69.8 L124.7 69.7 L125.2 69.6 L125.7 69.4 L126.2 69.3 L126.6 69.2 L127.1 69.0 L127.6 68.8 L128.1 68.7 L128.6 68.6 L129.1 68.5 L129.6 68.4 L130.0 68.4 L130.5 68.3 L131.0 68.2 L131.5 68.0 L132.0 67.9 L132.5 67.8 L133.0 67.7 L133.5 67.6 L134.0 67.5 L134.5 67.4 L134.9 67.3 L135.4 67.2 L135.9 67.1 L136.4 67.1 L136.9 67.0 L137.4 66.9 L137.9 66.8 L138.4 66.7 L138.9 66.6 L139.4 66.5 L139.9 66.4 L140.4 66.3 L140.8 66.3 L141.3 66.2 L141.8 66.1 L142.3 66.0 L142.8 65.9 L143.3 65.8 L143.8 65.8 L144.3 65.7 L144.8 65.6 L145.3 65.5 L145.8 65.5 L146.3 65.4 L146.8 65.3 L147.3 65.3 L147.8 65.2 L148.3 65.2 L148.8 65.2 L149.3 65.1 L149.8 64.9 L150.3 64.9 L150.8 64.9 L151.3 64.9 L151.8 64.8 L152.3 64.8 L152.8 64.7 L153.3 64.7 L153.8 64.7 L154.3 64.7 L154.8 64.6 L155.3 64.6 L155.8 64.5 L156.3 64.5 L156.8 64.4 L157.3 64.5 L157.8 64.5 L158.3 64.5 L158.8 64.5 L159.3 64.4 L159.8 64.4 L160.3 64.4 L160.8 64.4 L161.3 64.4 L161.8 64.3 L162.3 64.3 L162.8 64.4 L163.3 64.3 L163.8 64.3 L164.3 64.2 L164.8 64.2 L165.3 64.1 L165.8 64.1 L166.3 64.1 L166.8 64.1 L167.3 64.1 L167.8 64.0 L168.3 64.0 L168.8 64.0 L169.3 64.0 L169.8 63.9 L170.3 63.9 L170.8 63.9 L171.3 63.9 L171.8 63.9 L172.3 63.9 L172.8 63.9 L173.3 63.9 L173.8 63.9 L174.3 63.9 L174.8 63.8 L175.3 63.8 L175.8 63.8 L176.3 63.8 L176.8 63.7 L177.3 63.7 L177.8 63.7 L178.3 63.7 L178.8 63.6 L179.3 63.6 L179.8 63.6 L180.3 63.6 L180.8 63.7 L181.3 63.6 L181.8 63.6 L182.3 63.5 L182.8 63.5 L183.3 63.5 L183.8 63.5 L184.3 63.5 L184.8 63.5 L185.3 63.5 L185.8 63.4 L186.3 63.4 L186.8 63.4 L187.3 63.4 L187.8 63.4 L188.3 63.4 L188.8 63.5 L189.3 63.5 L189.8 63.5 L190.3 63.5 L190.8 63.5 L191.3 63.5 L191.8 63.4 L192.3 63.4 L192.8 63.5 L193.3 63.5 L193.8 63.5 L194.3 63.6 L194.8 63.6 L195.3 63.6 L195.8 63.6 L196.3 63.7 L196.8 63.7 L197.3 63.7 L197.8 63.8 L198.3 63.8 L198.8 63.8 L199.3 63.9 L199.8 63.9 L200.3 64.0 L200.7 64.0 L201.2 64.1 L201.7 64.2 L202.2 64.2 L202.7 64.3 L203.2 64.3 L203.7 64.4 L204.2 64.4 L204.7 64.5 L205.2 64.5 L205.7 64.6 L206.2 64.6 L206.7 64.7 L207.2 64.7 L207.7 64.8 L208.2 64.8 L208.7 64.8 L209.2 64.9 L209.7 64.9 L210.2 65.0 L210.7 65.1 L211.2 65.2 L211.7 65.2 L212.2 65.3 L212.7 65.3 L213.2 65.3 L213.7 65.3 L214.2 65.5 L214.7 65.6 L215.2 65.7 L215.7 65.7 L216.2 65.8 L216.7 65.9 L217.2 65.9 L217.7 66.0 L218.2 66.0 L218.7 66.1 L219.2 66.1 L219.6 66.1 L220.1 66.1 L220.6 66.2 L221.1 66.3 L221.6 66.3 L222.1 66.4 L222.6 66.6 L223.1 66.6 L223.6 66.7 L224.1 66.8 L224.6 66.8 L225.1 66.8 L225.6 66.9 L226.1 67.0 L226.6 67.1 L227.1 67.1 L227.6 67.2 L228.1 67.2 L228.6 67.3 L229.1 67.4 L229.6 67.4 L230.1 67.6 L230.5 67.7 L231.0 67.8 L231.5 67.9 L232.0 67.9 L232.5 68.0 L233.0 68.1 L233.5 68.2 L234.0 68.2 L234.5 68.3 L235.0 68.4 L235.5 68.5 L236.0 68.5 L236.5 68.6 L237.0 68.7 L237.5 68.7 L238.0 68.8 L238.5 68.9 L239.0 69.0 L239.5 69.1 L239.9 69.2 L240.4 69.2 L240.9 69.3 L241.4 69.4 L241.9 69.5 L242.4 69.5 L242.9 69.6 L243.4 69.7 L243.9 69.8 L244.4 69.9 L244.9 70.1 L245.4 70.2 L245.9 70.3 L246.4 70.4 L246.8 70.5 L247.3 70.5 L247.8 70.6 L248.3 70.7 L248.8 70.8 L249.3 70.9 L249.8 71.0 L250.3 71.1 L250.8 71.2 L251.2 71.3 L251.7 71.4 L252.2 71.6 L252.7 71.7 L253.2 71.8 L253.7 71.9 L254.2 72.0 L254.6 72.1 L255.1 72.3 L255.6 72.4 L256.1 72.5 L256.6 72.7 L257.1 72.8 L257.5 72.9 L258.0 73.0 L258.5 73.2 L259.0 73.3 L259.5 73.4 L260.0 73.6 L260.4 73.7 L260.9 73.8 L261.4 74.0 L261.9 74.1 L262.4 74.2 L262.9 74.3 L263.4 74.4 L263.9 74.5 L264.3 74.6 L264.8 74.7 L265.3 74.8 L265.8 75.0 L266.3 75.1 L266.8 75.2 L267.3 75.3 L267.7 75.4 L268.2 75.6 L268.7 75.9 L269.2 76.0 L269.7 76.1 L270.1 76.3 L270.6 76.3 L271.1 76.4 L271.6 76.6 L272.1 76.7 L272.5 76.9 L273.0 77.2 L273.5 77.3 L273.9 77.5 L274.4 77.6 L274.9 77.8 L275.3 78.0 L275.8 78.2 L276.3 78.4 L276.7 78.6 L277.2 78.8 L277.7 79.0 L278.1 79.1 L278.6 79.3 L279.0 79.5 L279.5 79.6 L280.0 79.9 L280.4 80.1 L280.9 80.3 L281.3 80.5 L281.8 80.7 L282.2 81.0 L282.7 81.2 L283.1 81.4 L283.6 81.6 L284.0 81.8 L284.5 82.0 L284.9 82.2 L285.4 82.4 L285.8 82.7 L286.3 82.9 L286.7 83.1 L287.2 83.4 L287.6 83.7 L288.0 83.9 L288.5 84.2 L288.9 84.4 L289.3 84.6 L289.8 84.8 L290.2 85.1 L290.7 85.4 L291.1 85.7 L291.5 85.9 L292.0 86.1 L292.4 86.4 L292.8 86.7 L293.3 86.9 L293.7 87.1 L294.1 87.4 L294.5 87.6 L295.0 87.9 L295.4 88.1 L295.8 88.4 L296.3 88.6 L296.7 88.9 L297.1 89.1 L297.5 89.4 L297.9 89.7 L298.4 89.9 L298.8 90.2 L299.2 90.5 L299.6 90.8 L300.0 91.1 L300.4 91.4 L300.9 91.7 L301.3 92.0 L301.7 92.2 L302.1 92.5 L302.5 92.8 L302.9 93.2 L303.3 93.5 L303.7 93.8 L304.0 94.1 L304.4 94.4 L304.8 94.7 L305.2 95.1 L305.5 95.4 L305.9 95.7 L306.3 96.0 L306.6 96.4 L307.0 96.7 L307.4 97.1 L307.7 97.5 L308.0 97.9 L308.4 98.3 L308.7 98.6 L309.0 99.0 L309.4 99.4 L309.7 99.8 L310.0 100.2 L310.3 100.6 L310.6 101.0 L310.9 101.4 L311.2 101.8 L311.5 102.2 L311.8 102.6 L312.1 103.0 L312.3 103.4 L312.6 103.7 L312.9 104.1 L313.1 104.6 L313.4 105.1 L313.7 105.5 L313.9 105.9 L314.2 106.4 L314.4 106.8 L314.7 107.2 L314.9 107.7 L315.2 108.1 L315.4 108.5 L315.6 108.9 L315.9 109.4 L316.1 109.8 L316.3 110.2 L316.6 110.7 L316.8 111.1 L317.0 111.6 L317.3 112.0 L317.5 112.5 L317.7 112.9 L317.9 113.4 L318.2 113.8 L318.4 114.3 L318.6 114.7 L318.8 115.2 L319.0 115.7 L319.2 116.2 L319.5 116.6 L319.7 117.1 L319.9 117.5 L320.1 118.0 L320.3 118.5 L320.5 118.9 L320.7 119.3 L320.9 119.8 L321.1 120.2 L321.3 120.7 L321.5 121.1 L321.7 121.6 L321.9 122.0 L322.1 122.5 L322.3 123.0 L322.5 123.4 L322.7 123.9 L322.9 124.4 L323.1 124.9 L323.3 125.3 L323.5 125.8 L323.7 126.2 L323.9 126.7 L324.1 127.2 L324.3 127.6 L324.5 128.0 L324.7 128.5 L324.9 128.9 L325.0 129.4 L325.2 129.9 L325.4 130.3 L325.6 130.8 L325.7 131.3 L325.9 131.8 L326.1 132.2 L326.2 132.8 L326.4 133.3 L326.5 133.7 L326.7 134.2 L326.9 134.7 L327.0 135.1 L327.2 135.6 L327.3 136.0 L327.5 136.5 L327.6 137.0 L327.7 137.5 L327.9 137.9 L328.0 138.4 L328.2 138.9 L328.3 139.4 L328.5 139.8 L328.6 140.4 L328.7 141.0 L328.9 141.4 L329.0 141.9 L329.1 142.4 L329.3 142.9 L329.4 143.3 L329.6 143.7 L329.7 144.2 L329.8 144.7 L330.0 145.1 L330.1 145.6 L330.2 146.1 L330.4 146.6 L330.5 147.1 L330.6 147.6 L330.8 148.1 L330.9 148.6 L331.0 149.0 L331.2 149.5 L331.3 150.0 L331.4 150.6 L331.6 151.0 L331.7 151.5 L331.8 152.0 L331.9 152.4 L332.1 152.9 L332.2 153.4 L332.3 153.9 L332.4 154.3 L332.6 154.8 L332.7 155.3 L332.8 155.8 L332.9 156.3 L333.0 156.7 L333.2 157.2 L333.3 157.7 L333.4 158.3 L333.5 158.8 L333.6 159.2 L333.7 159.7 L333.8 160.1 L333.9 160.6 L334.0 161.1 L334.1 161.6 L334.2 162.1 L334.4 162.6 L334.5 163.1 L334.6 163.6 L334.6 164.1 L334.7 164.6 L334.8 165.1 L334.9 165.6 L335.0 166.1 L335.1 166.6 L335.2 167.0 L335.3 167.5 L335.4 168.0 L335.5 168.5 L335.6 169.0 L335.6 169.5 L335.7 170.0 L335.8 170.5 L335.9 171.0 L336.0 171.4 L336.1 171.9 L336.1 172.4 L336.2 173.0 L336.3 173.5 L336.4 174.0 L336.5 174.4 L336.5 174.9 L336.6 175.4 L336.7 175.9 L336.8 176.4 L336.9 176.9 L336.9 177.4 L337.0 177.9 L337.1 178.4 L337.2 178.9 L337.2 179.4 L337.3 179.9 L337.4 180.4 L337.5 180.9 L337.5 181.4 L337.6 181.9 L337.7 182.4 L337.7 182.9 L337.8 183.4 L337.9 183.9 L338.0 184.3 L338.0 184.8 L338.1 185.3 L338.2 185.9 L338.2 186.4 L338.3 186.9 L338.4 187.4 L338.4 187.9 L338.5 188.4 L338.6 188.8 L338.6 189.3 L338.7 189.8 L338.7 190.2 L338.8 190.7 L338.9 191.3 L338.9 191.8 L339.0 192.3 L339.1 192.8 L339.1 193.3 L339.2 193.8 L339.3 194.3 L339.3 194.7 L339.4 195.2 L339.4 195.8 L339.5 196.3 L339.6 196.8 L339.6 197.2 L339.7 197.7 L339.8 198.2 L339.8 198.7 L339.9 199.2 L340.0 199.7 L340.0 200.3 L340.1 200.8 L340.2 201.2 L340.2 201.7 L340.3 202.2 L340.4 202.7 L340.5 203.1 L340.5 203.6 L340.6 204.1 L340.7 204.6 L340.7 205.1 L340.8 205.7 L340.9 206.3 L341.0 206.8 L341.0 207.3 L341.1 207.7 L341.2 208.1 L341.3 208.6 L341.3 209.1 L341.4 209.7 L341.5 210.2 L341.6 210.7 L341.6 211.2 L341.7 211.6 L341.8 212.1 L341.9 212.6 L341.9 213.1 L342.0 213.6 L342.1 214.1 L342.2 214.6 L342.2 215.1 L342.3 215.6 L342.4 216.1 L342.4 216.6 L342.5 217.1 L342.6 217.6 L342.7 218.1 L342.7 218.6 L342.8 219.1 L342.9 219.5 L342.9 220.0 L343.0 220.5 L343.1 221.0 L343.1 221.5 L343.2 222.0 L343.3 222.5 L343.3 223.0 L343.4 223.5 L343.5 223.9 L343.6 224.5 L343.6 225.1 L343.7 225.6 L343.7 226.1 L343.8 226.5 L343.9 226.9 L343.9 227.5 L344.0 228.0 L344.1 228.5 L344.1 228.9 L344.2 229.4 L344.3 229.9 L344.3 230.3 L344.4 230.8 L344.5 231.3 L344.5 231.9 L344.6 232.4 L344.7 232.9 L344.7 233.4 L344.8 233.9 L344.8 234.4 L344.9 235.0 L345.0 235.5 L345.0 236.0 L345.1 236.5 L345.2 237.0 L345.2 237.5 L345.3 238.0 L345.3 238.5 L345.4 239.0 L345.5 239.4 L345.5 239.9 L345.6 240.4 L345.6 240.9 L345.7 241.4 L345.8 241.8 L345.8 242.3 L345.9 242.8 L345.9 243.3 L346.0 243.8 L346.1 244.4 L346.1 244.9 L346.2 245.4 L346.2 245.9 L346.3 246.3 L346.3 246.8 L346.4 247.3 L346.5 247.8 L346.5 248.3 L346.6 248.8 L346.6 249.4 L346.7 249.9 L346.7 250.4 L346.8 250.9 L346.8 251.4 L346.9 251.9 L346.9 252.4 L347.0 252.9 L347.0 253.4 L347.1 253.9 L347.1 254.4 L347.2 254.9 L347.2 255.3 L347.3 255.8 L347.3 256.3 L347.4 256.8 L347.4 257.3 L347.5 257.8 L347.5 258.3 L347.6 258.8 L347.6 259.3 L347.7 259.8 L347.7 260.3 L347.8 260.7 L347.8 261.2 L347.9 261.7 L347.9 262.2 L348.0 262.7 L348.0 263.3 L348.1 263.8 L348.1 264.3 L348.2 264.8 L348.2 265.3 L348.3 265.8 L348.3 266.3 L348.4 266.8 L348.4 267.3 L348.5 267.8 L348.5 268.3 L348.6 268.8 L348.6 269.2 L348.7 269.7 L348.7 270.2 L348.8 270.7 L348.8 271.2 L348.9 271.7 L348.9 272.2 L349.0 272.7 L349.0 273.2 L349.1 273.8 L349.1 274.3 L349.2 274.8 L349.2 275.3 L349.3 275.8 L349.3 276.3 L349.4 276.8 L349.4 277.2 L349.5 277.7 L349.5 278.2 L349.6 278.7 L349.6 279.2 L349.7 279.8 L349.7 280.3 L349.8 280.8 L349.8 281.3 L349.9 281.8 L349.9 282.2 L349.9 282.7 L350.0 283.2 L350.0 283.7 L350.1 284.2 L350.1 284.7 L350.2 285.2 L350.2 285.7 L350.3 286.2 L350.3 286.7 L350.4 287.2 L350.4 287.7 L350.5 288.2 L350.5 288.7 L350.6 289.2 L350.6 289.7 L350.7 290.2 L350.7 290.6 L350.8 291.1 L350.8 291.7 L350.9 292.2 L350.9 292.7 L351.0 293.2 L351.0 293.6 L351.1 294.1 L351.1 294.6 L351.2 295.1 L351.2 295.6 L351.3 296.2 L351.4 296.7 L351.4 297.2 L351.5 297.7 L351.5 298.2 L351.6 298.7 L351.6 299.2 L351.7 299.6 L351.8 300.2 L351.8 300.7 L351.9 301.2 L351.9 301.6 L352.0 302.1 L352.1 302.5 L352.1 303.0 L352.2 303.5 L352.3 304.0 L352.3 304.5 L352.4 305.0 L352.5 305.5 L352.5 306.0 L352.6 306.5 L352.7 307.0 L352.7 307.5 L352.8 308.0 L352.9 308.5 L353.0 309.0 L353.0 309.5 L353.1 310.0 L353.2 310.6 L353.3 311.1 L353.3 311.5 L353.4 312.0 L353.5 312.5 L353.6 313.0 L353.7 313.4 L353.8 313.9 L353.8 314.4 L353.9 314.9 L354.0 315.4 L354.1 315.9 L354.2 316.4 L354.3 316.9 L354.4 317.4 L354.5 317.9 L354.6 318.4 L354.8 318.9 L354.9 319.3 L355.0 319.8 L355.1 320.3 L355.2 320.8 L355.4 321.3 L355.5 321.8 L355.6 322.3 L355.8 322.8 L355.9 323.3 L356.1 323.8 L356.2 324.2 L356.4 324.7 L356.6 325.2 L356.7 325.6 L356.9 326.1 L357.1 326.5 L357.3 327.0 L357.5 327.4 L357.8 327.8 L358.0 328.3 L358.3 328.7 L358.5 329.2 L358.8 329.6 L359.1 329.9 L359.4 330.3 L359.8 330.6 L360.1 330.9 L360.5 331.3 L360.9 331.6 L361.3 331.8 L361.7 332.1 L362.1 332.3 L362.6 332.5 L363.0 332.7 L363.5 332.8 L364.0 333.0 L364.4 333.1 L364.9 333.2 L365.4 333.2 L365.9 333.3 L366.4 333.4 L366.9 333.4 L367.4 333.4 L367.9 333.5 L368.4 333.5 L368.9 333.5 L369.4 333.5 L369.9 333.5 L370.4 333.5 L370.9 333.5 L371.4 333.5 L371.9 333.6 L372.4 333.6 L372.9 333.6 L373.4 333.6 L373.8 333.6 L374.3 333.6 L374.7 333.6 L375.1 333.6 L375.4 333.6 L375.7 333.6 L376.0 333.6" stroke="#7f7f7f" stroke-width="1.019"/>
<path d="M41.6 299.1 L41.6 298.8 L41.6 298.5 L41.7 298.1 L41.7 297.8 L41.7 297.5 L41.7 297.1 L41.7 296.6 L41.7 296.1 L41.7 295.7 L41.8 295.1 L41.8 294.5 L41.8 294.0 L41.8 293.5 L41.8 293.0 L41.8 292.5 L41.9 292.0 L41.9 291.5 L41.9 291.0 L41.9 290.5 L41.9 290.0 L41.9 289.5 L42.0 289.0 L42.0 288.5 L42.0 288.0 L42.0 287.4 L42.0 286.9 L42.0 286.4 L42.1 286.0 L42.1 285.5 L42.1 285.0 L42.1 284.5 L42.1 284.0 L42.1 283.5 L42.2 283.0 L42.2 282.6 L42.2 282.1 L42.2 281.6 L42.2 281.1 L42.3 280.6 L42.3 280.1 L42.3 279.5 L42.3 279.0 L42.3 278.5 L42.3 278.0 L42.4 277.5 L42.4 277.0 L42.4 276.5 L42.4 275.9 L42.4 275.4 L42.5 274.9 L42.5 274.4 L42.5 274.0 L42.5 273.5 L42.5 273.0 L42.5 272.5 L42.6 272.0 L42.6 271.5 L42.6 271.0 L42.6 270.5 L42.6 270.0 L42.7 269.5 L42.7 269.0 L42.7 268.5 L42.7 268.0 L42.7 267.5 L42.8 267.0 L42.8 266.5 L42.8 266.0 L42.8 265.5 L42.8 265.0 L42.9 264.6 L42.9 264.1 L42.9 263.6 L42.9 263.0 L42.9 262.4 L43.0 261.9 L43.0 261.4 L43.0 260.9 L43.0 260.6 L43.0 260.2 L43.1 259.7 L43.1 259.2 L43.1 258.5 L43.1 257.9 L43.2 257.4 L43.2 256.9 L43.2 256.4 L43.2 255.9 L43.2 255.5 L43.3 255.1 L43.3 254.6 L43.3 254.0 L43.3 253.5 L43.4 253.1 L43.4 252.6 L43.4 252.1 L43.4 251.6 L43.5 251.1 L43.5 250.6 L43.5 250.1 L43.5 249.6 L43.6 249.0 L43.6 248.5 L43.6 248.0 L43.6 247.4 L43.7 246.9 L43.7 246.4 L43.7 246.0 L43.7 245.6 L43.8 245.1 L43.8 244.6 L43.8 244.1 L43.8 243.6 L43.9 243.0 L43.9 242.4 L43.9 241.9 L43.9 241.4 L44.0 241.0 L44.0 240.5 L44.0 239.9 L44.1 239.3 L44.1 238.8 L44.1 238.3 L44.1 237.8 L44.2 237.3 L44.2 236.9 L44.2 236.4 L44.3 235.9 L44.3 235.4 L44.3 234.9 L44.4 234.5 L44.4 234.1 L44.4 233.5 L44.4 233.0 L44.5 232.4 L44.5 231.8 L44.5 231.3 L44.6 230.8 L44.6 230.4 L44.6 230.0 L44.7 229.5 L44.7 229.0 L44.8 228.5 L44.8 228.0 L44.8 227.5 L44.9 227.0 L44.9 226.5 L44.9 225.9 L45.0 225.4 L45.0 225.0 L45.1 224.6 L45.1 224.1 L45.2 223.6 L45.2 223.1 L45.2 222.4 L45.3 221.8 L45.3 221.3 L45.4 220.9 L45.4 220.5 L45.5 220.0 L45.5 219.4 L45.6 218.9 L45.6 218.4 L45.7 217.9 L45.7 217.4 L45.8 216.9 L45.8 216.4 L45.9 215.9 L45.9 215.4 L46.0 214.9 L46.0 214.5 L46.1 214.0 L46.2 213.5 L46.2 213.0 L46.3 212.6 L46.3 212.1 L46.4 211.6 L46.5 211.1 L46.5 210.7 L46.6 210.2 L46.7 209.7 L46.8 209.2 L46.8 208.7 L46.9 208.2 L47.0 207.7 L47.1 207.1 L47.2 206.5 L47.2 206.0 L47.3 205.6 L47.4 205.2 L47.5 204.7 L47.6 204.1 L47.7 203.5 L47.8 203.0 L47.9 202.5 L48.0 202.0 L48.1 201.6 L48.2 201.1 L48.3 200.7 L48.4 200.2 L48.5 199.8 L48.6 199.2 L48.7 198.7 L48.8 198.2 L48.9 197.7 L49.0 197.2 L49.1 196.8 L49.2 196.3 L49.4 195.8 L49.5 195.3 L49.6 194.8 L49.7 194.3 L49.8 193.8 L50.0 193.4 L50.1 192.9 L50.2 192.4 L50.3 191.9 L50.4 191.5 L50.6 191.0 L50.7 190.5 L50.8 190.0 L50.9 189.5 L51.1 189.0 L51.2 188.5 L51.3 188.0 L51.4 187.5 L51.5 187.0 L51.7 186.6 L51.8 186.0 L51.9 185.5 L52.0 185.0 L52.2 184.5 L52.3 184.1 L52.4 183.7 L52.6 183.2 L52.7 182.6 L52.8 182.1 L52.9 181.7 L53.1 181.2 L53.2 180.7 L53.3 180.3 L53.5 179.8 L53.6 179.3 L53.7 178.8 L53.8 178.3 L54.0 177.8 L54.1 177.3 L54.2 176.9 L54.4 176.4 L54.5 175.9 L54.6 175.4 L54.8 174.9 L54.9 174.4 L55.1 173.9 L55.2 173.5 L55.3 173.0 L55.5 172.6 L55.6 172.2 L55.8 171.7 L56.0 171.2 L56.1 170.6 L56.3 170.2 L56.5 169.7 L56.7 169.3 L56.9 168.8 L57.1 168.3 L57.3 167.9 L57.5 167.5 L57.7 167.0 L57.9 166.6 L58.1 166.1 L58.3 165.7 L58.6 165.2 L58.8 164.7 L59.0 164.3 L59.3 163.8 L59.5 163.4 L59.7 163.0 L60.0 162.6 L60.2 162.1 L60.4 161.7 L60.7 161.3 L60.9 160.8 L61.2 160.4 L61.4 160.0 L61.7 159.4 L61.9 158.9 L62.2 158.4 L62.4 158.1 L62.7 157.7 L62.9 157.3 L63.2 156.8 L63.4 156.5 L63.7 156.1 L63.9 155.6 L64.2 155.1 L64.4 154.6 L64.7 154.2 L64.9 153.8 L65.2 153.4 L65.4 153.0 L65.7 152.6 L65.9 152.1 L66.2 151.7 L66.5 151.3 L66.7 150.9 L67.0 150.5 L67.3 150.1 L67.5 149.7 L67.8 149.2 L68.1 148.8 L68.4 148.4 L68.7 148.0 L68.9 147.5 L69.2 147.1 L69.5 146.7 L69.8 146.3 L70.1 145.9 L70.4 145.5 L70.7 145.1 L71.0 144.7 L71.4 144.4 L71.7 144.1 L72.0 143.7 L72.3 143.3 L72.6 142.7 L73.0 142.2 L73.3 141.8 L73.6 141.4 L73.9 141.2 L74.3 140.9 L74.6 140.6 L74.9 140.2 L75.3 139.8 L75.6 139.4 L75.9 139.0 L76.3 138.7 L76.6 138.3 L77.0 137.9 L77.3 137.6 L77.6 137.3 L78.0 137.0 L78.3 136.6 L78.7 136.2 L79.0 135.9 L79.3 135.4 L79.7 134.9 L80.0 134.5 L80.4 134.2 L80.7 133.8 L81.1 133.5 L81.5 133.1 L81.8 132.9 L82.2 132.6 L82.6 132.3 L82.9 131.9 L83.3 131.5 L83.7 131.2 L84.1 130.9 L84.5 130.6 L84.9 130.3 L85.3 130.0 L85.7 129.7 L86.1 129.4 L86.5 129.1 L86.9 128.9 L87.3 128.7 L87.7 128.4 L88.1 128.1 L88.5 127.8 L89.0 127.4 L89.4 127.0 L89.8 126.8 L90.2 126.6 L90.6 126.3 L91.0 126.1 L91.4 125.8 L91.8 125.5 L92.3 125.2 L92.7 124.9 L93.1 124.6 L93.5 124.3 L93.9 124.0 L94.3 123.7 L94.7 123.3 L95.1 123.0 L95.5 122.7 L95.9 122.4 L96.3 122.2 L96.8 121.9 L97.2 121.6 L97.6 121.4 L98.0 121.1 L98.5 120.9 L98.9 120.6 L99.3 120.5 L99.8 120.3 L100.2 120.0 L100.7 119.7 L101.1 119.5 L101.6 119.3 L102.0 119.1 L102.5 118.8 L102.9 118.6 L103.4 118.4 L103.8 118.2 L104.3 118.0 L104.7 117.8 L105.2 117.6 L105.6 117.4 L106.1 117.2 L106.5 116.9 L107.0 116.7 L107.5 116.5 L107.9 116.4 L108.4 116.2 L108.8 116.0 L109.3 115.8 L109.7 115.6 L110.2 115.3 L110.7 115.1 L111.1 114.9 L111.6 114.8 L112.1 114.6 L112.5 114.4 L113.0 114.2 L113.5 114.0 L114.0 113.9 L114.4 113.7 L114.9 113.6 L115.4 113.4 L115.9 113.3 L116.3 113.2 L116.8 113.2 L117.3 113.1 L117.8 112.9 L118.3 112.8 L118.8 112.7 L119.2 112.5 L119.7 112.4 L120.2 112.2 L120.7 112.1 L121.2 111.9 L121.7 111.8 L122.2 111.6 L122.6 111.5 L123.1 111.4 L123.6 111.3 L124.1 111.2 L124.6 111.1 L125.1 110.9 L125.6 110.8 L126.1 110.7 L126.5 110.6 L127.0 110.5 L127.5 110.4 L128.0 110.4 L128.5 110.3 L129.0 110.2 L129.5 110.1 L130.0 110.1 L130.5 110.0 L131.0 109.9 L131.5 109.7 L132.0 109.7 L132.5 109.6 L133.0 109.6 L133.5 109.5 L134.0 109.5 L134.5 109.4 L135.0 109.4 L135.5 109.3 L136.0 109.3 L136.5 109.3 L137.0 109.3 L137.5 109.2 L138.0 109.1 L138.5 109.0 L139.0 109.0 L139.5 109.0 L140.0 109.0 L140.5 109.0 L141.0 108.9 L141.4 108.9 L141.9 108.9 L142.4 108.9 L142.9 108.8 L143.4 108.8 L143.9 108.7 L144.4 108.6 L144.9 108.6 L145.4 108.6 L145.9 108.6 L146.4 108.6 L146.9 108.5 L147.4 108.4 L147.9 108.3 L148.4 108.3 L148.9 108.2 L149.4 108.2 L149.9 108.3 L150.4 108.4 L150.9 108.3 L151.4 108.2 L151.9 108.3 L152.4 108.3 L152.9 108.3 L153.4 108.3 L153.9 108.3 L154.4 108.2 L154.9 108.1 L155.4 108.1 L155.9 108.1 L156.4 108.0 L156.9 107.9 L157.4 107.8 L157.9 107.8 L158.4 107.8 L158.9 107.8 L159.4 107.9 L159.9 107.9 L160.4 107.9 L160.9 107.9 L161.4 107.9 L161.9 107.9 L162.4 107.9 L162.9 107.9 L163.4 107.9 L163.9 107.8 L164.5 107.8 L165.0 107.8 L165.5 107.8 L166.0 107.8 L166.5 107.7 L167.0 107.7 L167.4 107.7 L167.9 107.7 L168.4 107.8 L168.9 108.0 L169.4 108.2 L169.9 108.2 L170.4 108.3 L170.9 108.3 L171.4 108.4 L171.9 108.4 L172.4 108.5 L172.9 108.6 L173.4 108.7 L173.9 108.8 L174.4 108.9 L174.9 109.0 L175.4 109.2 L175.9 109.3 L176.3 109.4 L176.8 109.5 L177.3 109.6 L177.8 109.7 L178.3 109.7 L178.8 109.7 L179.3 109.8 L179.8 109.9 L180.3 110.0 L180.8 110.2 L181.3 110.3 L181.7 110.4 L182.2 110.5 L182.7 110.6 L183.2 110.7 L183.7 110.8 L184.2 110.9 L184.7 111.0 L185.2 111.0 L185.7 111.1 L186.2 111.2 L186.7 111.3 L187.1 111.4 L187.6 111.5 L188.1 111.6 L188.6 111.7 L189.1 111.8 L189.6 111.9 L190.1 112.0 L190.6 112.1 L191.1 112.1 L191.6 112.1 L192.1 112.2 L192.5 112.3 L193.0 112.4 L193.5 112.6 L194.0 112.8 L194.5 113.0 L195.0 113.1 L195.5 113.2 L196.0 113.3 L196.5 113.3 L197.0 113.3 L197.5 113.4 L197.9 113.5 L198.4 113.6 L198.9 113.8 L199.4 114.0 L199.9 114.1 L200.4 114.3 L200.9 114.4 L201.4 114.5 L201.9 114.5 L202.4 114.4 L202.9 114.6 L203.3 114.7 L203.8 114.8 L204.3 114.9 L204.8 115.0 L205.3 115.1 L205.8 115.2 L206.3 115.2 L206.8 115.3 L207.3 115.4 L207.8 115.5 L208.3 115.6 L208.7 115.8 L209.2 115.9 L209.7 116.0 L210.2 116.1 L210.7 116.3 L211.2 116.4 L211.7 116.4 L212.2 116.5 L212.6 116.6 L213.1 116.8 L213.6 116.9 L214.1 117.1 L214.6 117.2 L215.1 117.3 L215.6 117.5 L216.0 117.6 L216.5 117.7 L217.0 117.8 L217.5 118.0 L218.0 118.1 L218.4 118.2 L218.9 118.4 L219.4 118.5 L219.9 118.6 L220.3 118.8 L220.8 118.9 L221.3 119.1 L221.8 119.4 L222.2 119.4 L222.7 119.5 L223.2 119.7 L223.7 119.9 L224.1 120.1 L224.6 120.3 L225.1 120.5 L225.5 120.6 L226.0 120.9 L226.5 121.1 L226.9 121.3 L227.4 121.5 L227.9 121.7 L228.3 121.9 L228.8 122.0 L229.2 122.2 L229.7 122.3 L230.2 122.5 L230.6 122.7 L231.1 122.9 L231.6 123.1 L232.0 123.3 L232.5 123.6 L232.9 123.8 L233.4 124.0 L233.8 124.3 L234.3 124.5 L234.8 124.7 L235.2 124.9 L235.7 125.0 L236.1 125.2 L236.6 125.4 L237.0 125.6 L237.5 125.8 L237.9 126.0 L238.4 126.2 L238.9 126.4 L239.3 126.6 L239.8 126.8 L240.2 127.0 L240.7 127.3 L241.1 127.5 L241.6 127.8 L242.0 128.0 L242.5 128.2 L242.9 128.4 L243.4 128.6 L243.8 128.9 L244.3 129.1 L244.7 129.3 L245.2 129.5 L245.6 129.8 L246.1 130.0 L246.5 130.2 L247.0 130.5 L247.4 130.7 L247.9 130.9 L248.3 131.2 L248.7 131.4 L249.2 131.7 L249.6 131.9 L250.0 132.2 L250.5 132.5 L250.9 132.7 L251.3 132.9 L251.7 133.1 L252.1 133.4 L252.6 133.6 L253.0 134.0 L253.4 134.3 L253.8 134.6 L254.2 134.9 L254.6 135.2 L255.0 135.4 L255.4 135.7 L255.8 136.0 L256.2 136.3 L256.7 136.6 L257.1 136.8 L257.5 137.1 L257.9 137.3 L258.3 137.6 L258.7 137.9 L259.1 138.1 L259.5 138.5 L260.0 138.9 L260.4 139.2 L260.8 139.4 L261.2 139.7 L261.7 139.9 L262.1 140.1 L262.5 140.4 L263.0 140.7 L263.4 141.0 L263.8 141.2 L264.3 141.5 L264.7 141.7 L265.1 141.8 L265.6 142.0 L266.0 142.2 L266.5 142.5 L266.9 142.9 L267.3 143.1 L267.8 143.3 L268.2 143.6 L268.6 143.9 L269.0 144.2 L269.5 144.4 L269.9 144.5 L270.3 144.8 L270.7 145.1 L271.2 145.4 L271.6 145.6 L272.0 145.9 L272.4 146.3 L272.8 146.6 L273.2 146.9 L273.6 147.2 L274.0 147.5 L274.4 147.7 L274.8 148.0 L275.2 148.3 L275.6 148.6 L276.0 148.9 L276.4 149.2 L276.8 149.6 L277.2 149.9 L277.6 150.2 L278.0 150.5 L278.3 150.8 L278.7 151.2 L279.1 151.5 L279.5 151.8 L279.9 152.1 L280.3 152.4 L280.6 152.8 L281.0 153.1 L281.4 153.4 L281.8 153.8 L282.1 154.2 L282.5 154.5 L282.9 154.9 L283.3 155.2 L283.6 155.4 L284.0 155.7 L284.4 156.0 L284.7 156.4 L285.1 156.7 L285.5 157.1 L285.8 157.5 L286.2 157.8 L286.6 158.2 L286.9 158.5 L287.3 158.9 L287.6 159.3 L288.0 159.6 L288.3 159.9 L288.7 160.3 L289.0 160.6 L289.4 161.0 L289.7 161.4 L290.1 161.7 L290.4 162.1 L290.8 162.5 L291.1 162.8 L291.4 163.2 L291.8 163.6 L292.1 164.0 L292.4 164.4 L292.7 164.8 L293.1 165.1 L293.4 165.5 L293.7 165.9 L294.0 166.3 L294.3 166.7 L294.6 167.0 L294.9 167.3 L295.2 167.7 L295.5 168.1 L295.8 168.5 L296.1 169.0 L296.4 169.6 L296.7 170.0 L297.0 170.4 L297.3 170.8 L297.6 171.2 L297.8 171.6 L298.1 171.9 L298.4 172.3 L298.7 172.7 L299.0 173.1 L299.3 173.6 L299.6 174.1 L299.9 174.5 L300.1 174.9 L300.4 175.3 L300.7 175.7 L301.0 176.1 L301.3 176.4 L301.6 176.8 L301.9 177.2 L302.2 177.6 L302.4 178.0 L302.7 178.4 L303.0 178.8 L303.3 179.1 L303.6 179.6 L303.8 180.0 L304.1 180.4 L304.4 180.9 L304.7 181.4 L304.9 181.8 L305.2 182.2 L305.4 182.6 L305.7 183.1 L306.0 183.6 L306.2 184.1 L306.5 184.5 L306.7 185.0 L306.9 185.4 L307.2 185.8 L307.4 186.3 L307.6 186.7 L307.9 187.1 L308.1 187.5 L308.3 188.0 L308.6 188.4 L308.8 188.9 L309.0 189.4 L309.2 190.0 L309.4 190.4 L309.7 190.9 L309.9 191.2 L310.1 191.6 L310.3 192.1 L310.5 192.6 L310.7 193.1 L310.9 193.4 L311.1 193.8 L311.4 194.3 L311.6 194.7 L311.8 195.2 L312.0 195.6 L312.2 196.2 L312.4 196.7 L312.6 197.2 L312.8 197.6 L313.0 198.1 L313.2 198.4 L313.3 198.8 L313.5 199.3 L313.7 199.7 L313.9 200.2 L314.1 200.7 L314.3 201.2 L314.5 201.7 L314.7 202.1 L314.9 202.6 L315.1 203.1 L315.3 203.5 L315.5 204.0 L315.7 204.4 L315.8 204.9 L316.0 205.4 L316.2 205.9 L316.4 206.4 L316.6 206.8 L316.8 207.2 L317.0 207.6 L317.2 208.1 L317.4 208.6 L317.5 209.0 L317.7 209.5 L317.9 210.1 L318.1 210.6 L318.3 211.1 L318.5 211.5 L318.7 212.0 L318.8 212.4 L319.0 212.9 L319.2 213.3 L319.4 213.7 L319.6 214.2 L319.8 214.7 L319.9 215.1 L320.1 215.6 L320.3 216.1 L320.5 216.6 L320.7 217.0 L320.9 217.5 L321.0 218.0 L321.2 218.4 L321.4 218.9 L321.6 219.4 L321.8 219.8 L321.9 220.2 L322.1 220.7 L322.3 221.2 L322.5 221.7 L322.7 222.2 L322.8 222.7 L323.0 223.1 L323.2 223.5 L323.4 224.0 L323.5 224.5 L323.7 224.9 L323.9 225.4 L324.1 225.9 L324.2 226.3 L324.4 226.8 L324.6 227.2 L324.7 227.7 L324.9 228.2 L325.1 228.7 L325.2 229.1 L325.4 229.6 L325.6 230.1 L325.7 230.6 L325.9 231.1 L326.1 231.5 L326.2 232.0 L326.4 232.4 L326.5 232.9 L326.7 233.4 L326.9 233.9 L327.0 234.3 L327.2 234.8 L327.3 235.3 L327.5 235.7 L327.6 236.2 L327.8 236.8 L327.9 237.4 L328.1 237.8 L328.2 238.3 L328.3 238.8 L328.5 239.2 L328.6 239.6 L328.8 240.1 L328.9 240.6 L329.1 241.1 L329.2 241.6 L329.3 242.0 L329.5 242.5 L329.6 243.1 L329.8 243.6 L329.9 244.1 L330.0 244.6 L330.2 245.1 L330.3 245.5 L330.5 246.0 L330.6 246.5 L330.7 247.0 L330.9 247.4 L331.0 247.9 L331.2 248.4 L331.3 248.8 L331.4 249.2 L331.6 249.7 L331.7 250.1 L331.9 250.6 L332.0 251.1 L332.2 251.5 L332.3 252.0 L332.5 252.5 L332.6 253.0 L332.8 253.5 L332.9 253.9 L333.1 254.4 L333.2 254.9 L333.4 255.4 L333.5 255.9 L333.7 256.4 L333.9 256.9 L334.0 257.4 L334.2 257.8 L334.4 258.3 L334.5 258.8 L334.7 259.3 L334.9 259.8 L335.0 260.3 L335.2 260.8 L335.4 261.3 L335.5 261.7 L335.7 262.2 L335.8 262.7 L336.0 263.1 L336.2 263.6 L336.3 264.0 L336.5 264.5 L336.6 265.0 L336.8 265.4 L336.9 265.9 L337.1 266.4 L337.2 266.9 L337.4 267.4 L337.5 267.9 L337.7 268.4 L337.8 268.9 L338.0 269.3 L338.1 269.8 L338.2 270.3 L338.4 270.8 L338.5 271.3 L338.7 271.7 L338.8 272.1 L338.9 272.5 L339.1 273.0 L339.2 273.5 L339.3 274.1 L339.5 274.7 L339.6 275.1 L339.8 275.6 L339.9 276.1 L340.0 276.6 L340.2 277.0 L340.3 277.4 L340.5 277.9 L340.6 278.3 L340.8 278.8 L340.9 279.3 L341.1 279.8 L341.3 280.3 L341.4 280.8 L341.6 281.2 L341.8 281.7 L341.9 282.2 L342.1 282.6 L342.3 283.1 L342.5 283.6 L342.6 284.0 L342.8 284.5 L343.0 284.9 L343.2 285.3 L343.4 285.8 L343.5 286.3 L343.7 286.7 L343.9 287.2 L344.1 287.7 L344.3 288.2 L344.4 288.6 L344.6 289.1 L344.8 289.6 L345.0 290.0 L345.1 290.6 L345.3 291.1 L345.5 291.5 L345.6 292.0 L345.8 292.4 L346.0 292.8 L346.1 293.2 L346.3 293.7 L346.5 294.2 L346.6 294.7 L346.8 295.2 L346.9 295.7 L347.1 296.2 L347.3 296.6 L347.4 297.0 L347.6 297.5 L347.7 298.0 L347.9 298.5 L348.1 298.9 L348.2 299.5 L348.4 300.1 L348.5 300.5 L348.7 301.0 L348.8 301.4 L349.0 301.8 L349.2 302.3 L349.3 302.8 L349.5 303.2 L349.6 303.7 L349.8 304.3 L349.9 304.9 L350.1 305.4 L350.3 305.8 L350.4 306.2 L350.6 306.7 L350.7 307.2 L350.9 307.7 L351.0 308.1 L351.2 308.6 L351.3 309.1 L351.5 309.6 L351.7 310.2 L351.8 310.6 L352.0 311.1 L352.1 311.5 L352.3 312.0 L352.4 312.4 L352.6 312.9 L352.8 313.4 L352.9 313.9 L353.1 314.3 L353.3 314.8 L353.4 315.3 L353.6 315.7 L353.8 316.2 L353.9 316.7 L354.1 317.1 L354.3 317.6 L354.4 318.1 L354.6 318.5 L354.8 319.0 L355.0 319.5 L355.2 320.0 L355.4 320.5 L355.5 321.0 L355.7 321.4 L355.9 321.9 L356.1 322.3 L356.3 322.7 L356.5 323.2 L356.7 323.6 L356.9 324.1 L357.1 324.5 L357.4 325.0 L357.6 325.5 L357.8 326.0 L358.1 326.4 L358.3 326.8 L358.5 327.3 L358.8 327.7 L359.1 328.1 L359.3 328.5 L359.6 328.9 L359.9 329.3 L360.2 329.7 L360.5 330.1 L360.9 330.4 L361.2 330.7 L361.6 331.1 L362.0 331.4 L362.3 331.7 L362.8 331.9 L363.2 332.2 L363.6 332.4 L364.1 332.6 L364.5 332.8 L365.0 332.9 L365.5 333.0 L365.9 333.1 L366.4 333.2 L366.9 333.3 L367.4 333.4 L367.9 333.4 L368.4 333.5 L368.9 333.5 L369.4 333.5 L369.9 333.5 L370.4 333.6 L370.9 333.6 L371.4 333.6 L371.9 333.6 L372.4 333.6 L372.9 333.6 L373.4 333.6 L373.8 333.6 L374.3 333.6 L374.7 333.6 L375.1 333.6 L375.4 333.6 L375.7 333.6 L376.0 333.6" stroke="#bcbd22" stroke-width="1.019"/>
<path d="M41.6 309.5 L41.6 309.3 L41.6 308.9 L41.7 308.5 L41.7 308.0 L41.7 307.6 L41.7 307.1 L41.7 306.6 L41.7 306.1 L41.8 305.6 L41.8 304.9 L41.8 304.2 L41.8 303.7 L41.8 303.2 L41.9 302.7 L41.9 302.2 L41.9 301.8 L41.9 301.4 L41.9 300.9 L41.9 300.4 L42.0 299.9 L42.0 299.5 L42.0 299.0 L42.0 298.5 L42.0 297.9 L42.1 297.4 L42.1 296.9 L42.1 296.4 L42.1 295.9 L42.1 295.4 L42.2 294.8 L42.2 294.2 L42.2 293.7 L42.2 293.2 L42.3 292.7 L42.3 292.4 L42.3 292.1 L42.3 291.6 L42.4 291.1 L42.4 290.6 L42.4 290.1 L42.4 289.6 L42.5 289.1 L42.5 288.5 L42.5 288.0 L42.6 287.5 L42.6 287.0 L42.6 286.5 L42.7 286.0 L42.7 285.5 L42.7 285.1 L42.8 284.6 L42.8 284.0 L42.8 283.5 L42.9 283.0 L42.9 282.5 L42.9 282.0 L43.0 281.5 L43.0 281.0 L43.0 280.5 L43.1 280.0 L43.1 279.5 L43.2 279.1 L43.2 278.6 L43.2 278.1 L43.3 277.6 L43.3 277.1 L43.4 276.6 L43.4 276.1 L43.4 275.5 L43.5 275.0 L43.5 274.5 L43.6 274.0 L43.6 273.6 L43.7 273.1 L43.7 272.6 L43.8 272.1 L43.8 271.6 L43.8 271.2 L43.9 270.7 L43.9 270.2 L44.0 269.7 L44.0 269.2 L44.1 268.7 L44.1 268.1 L44.2 267.4 L44.2 266.9 L44.3 266.4 L44.3 265.9 L44.4 265.4 L44.4 264.8 L44.5 264.3 L44.5 263.9 L44.6 263.5 L44.7 263.0 L44.7 262.5 L44.8 262.1 L44.8 261.7 L44.9 261.2 L44.9 260.7 L45.0 260.1 L45.1 259.5 L45.1 259.0 L45.2 258.5 L45.2 258.1 L45.3 257.7 L45.3 257.1 L45.4 256.5 L45.5 256.0 L45.5 255.5 L45.6 255.0 L45.6 254.6 L45.7 254.3 L45.8 253.7 L45.8 253.1 L45.9 252.6 L45.9 252.1 L46.0 251.6 L46.1 251.1 L46.1 250.9 L46.2 250.6 L46.2 249.8 L46.3 249.0 L46.4 248.5 L46.4 248.0 L46.5 247.5 L46.6 247.0 L46.6 246.4 L46.7 245.8 L46.7 245.4 L46.8 244.9 L46.9 244.4 L46.9 243.9 L47.0 243.4 L47.1 242.9 L47.1 242.4 L47.2 241.9 L47.3 241.4 L47.4 241.1 L47.4 240.8 L47.5 240.3 L47.6 239.8 L47.6 239.3 L47.7 238.8 L47.8 238.3 L47.9 237.8 L47.9 237.3 L48.0 236.8 L48.1 236.2 L48.1 235.6 L48.2 235.1 L48.3 234.6 L48.4 234.1 L48.4 233.5 L48.5 232.9 L48.6 232.4 L48.6 232.1 L48.7 231.8 L48.8 231.3 L48.9 230.9 L48.9 230.5 L49.0 230.0 L49.1 229.5 L49.2 229.0 L49.2 228.5 L49.3 228.0 L49.4 227.5 L49.5 226.9 L49.6 226.2 L49.7 225.7 L49.7 225.2 L49.8 224.8 L49.9 224.3 L50.0 223.8 L50.1 223.4 L50.2 222.9 L50.4 222.4 L50.5 221.9 L50.6 221.5 L50.7 221.0 L50.8 220.5 L50.9 220.0 L51.1 219.6 L51.2 219.1 L51.3 218.6 L51.4 218.2 L51.6 217.3 L51.7 216.5 L51.8 216.3 L52.0 216.1 L52.1 215.6 L52.3 215.2 L52.4 214.8 L52.6 214.4 L52.7 213.9 L52.9 213.4 L53.0 212.9 L53.2 212.3 L53.3 211.7 L53.5 211.2 L53.6 210.7 L53.8 210.2 L53.9 209.8 L54.1 209.3 L54.3 208.8 L54.4 208.3 L54.6 208.1 L54.8 207.8 L55.0 207.4 L55.1 206.9 L55.3 206.4 L55.5 205.8 L55.7 205.2 L55.8 204.7 L56.0 204.3 L56.2 203.8 L56.3 203.4 L56.5 203.0 L56.6 202.6 L56.8 202.0 L57.0 201.4 L57.1 200.9 L57.3 200.5 L57.4 199.9 L57.6 199.3 L57.7 198.8 L57.9 198.3 L58.0 197.8 L58.2 197.4 L58.3 197.0 L58.5 196.5 L58.7 196.2 L58.8 195.8 L59.0 195.3 L59.2 194.9 L59.3 194.4 L59.5 193.9 L59.7 193.5 L59.9 193.0 L60.1 192.5 L60.2 192.1 L60.4 191.6 L60.6 191.0 L60.8 190.4 L61.0 190.0 L61.2 189.5 L61.4 189.2 L61.6 188.9 L61.8 188.5 L62.0 187.9 L62.2 187.3 L62.4 186.9 L62.6 186.4 L62.9 186.0 L63.1 185.7 L63.3 185.4 L63.5 184.9 L63.8 184.5 L64.0 184.0 L64.2 183.6 L64.5 183.2 L64.7 182.9 L65.0 182.5 L65.2 181.8 L65.5 181.1 L65.7 180.7 L66.0 180.3 L66.3 179.8 L66.5 179.4 L66.8 179.0 L67.0 178.6 L67.3 178.1 L67.6 177.7 L67.8 177.3 L68.1 177.0 L68.4 176.5 L68.7 176.1 L69.0 175.7 L69.2 175.3 L69.5 174.8 L69.8 174.3 L70.1 173.9 L70.4 173.5 L70.7 173.0 L70.9 172.6 L71.2 172.2 L71.5 171.8 L71.8 171.3 L72.0 170.8 L72.3 170.3 L72.5 169.9 L72.8 169.5 L73.0 169.3 L73.2 169.1 L73.5 168.4 L73.7 167.6 L74.0 167.2 L74.3 166.8 L74.6 166.5 L74.9 166.1 L75.2 165.9 L75.6 165.6 L75.9 165.3 L76.2 164.9 L76.5 164.4 L76.7 163.9 L77.0 163.3 L77.2 163.1 L77.4 162.9 L77.7 162.4 L77.9 162.0 L78.2 161.6 L78.4 161.2 L78.6 160.6 L78.9 160.0 L79.2 159.6 L79.5 159.2 L79.7 158.8 L80.0 158.4 L80.3 158.1 L80.6 157.8 L81.0 157.4 L81.3 157.0 L81.6 156.6 L81.9 156.3 L82.3 156.0 L82.6 155.6 L83.0 155.3 L83.3 154.9 L83.7 154.5 L84.1 154.2 L84.4 153.9 L84.8 153.7 L85.2 153.3 L85.5 152.8 L85.9 152.2 L86.3 151.9 L86.7 151.6 L87.1 151.2 L87.5 151.2 L87.9 151.2 L88.3 150.8 L88.7 150.4 L89.1 150.1 L89.5 149.8 L89.9 149.5 L90.3 149.2 L90.7 148.8 L91.1 148.5 L91.5 148.2 L91.9 147.8 L92.3 147.5 L92.7 147.2 L93.1 146.9 L93.5 146.6 L93.9 146.4 L94.3 146.1 L94.7 145.8 L95.1 145.5 L95.5 145.3 L95.9 145.0 L96.4 144.6 L96.8 144.3 L97.2 144.1 L97.6 143.9 L98.1 143.6 L98.5 143.3 L98.9 143.2 L99.4 143.0 L99.8 142.8 L100.2 142.5 L100.7 142.3 L101.1 142.2 L101.6 142.0 L102.0 141.8 L102.5 141.6 L102.9 141.3 L103.4 141.1 L103.8 140.7 L104.3 140.3 L104.7 140.1 L105.2 139.9 L105.7 139.9 L106.1 139.9 L106.6 139.7 L107.1 139.5 L107.6 139.3 L108.0 139.1 L108.5 139.0 L109.0 138.8 L109.5 138.7 L110.0 138.6 L110.4 138.4 L110.9 138.3 L111.4 138.2 L111.9 138.0 L112.4 137.9 L112.8 137.7 L113.3 137.5 L113.8 137.3 L114.3 137.2 L114.8 137.0 L115.2 136.8 L115.7 136.6 L116.2 136.4 L116.7 136.3 L117.1 136.1 L117.6 136.1 L118.1 136.1 L118.6 136.0 L119.1 135.9 L119.6 135.7 L120.0 135.6 L120.5 135.5 L121.0 135.4 L121.5 135.3 L122.0 135.3 L122.5 135.3 L123.0 135.3 L123.5 135.2 L124.0 135.1 L124.5 134.9 L125.0 134.7 L125.5 134.6 L126.0 134.5 L126.5 134.5 L127.0 134.6 L127.5 134.7 L128.0 134.7 L128.5 134.6 L129.0 134.6 L129.5 134.6 L130.0 134.5 L130.5 134.5 L131.0 134.4 L131.5 134.3 L132.0 134.2 L132.5 134.0 L133.0 133.8 L133.5 133.8 L134.0 133.9 L134.5 134.0 L135.0 134.0 L135.5 133.9 L136.0 133.9 L136.5 133.9 L137.0 133.9 L137.5 133.9 L138.0 133.9 L138.5 133.9 L139.0 133.9 L139.5 133.9 L140.0 133.9 L140.5 134.1 L141.0 134.3 L141.5 134.3 L142.0 134.1 L142.5 134.0 L143.0 134.0 L143.5 134.0 L144.0 133.9 L144.5 133.9 L145.0 133.9 L145.5 133.8 L146.0 133.8 L146.5 133.8 L147.0 133.8 L147.5 133.8 L148.0 133.8 L148.5 133.9 L149.0 134.0 L149.5 134.0 L150.0 134.1 L150.5 134.1 L151.0 134.2 L151.5 134.4 L152.0 134.5 L152.5 134.5 L153.0 134.6 L153.5 134.5 L154.0 134.4 L154.4 134.5 L154.9 134.6 L155.4 134.7 L155.9 134.8 L156.4 134.9 L156.9 134.9 L157.4 135.0 L157.9 135.1 L158.3 135.3 L158.8 135.4 L159.3 135.5 L159.8 135.7 L160.3 135.8 L160.8 135.9 L161.3 136.0 L161.8 136.2 L162.3 136.2 L162.8 136.1 L163.3 136.2 L163.7 136.4 L164.2 136.6 L164.7 136.7 L165.2 136.8 L165.7 136.9 L166.2 136.9 L166.7 136.9 L167.2 137.0 L167.7 137.1 L168.2 137.2 L168.7 137.3 L169.1 137.4 L169.6 137.5 L170.1 137.6 L170.6 137.7 L171.1 137.8 L171.6 138.0 L172.1 138.1 L172.6 138.3 L173.1 138.5 L173.5 138.6 L174.0 138.6 L174.5 138.6 L175.0 138.7 L175.5 139.0 L176.0 139.2 L176.5 139.3 L176.9 139.4 L177.4 139.6 L177.9 139.7 L178.4 139.8 L178.9 140.0 L179.4 139.9 L179.9 139.8 L180.3 140.0 L180.8 140.2 L181.3 140.4 L181.8 140.5 L182.3 140.7 L182.7 140.8 L183.2 140.9 L183.7 141.0 L184.2 141.0 L184.7 141.2 L185.1 141.3 L185.6 141.4 L186.1 141.6 L186.6 141.7 L187.1 141.9 L187.5 142.1 L188.0 142.2 L188.5 142.5 L189.0 142.9 L189.5 142.8 L189.9 142.7 L190.4 142.9 L190.9 143.1 L191.4 143.4 L191.9 143.7 L192.3 144.0 L192.8 144.0 L193.3 144.1 L193.8 144.2 L194.3 144.3 L194.7 144.5 L195.2 144.6 L195.7 144.8 L196.2 145.0 L196.7 145.2 L197.1 145.3 L197.6 145.5 L198.1 145.5 L198.6 145.5 L199.0 145.5 L199.5 145.6 L200.0 145.7 L200.5 146.1 L200.9 146.5 L201.4 146.7 L201.8 146.9 L202.3 147.1 L202.7 147.3 L203.2 147.5 L203.6 147.6 L204.1 147.9 L204.5 148.1 L205.0 148.3 L205.4 148.5 L205.9 148.8 L206.3 149.0 L206.7 149.2 L207.2 149.4 L207.6 149.6 L208.1 149.9 L208.5 150.1 L209.0 150.3 L209.4 150.5 L209.8 150.7 L210.3 151.0 L210.7 151.2 L211.2 151.4 L211.6 151.6 L212.1 151.8 L212.5 152.0 L213.0 152.3 L213.4 152.7 L213.9 152.9 L214.3 153.2 L214.8 153.4 L215.2 153.6 L215.7 153.9 L216.1 154.1 L216.6 154.2 L217.0 154.4 L217.5 154.6 L217.9 154.8 L218.4 155.0 L218.8 155.1 L219.2 155.2 L219.7 155.4 L220.1 155.6 L220.6 155.9 L221.0 156.1 L221.4 156.6 L221.9 157.1 L222.3 157.2 L222.7 157.3 L223.2 157.5 L223.6 157.8 L224.0 158.1 L224.5 158.3 L224.9 158.6 L225.3 159.0 L225.8 159.3 L226.2 159.7 L226.6 159.8 L227.0 159.8 L227.5 160.1 L227.9 160.4 L228.3 160.6 L228.7 161.0 L229.2 161.4 L229.6 161.7 L230.0 161.9 L230.4 162.2 L230.8 162.4 L231.3 162.7 L231.7 163.0 L232.1 163.4 L232.5 163.7 L232.9 164.0 L233.3 164.3 L233.8 164.6 L234.2 164.8 L234.6 165.0 L235.0 165.3 L235.4 165.6 L235.8 165.8 L236.2 166.1 L236.6 166.6 L237.0 167.0 L237.4 167.3 L237.8 167.6 L238.2 167.9 L238.6 168.0 L239.0 168.1 L239.4 168.5 L239.8 169.0 L240.2 169.3 L240.6 169.6 L241.0 169.9 L241.4 170.1 L241.8 170.3 L242.2 170.6 L242.6 171.0 L243.0 171.3 L243.3 171.4 L243.7 171.5 L244.1 171.8 L244.5 172.1 L244.9 172.5 L245.2 173.1 L245.6 173.8 L246.0 174.1 L246.4 174.4 L246.7 174.7 L247.1 175.1 L247.5 175.4 L247.9 175.7 L248.3 175.8 L248.6 175.9 L249.0 176.3 L249.4 177.0 L249.8 177.8 L250.2 177.9 L250.5 178.0 L250.9 178.4 L251.3 178.7 L251.7 179.0 L252.1 179.3 L252.5 179.5 L252.9 179.7 L253.3 180.0 L253.7 180.3 L254.1 180.6 L254.4 181.0 L254.8 181.4 L255.2 181.7 L255.6 182.0 L256.0 182.4 L256.4 182.9 L256.8 183.2 L257.1 183.5 L257.5 183.9 L257.9 184.1 L258.3 184.4 L258.6 184.8 L259.0 185.0 L259.3 185.3 L259.7 185.6 L260.0 186.0 L260.4 186.4 L260.7 186.8 L261.0 187.2 L261.3 187.6 L261.7 187.9 L262.0 188.3 L262.3 188.6 L262.6 189.0 L262.9 189.4 L263.2 189.8 L263.5 190.1 L263.8 190.5 L264.1 190.9 L264.4 191.4 L264.8 191.9 L265.1 192.1 L265.4 192.3 L265.7 192.7 L266.1 193.2 L266.4 193.8 L266.7 194.1 L267.1 194.5 L267.4 194.9 L267.7 195.4 L268.0 195.8 L268.4 196.2 L268.7 196.6 L269.0 197.0 L269.3 197.4 L269.7 197.7 L270.0 198.1 L270.3 198.5 L270.6 198.9 L270.9 199.4 L271.2 199.9 L271.5 200.1 L271.8 200.3 L272.0 200.7 L272.3 201.2 L272.6 201.6 L272.9 202.0 L273.2 202.5 L273.5 202.9 L273.8 203.3 L274.1 203.6 L274.3 204.0 L274.6 204.4 L274.9 204.8 L275.2 205.1 L275.5 205.5 L275.9 205.9 L276.2 206.4 L276.5 206.8 L276.8 207.2 L277.1 207.5 L277.4 208.0 L277.7 208.4 L278.0 208.8 L278.4 209.4 L278.7 210.0 L279.0 210.4 L279.3 210.8 L279.5 211.2 L279.8 211.6 L280.1 211.9 L280.4 212.2 L280.7 212.6 L280.9 212.9 L281.2 213.4 L281.5 213.8 L281.7 214.2 L282.0 214.7 L282.2 215.1 L282.5 215.5 L282.7 215.9 L283.0 216.3 L283.2 216.8 L283.5 217.2 L283.8 217.7 L284.0 218.1 L284.3 218.5 L284.5 219.0 L284.8 219.4 L285.0 219.8 L285.3 220.2 L285.5 220.5 L285.8 221.1 L286.1 221.6 L286.3 222.0 L286.6 222.5 L286.9 222.9 L287.1 223.3 L287.4 223.8 L287.7 224.2 L288.0 224.6 L288.2 225.0 L288.5 225.4 L288.8 225.8 L289.1 226.1 L289.4 226.5 L289.6 227.0 L289.9 227.4 L290.2 227.9 L290.5 228.4 L290.8 228.9 L291.0 229.3 L291.3 229.7 L291.6 229.8 L291.9 229.9 L292.1 230.3 L292.4 230.7 L292.7 231.1 L292.9 231.6 L293.2 232.2 L293.5 232.6 L293.7 233.0 L294.0 233.4 L294.3 234.0 L294.5 234.6 L294.8 234.9 L295.1 235.3 L295.3 235.7 L295.6 236.1 L295.8 236.6 L296.1 237.0 L296.3 237.4 L296.6 237.8 L296.9 238.2 L297.1 238.7 L297.4 239.1 L297.6 239.5 L297.9 240.0 L298.1 240.4 L298.4 240.8 L298.6 241.3 L298.9 241.7 L299.1 242.2 L299.4 242.7 L299.6 243.1 L299.9 243.4 L300.1 243.9 L300.4 244.4 L300.6 244.9 L300.9 245.3 L301.1 245.7 L301.4 246.1 L301.6 246.6 L301.8 247.0 L302.1 247.4 L302.3 247.9 L302.6 248.3 L302.8 248.7 L303.1 249.1 L303.3 249.6 L303.5 250.0 L303.8 250.4 L304.0 251.2 L304.2 252.0 L304.5 252.4 L304.7 252.7 L305.0 253.0 L305.2 253.4 L305.4 253.9 L305.7 254.3 L305.9 254.7 L306.1 255.1 L306.4 255.5 L306.6 256.0 L306.8 256.4 L307.1 256.9 L307.3 257.4 L307.5 257.9 L307.7 258.4 L308.0 258.6 L308.2 258.8 L308.4 259.2 L308.7 259.7 L308.9 260.1 L309.1 260.6 L309.3 261.0 L309.6 261.5 L309.8 261.9 L310.0 262.5 L310.2 263.0 L310.5 263.4 L310.7 263.9 L310.9 264.3 L311.2 264.6 L311.4 264.9 L311.6 265.3 L311.9 265.7 L312.1 266.2 L312.3 266.6 L312.6 267.1 L312.8 267.5 L313.0 268.3 L313.3 269.0 L313.5 269.5 L313.8 269.9 L314.0 270.4 L314.2 270.8 L314.5 271.0 L314.7 271.2 L314.9 271.6 L315.2 272.1 L315.4 272.5 L315.7 273.2 L315.9 273.9 L316.1 274.3 L316.4 274.8 L316.6 275.0 L316.8 275.2 L317.1 275.6 L317.3 276.1 L317.5 276.5 L317.7 277.0 L318.0 277.7 L318.2 278.4 L318.4 278.9 L318.6 279.3 L318.9 279.8 L319.1 280.1 L319.3 280.4 L319.5 280.9 L319.7 281.3 L320.0 281.8 L320.2 282.2 L320.4 282.6 L320.6 283.0 L320.8 283.5 L321.1 283.9 L321.3 284.4 L321.5 284.8 L321.7 285.1 L321.9 285.4 L322.1 285.8 L322.3 286.3 L322.6 286.7 L322.8 287.2 L323.0 287.8 L323.2 288.5 L323.4 288.9 L323.6 289.4 L323.8 289.8 L324.0 290.3 L324.2 290.7 L324.4 291.2 L324.6 291.6 L324.8 292.1 L325.0 292.6 L325.2 293.0 L325.4 293.4 L325.6 293.8 L325.8 294.3 L326.0 294.8 L326.1 295.2 L326.3 295.8 L326.5 296.3 L326.7 296.7 L326.9 297.1 L327.1 297.7 L327.3 298.3 L327.5 298.7 L327.7 299.2 L327.9 299.6 L328.1 299.9 L328.2 300.4 L328.4 300.9 L328.6 301.4 L328.8 302.0 L329.0 302.5 L329.2 302.7 L329.4 302.9 L329.6 303.3 L329.9 303.8 L330.1 304.2 L330.3 304.9 L330.5 305.5 L330.7 306.0 L330.9 306.4 L331.1 306.7 L331.3 307.2 L331.5 307.6 L331.7 308.1 L332.0 308.6 L332.2 309.0 L332.4 309.4 L332.6 309.9 L332.8 310.3 L333.0 310.8 L333.3 311.2 L333.5 311.8 L333.7 312.4 L333.9 312.8 L334.2 313.3 L334.4 313.6 L334.6 313.9 L334.9 314.3 L335.1 314.8 L335.3 315.4 L335.6 316.0 L335.8 316.2 L336.1 316.5 L336.3 316.9 L336.6 317.3 L336.9 317.7 L337.1 318.2 L337.4 318.7 L337.7 319.1 L338.0 319.6 L338.2 320.0 L338.5 320.4 L338.8 320.8 L339.1 321.2 L339.4 321.6 L339.7 322.0 L340.0 322.4 L340.3 322.8 L340.6 323.2 L340.9 323.8 L341.2 324.4 L341.6 324.8 L341.9 324.9 L342.2 325.0 L342.5 325.6 L342.9 326.1 L343.2 326.5 L343.5 326.9 L343.9 327.3 L344.2 327.5 L344.5 327.7 L344.9 328.1 L345.2 328.4 L345.6 328.8 L345.9 329.1 L346.3 329.5 L346.7 329.8 L347.1 330.1 L347.5 330.5 L347.9 330.8 L348.3 331.1 L348.8 331.3 L349.2 331.5 L349.6 331.8 L350.1 332.0 L350.5 332.1 L351.0 332.3 L351.5 332.5 L352.0 332.6 L352.4 332.7 L352.9 332.8 L353.4 332.9 L353.9 333.0 L354.4 333.1 L354.9 333.2 L355.4 333.2 L355.9 333.3 L356.4 333.4 L356.9 333.4 L357.4 333.5 L357.9 333.5 L358.4 333.5 L358.9 333.6 L359.4 333.6 L359.9 333.6 L360.4 333.6 L360.9 333.6 L361.4 333.6 L361.9 333.6 L362.4 333.6 L362.9 333.6 L363.4 333.6 L363.9 333.6 L364.4 333.6 L364.9 333.6 L365.4 333.6 L365.9 333.6 L366.4 333.6 L366.9 333.6 L367.4 333.6 L367.9 333.6 L368.4 333.6 L368.9 333.6 L369.4 333.6 L369.9 333.6 L370.4 333.6 L370.9 333.6 L371.4 333.6 L371.9 333.6 L372.4 333.6 L372.9 333.6 L373.4 333.6 L373.9 333.6 L374.4 333.6 L374.9 333.6 L375.3 333.6 L375.7 333.6 L376.1 333.6 L376.4 333.6" stroke="#17becf" stroke-width="1.019"/>
<path d="M41.6 310.4 L42.1 297.9 L42.5 291.0 L42.6 289.7 L43.1 286.7 L43.6 284.8 L44.1 283.1 L44.6 281.4 L44.9 280.0 L45.1 278.5 L45.6 274.9 L46.1 271.5 L46.6 269.2 L46.7 269.4 L47.1 267.1 L47.6 264.5 L48.1 262.2 L48.6 260.0 L48.9 258.7 L49.1 257.9 L49.6 256.1 L50.1 254.5 L50.6 253.3 L51.1 252.0 L51.6 250.4 L52.1 248.7 L52.6 246.9 L53.1 245.1 L53.6 242.9 L54.1 240.8 L54.3 240.2 L54.6 239.2 L55.1 238.0 L55.6 236.9 L56.1 235.5 L56.6 234.2 L57.1 232.9 L57.6 231.6 L58.1 230.4 L58.6 229.1 L59.1 227.9 L59.6 226.8 L60.1 225.7 L60.6 224.6 L60.9 223.9 L61.1 223.4 L61.6 222.6 L62.1 221.7 L62.6 220.9 L63.1 220.1 L63.6 219.3 L64.0 218.5 L64.1 218.3 L64.6 217.5 L65.1 216.6 L65.6 215.6 L66.1 214.7 L66.6 213.8 L67.1 213.2 L67.6 212.8 L68.1 212.0 L68.6 211.3 L69.1 210.8 L69.6 210.3 L70.1 209.6 L70.6 208.9 L71.1 208.3 L71.6 207.5 L72.0 206.9 L72.1 206.4 L72.6 205.4 L73.1 204.7 L73.6 204.0 L74.1 203.3 L74.6 202.8 L75.1 202.3 L75.6 202.0 L76.1 201.9 L76.4 201.5 L76.6 201.3 L77.1 200.5 L77.6 199.7 L78.1 199.0 L78.6 198.3 L79.1 197.8 L79.6 197.4 L80.1 197.2 L80.6 197.1 L81.1 196.7 L81.6 196.2 L82.1 195.8 L82.6 195.1 L83.1 194.3 L83.6 194.0 L84.1 193.6 L84.6 193.6 L85.1 193.6 L85.6 192.8 L86.1 192.1 L86.6 191.7 L87.1 191.3 L87.6 191.0 L88.1 190.7 L88.6 190.3 L89.1 190.0 L89.6 189.8 L90.1 189.5 L90.6 189.3 L90.9 189.1 L91.1 189.0 L91.6 188.8 L92.1 188.5 L92.6 188.9 L93.1 189.2 L93.6 188.8 L94.1 188.5 L94.6 188.7 L95.1 189.0 L95.6 188.8 L96.1 188.3 L96.6 187.7 L97.1 187.6 L97.6 187.4 L98.1 187.6 L98.2 187.9 L98.6 187.8 L99.1 187.6 L99.6 187.4 L100.1 187.1 L100.6 187.0 L101.1 186.8 L101.6 186.4 L102.1 186.0 L102.6 186.1 L103.1 186.3 L103.6 186.2 L104.1 186.1 L104.6 186.1 L105.1 186.0 L105.5 186.1 L105.6 186.1 L106.1 186.1 L106.6 186.2 L107.1 186.3 L107.6 186.3 L108.1 186.3 L108.6 186.2 L109.1 186.1 L109.6 186.1 L110.1 186.2 L110.6 186.2 L111.1 186.2 L111.6 186.0 L112.1 185.8 L112.6 185.8 L112.7 185.8 L113.1 185.8 L113.6 185.8 L114.1 186.2 L114.6 186.6 L115.1 186.5 L115.6 186.1 L116.1 185.7 L116.6 185.7 L117.1 185.8 L117.6 186.0 L118.1 186.0 L118.6 185.9 L119.1 185.9 L119.6 186.2 L120.0 186.5 L120.1 186.5 L120.6 186.5 L121.1 186.5 L121.6 186.5 L122.1 186.0 L122.6 185.6 L123.1 185.6 L123.6 186.2 L124.1 186.8 L124.6 186.9 L125.1 186.9 L125.6 187.0 L126.1 187.1 L126.6 187.1 L127.1 187.0 L127.6 187.1 L128.1 187.2 L128.6 187.2 L129.1 187.3 L129.6 187.1 L130.0 186.8 L130.1 187.0 L130.6 187.3 L131.1 187.4 L131.6 187.3 L132.1 187.2 L132.6 187.2 L133.1 187.2 L133.6 187.2 L134.1 187.2 L134.6 187.3 L135.1 187.4 L135.6 187.6 L136.1 187.7 L136.6 187.7 L137.1 187.7 L137.6 187.7 L138.1 188.2 L138.6 188.7 L139.1 188.6 L139.6 188.5 L140.0 188.6 L140.1 188.6 L140.6 188.8 L141.1 189.0 L141.6 189.0 L142.1 189.0 L142.6 189.2 L143.1 189.4 L143.6 189.5 L144.0 189.8 L144.1 190.1 L144.6 190.2 L145.1 190.2 L145.6 190.2 L146.1 190.4 L146.6 190.4 L147.1 190.5 L147.6 190.3 L148.1 190.1 L148.6 190.2 L149.1 190.2 L149.6 190.6 L150.0 191.0 L150.1 191.0 L150.6 191.2 L151.1 191.2 L151.6 191.2 L152.1 191.8 L152.6 192.3 L153.1 193.0 L153.6 193.2 L154.1 193.5 L154.6 194.0 L155.1 194.8 L155.6 195.5 L156.0 195.8 L156.1 195.8 L156.6 196.1 L157.1 196.3 L157.6 196.5 L158.1 196.6 L158.6 196.7 L159.1 196.9 L159.6 197.0 L160.1 197.4 L160.6 197.8 L161.1 197.7 L161.6 197.7 L162.0 197.8 L162.1 197.8 L162.6 197.9 L163.1 197.8 L163.6 197.6 L164.1 197.7 L164.6 197.8 L165.1 197.9 L165.6 198.6 L166.1 199.3 L166.6 199.4 L167.1 199.5 L167.6 199.6 L168.1 199.7 L168.6 199.5 L169.1 199.3 L169.6 199.4 L170.0 199.5 L170.1 199.6 L170.6 199.7 L171.1 199.7 L171.6 199.7 L172.1 199.9 L172.6 200.0 L173.1 200.6 L173.6 201.1 L174.1 201.3 L174.6 201.5 L175.1 201.8 L175.6 202.2 L176.1 202.4 L176.6 202.5 L177.1 202.5 L177.6 202.7 L178.1 202.9 L178.6 203.1 L179.1 203.2 L179.6 203.2 L180.0 203.2 L180.1 203.2 L180.6 203.4 L181.1 203.5 L181.6 203.4 L182.1 203.3 L182.6 203.7 L183.1 204.0 L183.6 204.1 L184.1 204.2 L184.6 204.3 L185.1 204.9 L185.6 205.6 L186.1 205.7 L186.6 205.7 L187.1 205.7 L187.6 205.9 L188.1 205.8 L188.6 205.7 L189.1 205.4 L189.6 205.1 L190.0 205.3 L190.1 205.3 L190.6 205.5 L191.1 205.7 L191.6 206.3 L192.1 206.8 L192.6 207.1 L193.1 207.5 L193.6 207.9 L194.1 208.3 L194.6 208.7 L195.1 209.1 L195.6 209.7 L196.0 210.1 L196.1 210.2 L196.6 210.8 L197.1 211.6 L197.6 212.2 L198.1 212.8 L198.6 213.8 L199.1 214.7 L199.6 215.6 L200.0 216.5 L200.1 217.0 L200.6 217.7 L201.1 218.3 L201.6 218.9 L202.1 219.5 L202.6 219.9 L203.1 220.4 L203.6 220.9 L204.1 221.4 L204.6 221.9 L205.1 222.8 L205.6 223.6 L206.1 224.1 L206.6 224.6 L207.1 224.8 L207.3 224.6 L207.6 225.0 L208.1 225.5 L208.6 226.1 L209.1 226.6 L209.6 227.3 L210.1 228.0 L210.6 228.5 L211.1 229.1 L211.6 229.6 L212.1 230.1 L212.6 230.6 L213.1 231.2 L213.6 231.5 L214.1 231.9 L214.5 232.4 L214.6 232.8 L215.1 233.7 L215.6 234.4 L216.1 235.0 L216.6 235.7 L217.1 236.4 L217.6 236.5 L218.1 236.5 L218.6 237.1 L218.9 237.4 L219.1 237.6 L219.6 238.0 L220.1 238.5 L220.6 238.9 L221.1 239.3 L221.6 239.7 L222.1 240.0 L222.6 240.4 L223.1 240.7 L223.6 241.2 L224.1 241.7 L224.6 242.1 L225.1 242.4 L225.6 242.8 L226.1 243.2 L226.2 243.2 L226.6 244.2 L227.1 245.2 L227.6 245.5 L228.1 245.9 L228.6 245.5 L229.1 245.2 L229.6 246.0 L230.1 246.8 L230.6 247.2 L231.1 247.6 L231.6 248.0 L232.0 248.4 L232.1 248.8 L232.6 249.6 L233.1 250.1 L233.6 250.6 L234.1 251.0 L234.6 251.4 L235.1 252.0 L235.6 251.9 L236.1 251.8 L236.6 252.4 L237.1 252.9 L237.6 253.5 L237.8 253.7 L238.1 254.1 L238.6 254.8 L239.1 255.3 L239.6 255.8 L240.1 256.1 L240.6 256.5 L241.1 257.6 L241.6 258.8 L242.1 259.4 L242.2 259.5 L242.6 260.0 L243.1 260.6 L243.6 261.3 L244.1 262.0 L244.6 261.9 L245.1 261.9 L245.5 262.5 L245.6 262.6 L246.1 263.4 L246.6 264.2 L247.1 265.0 L247.6 265.9 L248.1 266.7 L248.6 267.8 L249.1 268.9 L249.6 269.7 L250.0 270.2 L250.1 270.4 L250.6 270.7 L251.1 271.1 L251.6 271.7 L252.1 272.3 L252.6 272.9 L253.1 273.5 L253.6 274.4 L254.0 275.2 L254.1 275.5 L254.6 276.3 L255.1 276.9 L255.6 277.4 L256.1 278.0 L256.6 278.5 L257.1 278.6 L257.6 278.6 L258.1 279.1 L258.6 279.7 L259.1 280.2 L259.6 281.2 L260.0 282.1 L260.1 282.2 L260.6 282.8 L261.1 283.5 L261.6 284.1 L262.1 284.7 L262.6 285.2 L263.1 285.1 L263.6 285.0 L264.1 285.6 L264.6 286.2 L265.1 286.7 L265.6 287.3 L266.1 287.9 L266.6 288.5 L267.1 289.1 L267.6 289.8 L268.1 290.6 L268.6 290.9 L269.1 291.3 L269.6 292.6 L270.1 294.0 L270.6 294.7 L271.1 295.4 L271.6 296.2 L272.1 297.0 L272.6 297.6 L273.1 298.3 L273.6 298.9 L274.1 299.5 L274.6 300.2 L275.1 300.8 L275.6 301.4 L276.1 301.8 L276.6 302.2 L277.1 302.7 L277.6 303.3 L278.1 303.9 L278.6 304.4 L279.1 305.3 L279.6 306.3 L279.7 306.4 L280.1 306.8 L280.6 307.3 L281.1 307.9 L281.6 307.7 L282.1 307.5 L282.6 308.1 L283.1 308.6 L283.6 309.1 L284.1 309.5 L284.6 309.8 L285.1 310.3 L285.6 311.4 L286.1 312.5 L286.3 312.7 L286.6 312.9 L287.1 313.3 L287.6 313.6 L288.1 313.3 L288.6 313.0 L289.1 313.3 L289.6 313.6 L290.1 313.8 L290.6 313.9 L291.1 314.2 L291.6 315.4 L292.1 316.5 L292.6 316.8 L293.1 317.2 L293.6 317.2 L294.1 317.2 L294.6 317.6 L295.1 317.5 L295.6 317.5 L296.1 318.0 L296.6 318.5 L297.1 319.0 L297.6 319.4 L298.1 320.8 L298.2 322.0 L298.6 322.2 L299.1 322.4 L299.6 322.6 L300.1 322.8 L300.6 322.0 L301.1 321.2 L301.6 321.3 L302.1 321.5 L302.3 322.0 L302.6 322.5 L303.1 322.8 L303.6 323.2 L304.1 323.5 L304.6 323.9 L305.1 324.5 L305.6 325.2 L306.1 325.4 L306.4 325.5 L306.6 325.6 L307.1 325.3 L307.6 325.0 L308.1 325.1 L308.6 325.2 L309.1 325.4 L309.6 325.7 L310.1 325.8 L310.6 325.9 L311.1 326.0 L311.6 326.1 L312.1 325.9 L312.2 325.6 L312.6 325.8 L313.1 326.3 L313.6 326.8 L314.1 327.5 L314.6 328.3 L315.1 329.2 L315.6 329.7 L316.1 330.1 L316.3 330.3 L316.6 330.1 L317.1 329.9 L317.6 330.0 L318.1 330.1 L318.6 330.2 L319.1 330.4 L319.6 330.5 L320.1 330.3 L320.6 330.1 L321.1 330.3 L321.6 330.5 L322.1 330.6 L322.6 330.8 L322.8 330.8 L323.1 331.0 L323.6 331.5 L324.1 332.0 L324.6 332.3 L325.1 332.5 L325.3 332.5 L325.6 332.6 L326.1 332.7 L326.6 332.8 L327.1 332.9 L327.6 333.0 L328.1 333.1 L328.6 333.1 L329.1 333.2 L329.6 333.3 L330.1 333.3 L330.6 333.3 L331.0 333.4 L331.1 333.4 L331.6 333.4 L332.1 333.4 L332.6 333.5 L333.1 333.5 L333.6 333.5 L334.1 333.6 L334.6 333.6 L335.1 333.6 L335.6 333.6 L336.0 333.6 L336.1 333.6 L336.6 333.6 L337.1 333.6 L337.6 333.6 L338.1 333.6 L338.6 333.6 L339.1 333.6 L339.6 333.6 L340.1 333.6 L340.6 333.6 L341.1 333.6 L341.6 333.6 L342.1 333.6 L342.6 333.6 L343.1 333.6 L343.6 333.6 L344.1 333.6 L344.6 333.6 L345.1 333.6 L345.6 333.6 L346.1 333.6 L346.6 333.6 L347.1 333.6 L347.6 333.6 L348.1 333.6 L348.6 333.6 L349.1 333.6 L349.6 333.6 L350.1 333.6 L350.6 333.6 L351.1 333.6 L351.6 333.6 L352.1 333.6 L352.6 333.6 L353.1 333.6 L353.6 333.6 L354.1 333.6 L354.6 333.6 L355.1 333.6 L355.6 333.6 L356.1 333.6 L356.6 333.6 L357.1 333.6 L357.6 333.6 L358.1 333.6 L358.6 333.6 L359.1 333.6 L359.6 333.6 L360.1 333.6 L360.6 333.6 L361.1 333.6 L361.6 333.6 L362.1 333.6 L362.6 333.6 L363.1 333.6 L363.6 333.6 L364.1 333.6 L364.6 333.6 L365.1 333.6 L365.6 333.6 L366.1 333.6 L366.6 333.6 L367.1 333.6 L367.6 333.6 L368.1 333.6 L368.6 333.6 L369.1 333.6 L369.6 333.6 L370.1 333.6 L370.6 333.6 L371.1 333.6 L371.6 333.6 L372.1 333.6 L372.6 333.6 L373.1 333.6 L373.6 333.6 L374.1 333.6 L374.6 333.6 L375.1 333.6 L375.6 333.6 L376.1 333.6 L376.6 333.6 L376.9 333.6" stroke="#1f77b4" stroke-width="1.019"/>
<path d="M41.6 304.3 L41.6 303.9 L41.7 303.6 L41.7 303.2 L41.7 302.7 L41.7 302.3 L41.8 301.8 L41.8 301.3 L41.8 300.8 L41.8 300.3 L41.9 299.8 L41.9 299.3 L41.9 298.8 L42.0 298.4 L42.0 297.9 L42.0 297.4 L42.0 296.9 L42.1 296.4 L42.1 296.0 L42.1 295.6 L42.2 295.1 L42.2 294.6 L42.2 294.1 L42.2 293.6 L42.3 292.9 L42.3 292.1 L42.3 291.8 L42.4 291.5 L42.4 291.0 L42.4 290.5 L42.4 290.0 L42.5 289.4 L42.5 288.9 L42.5 288.5 L42.6 288.0 L42.6 287.5 L42.6 287.0 L42.7 286.5 L42.7 286.0 L42.7 285.5 L42.8 285.0 L42.8 284.5 L42.8 284.0 L42.8 283.5 L42.9 283.0 L42.9 282.5 L42.9 282.1 L43.0 281.6 L43.0 281.2 L43.0 280.7 L43.1 280.2 L43.1 279.7 L43.1 279.2 L43.2 278.6 L43.2 277.9 L43.2 277.4 L43.3 276.9 L43.3 276.4 L43.3 275.9 L43.4 275.4 L43.4 274.9 L43.4 274.4 L43.5 274.0 L43.5 273.5 L43.5 273.0 L43.6 272.5 L43.6 271.9 L43.6 271.3 L43.7 270.7 L43.7 270.2 L43.7 269.9 L43.8 269.5 L43.8 269.0 L43.8 268.5 L43.9 268.0 L43.9 267.5 L43.9 267.1 L44.0 266.7 L44.0 266.2 L44.1 265.8 L44.1 265.4 L44.1 264.9 L44.2 264.4 L44.2 263.9 L44.2 263.1 L44.3 262.4 L44.3 261.9 L44.4 261.4 L44.4 260.9 L44.4 260.4 L44.5 260.0 L44.5 259.7 L44.5 259.0 L44.6 258.4 L44.6 257.9 L44.7 257.5 L44.7 257.2 L44.7 256.5 L44.8 255.8 L44.8 255.6 L44.9 255.3 L44.9 254.8 L45.0 254.3 L45.0 253.7 L45.0 253.1 L45.1 252.6 L45.1 252.0 L45.2 251.5 L45.2 251.0 L45.3 250.5 L45.3 250.0 L45.3 249.6 L45.4 249.1 L45.4 248.6 L45.5 248.1 L45.5 247.6 L45.6 247.1 L45.6 246.6 L45.7 246.1 L45.7 245.6 L45.8 245.0 L45.8 244.4 L45.9 243.9 L45.9 243.5 L46.0 243.2 L46.0 242.7 L46.1 242.2 L46.1 241.7 L46.2 241.1 L46.2 240.6 L46.3 240.1 L46.3 239.4 L46.4 238.7 L46.4 238.2 L46.5 237.9 L46.6 237.6 L46.6 237.1 L46.7 236.6 L46.7 236.1 L46.8 235.6 L46.9 235.2 L46.9 234.7 L47.0 234.2 L47.1 233.7 L47.1 233.2 L47.2 232.7 L47.3 232.2 L47.4 231.7 L47.4 231.2 L47.5 230.8 L47.6 230.3 L47.7 229.8 L47.7 229.3 L47.8 228.8 L47.9 228.3 L48.0 227.8 L48.1 227.1 L48.2 226.5 L48.3 226.0 L48.4 225.5 L48.4 225.0 L48.5 224.5 L48.6 224.0 L48.7 223.5 L48.8 223.0 L48.9 222.7 L49.0 222.3 L49.1 221.8 L49.1 221.3 L49.2 220.8 L49.3 220.4 L49.4 220.0 L49.5 219.4 L49.6 218.8 L49.6 218.4 L49.7 217.9 L49.8 217.4 L49.9 217.0 L49.9 216.4 L50.0 215.9 L50.1 215.4 L50.2 214.9 L50.3 214.4 L50.3 213.9 L50.4 213.4 L50.5 212.9 L50.6 212.4 L50.7 211.9 L50.8 211.4 L50.9 210.9 L51.0 210.4 L51.2 209.9 L51.3 209.3 L51.4 208.7 L51.6 208.3 L51.7 207.9 L51.9 207.4 L52.1 207.2 L52.3 207.0 L52.4 206.5 L52.6 205.8 L52.8 205.1 L53.0 204.6 L53.2 204.2 L53.4 203.7 L53.5 203.2 L53.7 202.7 L53.9 202.2 L54.0 201.8 L54.2 201.3 L54.4 200.8 L54.6 200.3 L54.7 199.8 L54.9 199.3 L55.1 199.1 L55.2 198.9 L55.4 198.5 L55.6 198.1 L55.8 197.6 L55.9 197.2 L56.1 196.7 L56.3 196.2 L56.5 195.6 L56.6 194.9 L56.8 194.4 L57.0 194.0 L57.2 193.5 L57.4 193.0 L57.6 192.7 L57.7 192.3 L57.9 191.9 L58.1 191.4 L58.3 191.0 L58.5 190.5 L58.7 190.0 L58.9 189.5 L59.1 189.1 L59.3 188.6 L59.5 188.1 L59.7 187.4 L59.9 186.7 L60.1 186.3 L60.3 185.9 L60.5 185.5 L60.7 185.0 L61.0 184.5 L61.2 184.0 L61.4 183.9 L61.6 183.9 L61.8 183.4 L62.0 183.0 L62.3 182.2 L62.5 181.4 L62.7 180.9 L63.0 180.5 L63.2 180.3 L63.5 180.1 L63.7 179.6 L64.0 179.2 L64.3 178.8 L64.6 178.3 L64.9 177.7 L65.1 177.3 L65.5 176.9 L65.8 176.5 L66.1 176.0 L66.4 175.7 L66.7 175.4 L67.1 175.1 L67.4 174.8 L67.7 174.4 L68.1 174.1 L68.4 173.7 L68.8 173.4 L69.1 173.0 L69.5 172.6 L69.8 172.1 L70.1 171.6 L70.5 171.3 L70.8 171.0 L71.1 170.5 L71.5 170.1 L71.8 169.7 L72.1 169.3 L72.4 168.9 L72.7 168.5 L73.0 168.1 L73.3 167.8 L73.6 167.4 L73.9 167.0 L74.3 166.7 L74.6 166.3 L74.9 165.9 L75.2 165.5 L75.5 165.1 L75.8 164.8 L76.2 164.3 L76.5 163.8 L76.8 163.4 L77.1 163.0 L77.4 162.6 L77.7 162.2 L78.1 161.8 L78.4 161.4 L78.7 161.0 L79.0 160.6 L79.3 160.5 L79.6 160.3 L79.9 159.7 L80.2 159.1 L80.6 158.7 L80.9 158.3 L81.2 157.9 L81.5 157.4 L81.9 157.1 L82.2 156.7 L82.5 156.3 L82.9 156.0 L83.2 155.8 L83.6 155.6 L84.0 155.3 L84.3 154.9 L84.7 154.7 L85.1 154.4 L85.4 154.1 L85.8 153.7 L86.2 153.4 L86.6 152.9 L87.0 152.4 L87.4 152.1 L87.8 151.8 L88.2 151.5 L88.6 151.3 L89.0 151.0 L89.4 150.8 L89.8 150.5 L90.3 150.2 L90.7 150.1 L91.1 150.0 L91.6 149.8 L92.0 149.6 L92.5 149.3 L92.9 149.2 L93.4 149.0 L93.8 148.8 L94.3 148.6 L94.8 148.3 L95.2 148.1 L95.7 147.9 L96.2 147.7 L96.6 147.6 L97.1 147.4 L97.6 147.2 L98.1 147.1 L98.5 147.0 L99.0 146.7 L99.5 146.5 L100.0 146.4 L100.5 146.3 L100.9 146.1 L101.4 146.0 L101.9 145.9 L102.4 145.7 L102.8 145.5 L103.3 145.4 L103.8 145.3 L104.3 145.3 L104.7 145.1 L105.2 145.0 L105.7 144.7 L106.1 144.4 L106.6 144.2 L107.1 144.0 L107.5 143.8 L108.0 143.6 L108.5 143.4 L109.0 143.2 L109.4 142.9 L109.9 142.8 L110.4 142.6 L110.9 142.5 L111.4 142.3 L111.8 142.4 L112.3 142.4 L112.8 142.3 L113.3 142.1 L113.8 141.9 L114.2 141.7 L114.7 141.6 L115.2 141.4 L115.7 141.3 L116.2 141.3 L116.7 141.2 L117.2 141.1 L117.6 141.0 L118.1 140.8 L118.6 140.7 L119.1 140.5 L119.6 140.3 L120.1 140.2 L120.6 140.1 L121.1 140.0 L121.6 140.4 L122.1 140.8 L122.6 140.7 L123.1 140.6 L123.6 140.2 L124.1 139.7 L124.5 139.7 L125.0 139.6 L125.5 139.5 L126.0 139.5 L126.5 139.5 L127.0 139.5 L127.5 139.4 L128.0 139.3 L128.5 139.1 L129.0 138.9 L129.5 138.9 L130.0 139.0 L130.5 138.9 L131.0 138.8 L131.5 138.6 L132.0 138.5 L132.5 138.5 L133.0 138.4 L133.5 138.3 L134.0 138.3 L134.5 138.2 L135.0 138.2 L135.5 138.2 L136.0 138.2 L136.4 138.1 L136.9 138.0 L137.4 137.9 L137.9 137.8 L138.4 137.8 L138.9 137.9 L139.4 137.8 L139.9 137.5 L140.4 137.3 L140.9 137.2 L141.4 137.2 L141.9 137.1 L142.4 137.1 L142.9 137.1 L143.4 137.1 L143.9 137.0 L144.4 137.0 L144.9 136.9 L145.4 136.7 L145.9 136.7 L146.4 136.7 L146.9 136.6 L147.4 136.6 L147.9 136.7 L148.4 136.9 L148.9 136.9 L149.4 136.8 L149.9 136.8 L150.4 136.8 L150.9 136.8 L151.4 136.8 L151.9 136.8 L152.4 136.9 L152.9 136.9 L153.4 136.9 L153.9 136.9 L154.4 136.9 L154.9 137.0 L155.4 137.0 L155.9 137.0 L156.4 136.7 L156.9 136.5 L157.4 136.5 L157.9 136.5 L158.4 136.5 L158.9 136.7 L159.4 137.0 L159.9 137.0 L160.4 137.0 L160.9 137.1 L161.4 137.2 L161.9 137.2 L162.4 137.2 L162.9 137.0 L163.4 136.8 L163.9 136.8 L164.4 136.9 L164.9 137.0 L165.4 137.0 L165.9 137.0 L166.4 137.0 L166.9 137.0 L167.4 136.9 L167.9 136.8 L168.4 136.8 L168.9 136.9 L169.4 136.9 L169.9 137.0 L170.4 137.1 L170.9 137.1 L171.4 137.1 L171.9 137.2 L172.4 137.2 L172.9 137.4 L173.4 137.7 L173.9 137.5 L174.4 137.4 L174.9 137.5 L175.4 137.5 L175.9 137.6 L176.4 137.6 L176.9 137.9 L177.4 138.2 L177.9 138.3 L178.4 138.3 L178.9 138.4 L179.4 138.4 L179.9 138.2 L180.4 138.0 L180.9 138.1 L181.4 138.1 L181.9 138.1 L182.4 138.1 L182.9 138.1 L183.4 138.2 L183.9 138.2 L184.4 138.3 L184.9 138.5 L185.4 138.7 L185.9 138.8 L186.4 138.8 L186.9 138.9 L187.4 138.9 L187.9 139.0 L188.4 139.1 L188.9 138.9 L189.4 138.8 L189.9 138.9 L190.4 138.9 L190.9 139.0 L191.3 139.0 L191.8 139.1 L192.3 139.2 L192.8 139.4 L193.3 139.5 L193.8 139.6 L194.3 139.7 L194.8 139.9 L195.3 140.1 L195.8 140.2 L196.3 140.3 L196.8 140.4 L197.2 140.6 L197.7 140.5 L198.2 140.4 L198.7 140.6 L199.2 140.6 L199.7 140.7 L200.2 140.8 L200.7 140.9 L201.1 141.0 L201.6 141.2 L202.1 141.5 L202.6 141.8 L203.1 141.9 L203.6 141.7 L204.0 141.5 L204.5 141.7 L205.0 141.8 L205.5 142.0 L206.0 142.3 L206.4 142.6 L206.9 142.7 L207.4 142.9 L207.9 143.0 L208.3 143.2 L208.8 143.3 L209.3 143.6 L209.8 143.8 L210.2 144.1 L210.7 144.3 L211.2 144.4 L211.6 144.6 L212.1 144.8 L212.6 144.8 L213.0 144.8 L213.5 145.0 L214.0 145.3 L214.4 145.5 L214.9 145.7 L215.4 145.9 L215.8 146.1 L216.3 146.3 L216.8 146.6 L217.2 146.9 L217.7 147.1 L218.1 147.3 L218.6 147.4 L219.1 147.6 L219.5 147.9 L220.0 148.2 L220.5 148.4 L220.9 148.5 L221.4 148.6 L221.9 148.6 L222.3 148.6 L222.8 148.8 L223.3 148.9 L223.7 149.1 L224.2 149.3 L224.7 149.6 L225.1 149.9 L225.6 150.1 L226.1 150.3 L226.5 150.5 L227.0 150.7 L227.4 150.9 L227.9 151.1 L228.4 151.3 L228.8 151.5 L229.3 151.4 L229.8 151.4 L230.2 151.6 L230.7 151.8 L231.1 152.2 L231.6 152.6 L232.0 152.8 L232.5 153.3 L232.9 153.9 L233.4 153.9 L233.8 153.9 L234.3 154.2 L234.7 154.4 L235.2 154.6 L235.6 154.7 L236.1 154.7 L236.5 155.0 L237.0 155.2 L237.4 155.4 L237.9 155.5 L238.3 155.5 L238.7 155.8 L239.2 156.0 L239.6 156.2 L240.1 156.5 L240.5 156.9 L240.9 157.3 L241.4 157.6 L241.8 157.8 L242.2 158.1 L242.7 158.3 L243.1 158.4 L243.5 158.7 L244.0 159.0 L244.4 159.2 L244.8 159.5 L245.3 160.0 L245.7 160.5 L246.1 160.8 L246.5 161.1 L247.0 161.4 L247.4 161.7 L247.8 162.0 L248.2 162.2 L248.7 162.5 L249.1 162.4 L249.5 162.4 L249.9 162.7 L250.4 162.9 L250.8 163.2 L251.2 163.7 L251.6 164.2 L252.1 164.4 L252.5 164.6 L252.9 164.7 L253.3 165.0 L253.7 165.3 L254.2 165.7 L254.6 166.1 L255.0 166.3 L255.4 166.6 L255.8 166.7 L256.2 166.9 L256.7 167.2 L257.1 167.4 L257.5 167.7 L257.9 168.2 L258.3 168.6 L258.7 168.9 L259.1 169.2 L259.5 169.4 L259.9 169.7 L260.3 170.0 L260.7 170.2 L261.1 170.5 L261.5 170.8 L261.9 171.1 L262.3 171.4 L262.7 171.8 L263.1 172.1 L263.5 172.6 L263.8 173.2 L264.2 173.5 L264.6 173.5 L265.0 173.4 L265.4 173.8 L265.7 174.1 L266.1 174.6 L266.5 175.0 L266.9 175.3 L267.2 175.7 L267.6 176.2 L268.0 176.7 L268.3 177.1 L268.7 177.5 L269.1 177.9 L269.4 178.2 L269.8 178.6 L270.2 178.9 L270.5 179.3 L270.9 179.6 L271.2 180.0 L271.6 180.3 L271.9 180.5 L272.3 180.7 L272.6 181.1 L273.0 181.5 L273.3 181.8 L273.6 182.2 L274.0 182.6 L274.3 182.7 L274.6 182.8 L275.0 183.2 L275.3 183.6 L275.6 183.9 L276.0 184.5 L276.3 185.1 L276.6 185.6 L276.9 186.1 L277.3 186.4 L277.6 186.7 L277.9 187.2 L278.2 187.8 L278.5 188.2 L278.8 188.5 L279.1 188.9 L279.4 189.3 L279.8 189.5 L280.1 189.8 L280.4 190.2 L280.7 190.6 L280.9 191.0 L281.2 191.4 L281.5 191.9 L281.8 192.4 L282.1 192.6 L282.4 192.9 L282.7 193.3 L282.9 193.6 L283.2 193.9 L283.5 194.3 L283.7 194.7 L284.0 195.2 L284.2 195.6 L284.5 196.0 L284.8 196.4 L285.0 196.9 L285.3 197.3 L285.5 198.0 L285.8 198.7 L286.0 199.1 L286.3 199.5 L286.5 199.9 L286.8 200.3 L287.0 200.7 L287.3 201.1 L287.5 201.6 L287.8 201.9 L288.0 202.3 L288.2 202.7 L288.5 203.2 L288.7 203.6 L289.0 204.0 L289.2 204.5 L289.5 205.0 L289.7 205.4 L290.0 205.9 L290.2 206.3 L290.4 206.7 L290.7 207.1 L290.9 207.5 L291.2 208.1 L291.4 208.7 L291.7 209.1 L291.9 209.6 L292.2 210.0 L292.4 210.5 L292.7 210.9 L292.9 211.4 L293.2 211.8 L293.4 212.2 L293.7 212.5 L294.0 212.7 L294.2 213.1 L294.5 213.5 L294.8 214.0 L295.0 214.4 L295.3 214.9 L295.6 215.3 L295.8 215.9 L296.1 216.5 L296.4 216.9 L296.6 217.4 L296.9 217.8 L297.2 218.2 L297.4 218.5 L297.7 218.9 L297.9 219.3 L298.2 219.7 L298.4 220.2 L298.7 220.6 L298.9 221.2 L299.2 221.7 L299.4 222.2 L299.6 222.6 L299.8 223.0 L300.1 223.4 L300.3 223.9 L300.5 224.3 L300.7 224.8 L300.9 225.0 L301.1 225.3 L301.3 225.9 L301.5 226.4 L301.7 226.9 L301.9 227.3 L302.1 227.8 L302.3 228.3 L302.5 228.7 L302.7 229.2 L302.9 229.6 L303.1 230.2 L303.3 230.7 L303.5 231.1 L303.7 231.5 L303.9 232.0 L304.1 232.5 L304.3 232.9 L304.5 233.3 L304.6 233.7 L304.8 234.1 L305.0 234.5 L305.2 235.0 L305.4 235.5 L305.6 235.9 L305.8 236.4 L305.9 237.1 L306.1 237.8 L306.3 238.3 L306.5 238.7 L306.7 239.1 L306.9 239.4 L307.0 239.9 L307.2 240.4 L307.4 240.8 L307.6 241.3 L307.7 241.7 L307.9 242.2 L308.1 242.6 L308.2 243.0 L308.4 243.3 L308.6 243.8 L308.7 244.4 L308.9 244.8 L309.1 245.3 L309.2 245.9 L309.4 246.6 L309.6 247.1 L309.8 247.5 L309.9 248.0 L310.1 248.5 L310.3 248.9 L310.4 249.4 L310.6 249.9 L310.8 250.4 L311.0 250.8 L311.1 251.3 L311.3 251.6 L311.5 251.9 L311.7 252.5 L311.8 253.1 L312.0 253.6 L312.2 254.1 L312.4 254.3 L312.6 254.6 L312.8 255.0 L313.0 255.5 L313.2 256.0 L313.4 256.4 L313.6 256.8 L313.8 257.3 L314.0 257.7 L314.2 258.4 L314.4 259.0 L314.6 259.4 L314.8 259.9 L315.0 260.3 L315.2 260.8 L315.4 261.2 L315.6 261.7 L315.8 262.2 L316.0 262.6 L316.2 263.2 L316.4 263.9 L316.7 264.3 L316.9 264.8 L317.1 265.2 L317.3 265.7 L317.5 265.9 L317.7 266.2 L317.9 266.7 L318.1 267.1 L318.3 267.8 L318.5 268.4 L318.7 268.9 L318.9 269.3 L319.1 269.8 L319.4 270.1 L319.6 270.3 L319.8 270.8 L320.0 271.4 L320.2 272.0 L320.4 272.5 L320.6 272.9 L320.8 273.4 L321.0 273.6 L321.2 273.8 L321.4 274.3 L321.6 274.7 L321.8 275.2 L322.0 275.8 L322.3 276.2 L322.5 276.7 L322.7 277.4 L322.9 278.2 L323.1 278.3 L323.3 278.3 L323.5 278.8 L323.7 279.2 L323.9 279.7 L324.1 280.1 L324.3 280.9 L324.6 281.6 L324.8 282.1 L325.0 282.5 L325.2 283.0 L325.4 283.3 L325.6 283.6 L325.8 284.0 L326.0 284.5 L326.3 284.9 L326.5 285.4 L326.7 285.8 L326.9 286.1 L327.1 286.6 L327.3 287.1 L327.5 287.5 L327.7 288.0 L327.9 288.5 L328.1 289.0 L328.3 289.5 L328.5 289.9 L328.7 290.4 L328.9 290.9 L329.1 291.4 L329.3 291.8 L329.5 292.3 L329.7 292.6 L329.9 293.0 L330.1 293.5 L330.2 294.0 L330.4 294.4 L330.6 295.0 L330.8 295.5 L330.9 296.0 L331.1 296.5 L331.3 297.0 L331.4 297.4 L331.6 297.8 L331.8 298.2 L331.9 298.7 L332.1 299.2 L332.2 299.7 L332.4 300.1 L332.5 300.5 L332.7 300.9 L332.8 301.4 L333.0 301.9 L333.2 302.5 L333.3 302.9 L333.5 303.4 L333.7 303.9 L333.8 304.4 L334.0 305.0 L334.2 305.6 L334.3 306.1 L334.5 306.6 L334.7 307.0 L334.9 307.5 L335.1 307.8 L335.3 308.0 L335.5 308.5 L335.7 308.9 L336.0 309.4 L336.2 309.9 L336.4 310.4 L336.7 310.8 L336.9 311.2 L337.2 311.7 L337.4 312.1 L337.7 312.7 L338.0 313.3 L338.2 313.7 L338.5 314.2 L338.8 314.6 L339.1 315.0 L339.4 315.4 L339.6 315.8 L339.9 316.2 L340.2 316.6 L340.5 317.0 L340.8 317.4 L341.1 317.9 L341.4 318.3 L341.7 318.6 L342.0 319.0 L342.3 319.4 L342.7 319.7 L343.0 320.1 L343.3 320.5 L343.6 320.9 L343.9 321.2 L344.2 321.6 L344.6 322.0 L344.9 322.5 L345.2 322.9 L345.6 323.4 L345.9 323.8 L346.3 324.0 L346.6 324.2 L346.9 324.6 L347.3 324.9 L347.6 325.3 L348.0 325.7 L348.3 326.1 L348.7 326.5 L349.0 326.9 L349.4 327.2 L349.7 327.6 L350.1 327.9 L350.5 328.3 L350.8 328.8 L351.2 329.1 L351.6 329.3 L351.9 329.5 L352.3 329.8 L352.7 330.1 L353.1 330.4 L353.5 330.7 L353.9 330.9 L354.3 331.2 L354.8 331.4 L355.2 331.7 L355.6 332.0 L356.1 332.2 L356.5 332.4 L357.0 332.6 L357.4 332.8 L357.9 332.9 L358.4 333.0 L358.9 333.1 L359.4 333.2 L359.9 333.2 L360.4 333.2 L360.9 333.3 L361.4 333.3 L361.9 333.3 L362.4 333.3 L362.9 333.3 L363.4 333.4 L363.9 333.4 L364.4 333.4 L364.9 333.4 L365.4 333.4 L365.9 333.5 L366.4 333.5 L366.9 333.5 L367.4 333.5 L367.9 333.5 L368.4 333.5 L368.9 333.5 L369.4 333.5 L369.9 333.5 L370.4 333.6 L370.9 333.6 L371.4 333.6 L371.9 333.6 L372.4 333.6 L372.9 333.6 L373.4 333.6 L373.9 333.6 L374.4 333.6 L374.9 333.6 L375.3 333.6 L375.7 333.6 L376.1 333.6 L376.4 333.6" stroke="#ff7f0e" stroke-width="1.019"/>
<path d="M41.6 318.1 L42.1 308.7 L42.6 304.4 L43.1 301.5 L43.4 299.8 L43.6 298.8 L44.1 296.2 L44.6 293.7 L45.1 291.4 L45.3 290.3 L45.6 288.7 L46.1 286.9 L46.6 285.2 L46.9 283.9 L47.1 283.1 L47.6 281.0 L48.1 278.9 L48.6 276.3 L49.1 273.9 L49.6 272.2 L50.1 270.5 L50.6 268.9 L51.1 267.4 L51.6 266.1 L51.8 265.7 L52.1 264.8 L52.6 263.4 L53.1 261.8 L53.6 260.3 L54.1 258.8 L54.6 257.4 L55.1 256.2 L55.6 255.1 L56.1 254.1 L56.6 253.1 L57.1 252.5 L57.6 251.8 L58.1 250.5 L58.3 249.8 L58.6 249.1 L59.1 247.8 L59.6 246.4 L60.1 245.1 L60.6 243.9 L61.1 242.8 L61.6 241.7 L62.1 240.7 L62.6 239.8 L63.1 239.0 L63.6 238.0 L63.9 237.4 L64.1 237.1 L64.6 236.1 L65.1 235.1 L65.6 234.0 L66.1 233.0 L66.6 232.0 L67.1 231.0 L67.2 230.8 L67.6 230.3 L68.1 229.8 L68.6 229.0 L69.1 228.3 L69.6 227.6 L70.1 226.8 L70.6 226.0 L71.1 225.3 L71.6 223.9 L72.1 222.4 L72.6 221.5 L73.1 220.6 L73.6 219.7 L74.1 218.7 L74.6 218.2 L75.1 217.7 L75.6 216.8 L75.9 216.3 L76.1 216.3 L76.6 215.9 L77.1 215.2 L77.6 214.5 L78.1 213.8 L78.6 213.1 L79.1 212.5 L79.6 211.8 L80.1 211.2 L80.6 210.5 L80.7 210.4 L81.1 209.8 L81.6 209.1 L82.1 208.4 L82.6 207.8 L82.9 207.4 L83.1 207.2 L83.6 206.7 L84.1 206.2 L84.6 205.7 L85.1 205.2 L85.6 205.0 L86.1 204.8 L86.6 204.4 L87.1 203.7 L87.3 203.3 L87.6 202.6 L88.1 201.8 L88.6 201.4 L89.1 201.0 L89.6 200.6 L90.1 200.2 L90.6 199.8 L91.1 199.9 L91.6 200.0 L92.1 199.6 L92.6 199.0 L92.8 198.6 L93.1 198.4 L93.6 198.0 L94.1 197.4 L94.6 196.8 L95.1 196.4 L95.6 196.0 L96.1 195.7 L96.6 195.1 L97.1 194.5 L97.6 194.6 L98.0 194.6 L98.1 194.6 L98.6 194.7 L99.1 194.8 L99.6 195.5 L100.0 196.2 L100.1 196.2 L100.6 195.7 L101.1 195.3 L101.6 195.1 L102.1 195.1 L102.6 195.1 L103.1 194.9 L103.6 194.2 L104.1 193.4 L104.6 193.2 L105.1 193.3 L105.6 193.3 L106.1 192.7 L106.6 192.1 L107.1 191.9 L107.6 191.7 L108.1 191.6 L108.6 191.7 L109.1 191.7 L109.6 191.7 L110.0 191.6 L110.1 191.6 L110.6 191.6 L111.1 191.5 L111.6 191.5 L112.1 191.5 L112.6 191.5 L113.1 191.7 L113.6 191.9 L114.1 191.9 L114.6 191.9 L115.1 191.9 L115.6 191.9 L116.1 191.7 L116.6 191.5 L117.1 191.5 L117.6 191.5 L118.1 191.5 L118.6 191.5 L119.1 191.5 L119.6 191.5 L120.0 191.5 L120.1 191.5 L120.6 191.4 L121.1 191.3 L121.6 191.3 L122.1 191.4 L122.6 191.4 L123.1 191.4 L123.6 191.5 L124.1 191.5 L124.6 191.6 L125.1 191.7 L125.6 191.7 L126.1 191.8 L126.6 191.9 L127.1 192.0 L127.6 192.0 L128.1 192.0 L128.6 192.1 L129.1 192.1 L129.6 192.1 L130.0 192.1 L130.1 192.1 L130.6 192.2 L131.1 192.3 L131.6 192.6 L132.1 192.6 L132.6 192.6 L133.1 192.6 L133.6 192.7 L134.1 192.7 L134.6 192.8 L135.1 192.9 L135.6 193.0 L136.1 193.1 L136.6 193.2 L137.1 193.0 L137.6 192.9 L138.1 193.0 L138.6 193.0 L139.1 193.0 L139.6 193.0 L140.0 193.0 L140.1 193.1 L140.6 193.1 L141.1 193.1 L141.6 193.2 L142.1 193.2 L142.6 193.3 L143.1 193.4 L143.6 193.4 L144.1 194.2 L144.6 195.0 L145.1 195.1 L145.6 195.1 L146.1 195.2 L146.6 195.3 L147.1 195.3 L147.6 195.1 L148.1 194.8 L148.6 194.9 L149.1 195.0 L149.6 195.1 L150.0 195.4 L150.1 195.7 L150.6 195.8 L151.1 195.8 L151.6 195.9 L152.1 195.3 L152.6 194.7 L153.1 194.8 L153.6 194.9 L154.1 195.0 L154.6 195.6 L155.1 196.1 L155.6 196.2 L156.1 196.4 L156.6 196.5 L157.1 196.6 L157.6 196.4 L158.1 196.3 L158.6 196.5 L159.1 196.8 L159.6 197.1 L160.0 197.2 L160.1 196.7 L160.6 196.4 L161.1 196.5 L161.6 196.7 L162.1 196.8 L162.6 197.3 L163.1 197.7 L163.6 197.9 L164.1 198.0 L164.6 198.2 L165.1 198.3 L165.6 198.7 L166.1 199.1 L166.6 199.2 L167.1 199.4 L167.6 199.3 L168.1 199.2 L168.6 199.3 L169.1 199.5 L169.6 199.7 L170.0 199.8 L170.1 199.9 L170.6 200.4 L171.1 201.0 L171.6 201.2 L172.1 201.1 L172.6 201.0 L173.1 201.2 L173.6 201.5 L174.1 201.8 L174.6 202.0 L175.1 202.2 L175.6 202.4 L176.1 202.7 L176.6 202.9 L177.1 203.1 L177.6 203.3 L178.1 203.7 L178.6 204.0 L179.1 204.2 L179.6 204.0 L180.0 203.7 L180.1 203.8 L180.6 204.0 L181.1 204.2 L181.6 204.5 L182.1 204.8 L182.6 205.0 L183.1 205.2 L183.6 205.3 L184.1 205.5 L184.6 205.7 L185.1 205.9 L185.6 206.4 L186.1 206.9 L186.6 207.1 L187.1 207.3 L187.6 207.5 L188.1 207.7 L188.6 207.9 L189.1 207.7 L189.6 207.5 L190.0 207.7 L190.1 207.7 L190.6 208.3 L191.1 208.8 L191.6 209.1 L192.1 209.4 L192.6 209.8 L193.1 210.2 L193.6 210.5 L194.1 210.8 L194.6 211.1 L195.1 211.2 L195.6 211.3 L196.1 211.5 L196.6 211.7 L197.1 211.9 L197.6 212.0 L198.0 212.1 L198.1 211.9 L198.6 211.8 L199.1 211.8 L199.6 211.8 L200.1 211.9 L200.6 212.1 L201.1 212.3 L201.6 212.4 L202.1 212.3 L202.6 212.3 L203.1 212.4 L203.6 212.5 L204.0 212.5 L204.1 212.5 L204.6 212.6 L205.1 212.8 L205.6 212.7 L206.1 212.7 L206.6 212.9 L207.1 213.2 L207.6 213.6 L208.1 213.9 L208.6 214.9 L209.1 215.8 L209.6 216.1 L210.0 216.4 L210.1 216.4 L210.6 216.7 L211.1 216.4 L211.6 216.2 L212.1 216.5 L212.6 216.8 L213.1 217.2 L213.6 218.0 L214.1 218.7 L214.6 219.0 L215.1 219.2 L215.6 219.4 L216.0 219.5 L216.1 219.3 L216.6 219.2 L217.1 219.3 L217.6 219.4 L218.1 219.6 L218.6 219.9 L219.1 219.7 L219.6 219.5 L220.1 219.5 L220.6 219.8 L221.1 220.1 L221.6 220.1 L222.1 220.1 L222.6 220.2 L223.1 220.2 L223.6 219.8 L224.1 219.5 L224.6 219.5 L225.1 219.6 L225.6 220.0 L226.0 220.3 L226.1 220.3 L226.6 220.5 L227.1 220.6 L227.6 220.9 L228.1 221.2 L228.6 221.4 L229.1 221.7 L229.6 222.1 L230.1 222.4 L230.6 222.7 L231.1 223.0 L231.6 223.3 L232.0 223.4 L232.1 223.3 L232.6 223.3 L233.1 223.3 L233.6 223.6 L234.1 223.9 L234.6 224.2 L235.1 224.5 L235.6 224.9 L236.1 225.4 L236.6 225.7 L237.1 226.0 L237.6 226.2 L238.1 226.4 L238.6 226.7 L239.1 227.1 L239.6 227.4 L240.0 227.8 L240.1 228.0 L240.6 228.3 L241.1 228.6 L241.6 229.0 L242.1 229.2 L242.6 229.3 L243.1 229.7 L243.6 230.0 L244.1 230.9 L244.6 231.8 L245.1 232.1 L245.6 232.2 L246.1 232.2 L246.6 232.6 L247.1 232.9 L247.6 233.3 L248.1 233.7 L248.6 233.8 L249.1 234.0 L249.6 234.5 L250.0 235.0 L250.1 235.1 L250.6 235.5 L251.1 235.9 L251.6 236.3 L252.1 236.6 L252.6 237.0 L253.1 237.4 L253.6 237.5 L254.1 237.5 L254.6 238.2 L255.1 238.8 L255.6 239.2 L256.1 239.6 L256.6 240.0 L257.1 240.5 L257.6 241.0 L258.1 241.3 L258.6 241.7 L259.1 242.0 L259.6 242.6 L260.0 243.2 L260.1 243.3 L260.6 243.5 L261.1 243.8 L261.6 243.4 L262.1 242.9 L262.6 243.2 L263.1 243.4 L263.6 243.9 L264.1 244.4 L264.6 244.7 L265.1 244.9 L265.6 245.2 L266.1 245.5 L266.6 245.8 L267.1 246.6 L267.6 247.4 L268.1 247.9 L268.6 248.4 L269.1 248.4 L269.6 248.4 L270.1 249.0 L270.6 249.5 L271.1 250.1 L271.6 250.6 L272.1 251.1 L272.6 251.6 L273.1 252.1 L273.6 252.9 L274.1 253.6 L274.6 254.1 L275.1 254.3 L275.6 254.5 L276.1 254.9 L276.6 255.3 L277.1 256.0 L277.6 256.7 L278.1 257.1 L278.6 257.5 L279.1 257.9 L279.6 258.2 L279.7 258.3 L280.1 258.5 L280.6 258.8 L281.1 259.0 L281.6 259.5 L282.1 259.9 L282.6 260.2 L283.1 260.4 L283.6 260.6 L284.1 260.8 L284.6 260.9 L285.1 260.9 L285.6 260.9 L286.1 260.8 L286.3 261.0 L286.6 261.2 L287.1 261.5 L287.6 261.8 L288.1 261.8 L288.6 261.7 L289.1 262.1 L289.6 262.9 L290.1 263.6 L290.6 264.3 L291.1 264.9 L291.6 265.3 L292.1 265.7 L292.3 265.9 L292.6 265.8 L293.1 266.0 L293.6 266.8 L294.1 267.7 L294.6 267.6 L295.1 267.5 L295.6 267.9 L296.1 268.2 L296.6 268.6 L297.1 269.5 L297.6 270.4 L298.1 270.8 L298.6 270.8 L299.1 270.8 L299.4 271.1 L299.6 271.5 L300.1 272.3 L300.6 272.9 L301.1 273.4 L301.6 274.1 L302.1 274.7 L302.6 275.0 L303.1 275.4 L303.6 276.0 L304.1 276.6 L304.6 277.2 L305.1 277.8 L305.6 278.5 L306.0 279.0 L306.1 279.1 L306.6 279.6 L307.1 280.0 L307.6 280.5 L308.1 280.6 L308.6 280.8 L309.1 281.3 L309.6 281.7 L310.1 282.1 L310.6 282.5 L311.1 282.9 L311.6 283.3 L312.1 283.7 L312.5 284.0 L312.6 284.1 L313.1 284.5 L313.6 284.9 L314.1 285.6 L314.6 286.3 L315.1 286.7 L315.6 287.1 L316.1 287.5 L316.6 287.9 L317.1 288.0 L317.6 288.2 L318.1 288.8 L318.6 289.4 L319.1 289.8 L319.6 290.5 L320.1 291.2 L320.6 291.7 L321.1 292.3 L321.6 293.0 L322.1 293.8 L322.6 294.5 L323.1 295.1 L323.6 295.8 L324.1 296.4 L324.6 296.9 L325.1 297.4 L325.6 297.8 L325.7 298.0 L326.1 298.5 L326.6 299.0 L327.1 299.4 L327.6 299.9 L328.1 300.4 L328.6 300.8 L329.1 301.2 L329.6 301.6 L330.1 302.1 L330.6 302.6 L331.1 303.1 L331.6 303.6 L332.1 304.1 L332.3 304.0 L332.6 304.0 L333.1 305.0 L333.6 305.9 L334.1 306.5 L334.6 306.7 L335.1 307.0 L335.6 307.5 L336.1 308.0 L336.6 308.6 L337.1 309.1 L337.6 309.6 L338.1 310.2 L338.6 310.6 L338.8 310.8 L339.1 311.1 L339.6 311.4 L340.1 311.7 L340.6 312.0 L341.1 312.8 L341.6 313.7 L342.1 314.0 L342.6 314.4 L343.1 314.5 L343.2 314.1 L343.6 314.5 L344.1 315.1 L344.6 315.7 L345.1 316.3 L345.6 317.4 L346.1 318.6 L346.6 319.2 L347.1 319.9 L347.6 320.5 L348.1 321.2 L348.6 321.5 L349.1 321.7 L349.6 322.4 L350.1 322.8 L350.6 323.2 L351.1 324.1 L351.6 324.9 L352.0 325.4 L352.1 325.5 L352.6 326.1 L353.1 326.8 L353.6 327.5 L354.1 328.1 L354.6 328.7 L355.1 329.2 L355.6 329.9 L356.1 330.5 L356.3 330.6 L356.6 330.7 L357.1 331.0 L357.6 331.3 L358.1 331.3 L358.6 331.4 L359.1 331.7 L359.6 331.9 L360.1 332.2 L360.6 332.4 L360.7 332.4 L361.1 332.6 L361.6 332.7 L362.1 332.9 L362.6 333.0 L363.1 333.1 L363.6 333.2 L364.1 333.3 L364.6 333.3 L365.0 333.4 L365.1 333.4 L365.6 333.4 L366.1 333.4 L366.6 333.4 L367.1 333.4 L367.6 333.5 L368.1 333.5 L368.6 333.5 L369.1 333.5 L369.6 333.5 L370.1 333.5 L370.6 333.5 L371.1 333.5 L371.6 333.6 L372.1 333.6 L372.6 333.6 L373.1 333.6 L373.6 333.6 L374.1 333.6 L374.6 333.6 L375.1 333.6 L375.6 333.6 L376.1 333.6 L376.6 333.6 L376.9 333.6" stroke="#2ca02c" stroke-width="1.019"/>
<path d="M42.0 271.1 L42.1 270.9 L42.2 270.6 L42.3 270.3 L42.4 269.9 L42.6 269.5 L42.7 269.1 L42.9 268.7 L43.0 268.2 L43.2 267.8 L43.3 267.3 L43.5 266.8 L43.6 266.4 L43.8 265.9 L43.9 265.4 L44.0 264.9 L44.2 264.4 L44.3 264.0 L44.5 263.5 L44.6 263.0 L44.7 262.5 L44.8 262.0 L45.0 261.5 L45.1 261.1 L45.2 260.6 L45.3 260.1 L45.5 259.6 L45.6 259.1 L45.7 258.6 L45.8 258.1 L45.9 257.6 L46.0 257.2 L46.1 256.7 L46.2 256.2 L46.3 255.7 L46.4 255.2 L46.5 254.7 L46.6 254.2 L46.7 253.7 L46.8 253.2 L46.9 252.7 L47.0 252.2 L47.1 251.8 L47.2 251.3 L47.3 250.8 L47.4 250.3 L47.4 249.8 L47.5 249.3 L47.6 248.8 L47.7 248.3 L47.8 247.8 L47.9 247.3 L48.0 246.8 L48.1 246.3 L48.2 245.9 L48.3 245.4 L48.4 244.9 L48.5 244.4 L48.6 243.9 L48.7 243.4 L48.8 242.9 L48.9 242.4 L49.0 241.9 L49.1 241.4 L49.2 240.9 L49.3 240.5 L49.4 240.0 L49.5 239.5 L49.5 239.0 L49.6 238.5 L49.7 238.0 L49.8 237.5 L49.9 237.0 L50.0 236.5 L50.1 236.0 L50.2 235.5 L50.3 235.1 L50.4 234.6 L50.5 234.1 L50.6 233.6 L50.7 233.1 L50.8 232.6 L50.9 232.1 L51.0 231.6 L51.1 231.1 L51.2 230.6 L51.4 230.2 L51.5 229.7 L51.6 229.2 L51.7 228.7 L51.8 228.2 L51.9 227.7 L52.0 227.2 L52.1 226.7 L52.3 226.3 L52.4 225.8 L52.5 225.3 L52.6 224.8 L52.7 224.3 L52.9 223.8 L53.0 223.3 L53.1 222.9 L53.2 222.4 L53.4 221.9 L53.5 221.4 L53.6 220.9 L53.8 220.4 L53.9 220.0 L54.1 219.5 L54.2 219.0 L54.3 218.5 L54.5 218.0 L54.6 217.6 L54.8 217.1 L55.0 216.6 L55.1 216.1 L55.3 215.7 L55.4 215.2 L55.6 214.7 L55.8 214.3 L55.9 213.8 L56.1 213.3 L56.3 212.8 L56.5 212.4 L56.7 211.9 L56.8 211.4 L57.0 211.0 L57.2 210.5 L57.4 210.1 L57.6 209.6 L57.8 209.1 L58.0 208.7 L58.2 208.2 L58.4 207.8 L58.7 207.3 L58.9 206.9 L59.1 206.4 L59.3 206.0 L59.6 205.5 L59.8 205.1 L60.0 204.6 L60.2 204.2 L60.5 203.8 L60.7 203.3 L60.9 202.9 L61.2 202.4 L61.4 202.0 L61.6 201.5 L61.9 201.1 L62.1 200.7 L62.3 200.2 L62.6 199.8 L62.8 199.3 L63.0 198.9 L63.3 198.4 L63.5 198.0 L63.7 197.6 L64.0 197.1 L64.2 196.7 L64.5 196.3 L64.7 195.8 L65.0 195.4 L65.2 195.0 L65.5 194.5 L65.8 194.1 L66.0 193.7 L66.3 193.3 L66.6 192.8 L66.8 192.4 L67.1 192.0 L67.4 191.6 L67.7 191.2 L68.0 190.8 L68.3 190.4 L68.6 190.0 L68.9 189.6 L69.2 189.2 L69.5 188.8 L69.8 188.4 L70.1 188.0 L70.4 187.6 L70.7 187.2 L71.0 186.8 L71.3 186.4 L71.6 186.0 L71.9 185.6 L72.2 185.2 L72.6 184.8 L72.9 184.5 L73.2 184.1 L73.5 183.7 L73.9 183.3 L74.2 182.9 L74.5 182.6 L74.9 182.2 L75.2 181.8 L75.5 181.5 L75.9 181.1 L76.2 180.7 L76.6 180.4 L76.9 180.0 L77.3 179.7 L77.6 179.3 L78.0 179.0 L78.3 178.6 L78.7 178.3 L79.1 177.9 L79.4 177.6 L79.8 177.3 L80.2 176.9 L80.6 176.6 L81.0 176.3 L81.3 176.0 L81.7 175.6 L82.1 175.3 L82.5 175.0 L82.9 174.7 L83.3 174.4 L83.7 174.1 L84.1 173.8 L84.5 173.6 L85.0 173.3 L85.4 173.0 L85.8 172.7 L86.2 172.4 L86.6 172.2 L87.0 171.9 L87.5 171.6 L87.9 171.3 L88.3 171.1 L88.7 170.8 L89.1 170.5 L89.6 170.3 L90.0 170.0 L90.4 169.8 L90.9 169.5 L91.3 169.3 L91.7 169.0 L92.2 168.8 L92.6 168.6 L93.1 168.3 L93.5 168.1 L94.0 167.9 L94.4 167.6 L94.8 167.4 L95.3 167.2 L95.7 167.0 L96.2 166.7 L96.6 166.5 L97.1 166.3 L97.6 166.1 L98.0 165.9 L98.5 165.7 L98.9 165.5 L99.4 165.3 L99.8 165.1 L100.3 164.9 L100.8 164.7 L101.2 164.5 L101.7 164.4 L102.2 164.2 L102.6 164.0 L103.1 163.8 L103.6 163.7 L104.0 163.5 L104.5 163.3 L105.0 163.2 L105.5 163.0 L105.9 162.9 L106.4 162.7 L106.9 162.5 L107.4 162.4 L107.9 162.3 L108.3 162.1 L108.8 162.0 L109.3 161.8 L109.8 161.7 L110.3 161.6 L110.7 161.4 L111.2 161.3 L111.7 161.2 L112.2 161.1 L112.7 160.9 L113.2 160.8 L113.7 160.7 L114.1 160.6 L114.6 160.5 L115.1 160.4 L115.6 160.3 L116.1 160.2 L116.6 160.1 L117.1 160.0 L117.6 159.9 L118.1 159.8 L118.6 159.7 L119.0 159.6 L119.5 159.5 L120.0 159.4 L120.5 159.3 L121.0 159.2 L121.5 159.2 L122.0 159.1 L122.5 159.0 L123.0 158.9 L123.5 158.9 L124.0 158.8 L124.5 158.7 L125.0 158.6 L125.5 158.6 L126.0 158.5 L126.5 158.4 L127.0 158.4 L127.5 158.3 L127.9 158.2 L128.4 158.2 L128.9 158.1 L129.4 158.1 L129.9 158.0 L130.4 158.0 L130.9 157.9 L131.4 157.9 L131.9 157.8 L132.4 157.7 L132.9 157.7 L133.4 157.6 L133.9 157.6 L134.4 157.6 L134.9 157.5 L135.4 157.5 L135.9 157.4 L136.4 157.4 L136.9 157.4 L137.4 157.3 L137.9 157.3 L138.4 157.3 L138.9 157.3 L139.4 157.3 L139.9 157.2 L140.4 157.2 L140.9 157.2 L141.4 157.2 L141.9 157.2 L142.4 157.2 L142.9 157.2 L143.4 157.2 L143.9 157.2 L144.4 157.2 L144.9 157.2 L145.4 157.2 L145.9 157.2 L146.4 157.3 L146.9 157.3 L147.4 157.3 L147.9 157.3 L148.4 157.3 L148.9 157.3 L149.4 157.3 L149.9 157.3 L150.4 157.3 L150.9 157.3 L151.4 157.3 L151.9 157.4 L152.4 157.4 L152.9 157.4 L153.4 157.4 L153.9 157.4 L154.4 157.5 L154.9 157.5 L155.4 157.5 L155.9 157.5 L156.4 157.5 L156.9 157.6 L157.4 157.6 L157.9 157.6 L158.4 157.7 L158.9 157.7 L159.4 157.7 L159.9 157.8 L160.4 157.8 L160.9 157.8 L161.4 157.9 L161.9 157.9 L162.4 157.9 L162.9 158.0 L163.4 158.0 L163.9 158.1 L164.4 158.1 L164.9 158.2 L165.4 158.2 L165.9 158.2 L166.4 158.3 L166.9 158.3 L167.4 158.4 L167.9 158.4 L168.4 158.5 L168.9 158.5 L169.4 158.6 L169.9 158.6 L170.4 158.7 L170.9 158.7 L171.4 158.8 L171.9 158.8 L172.4 158.9 L172.9 158.9 L173.4 159.0 L173.9 159.1 L174.4 159.1 L174.9 159.2 L175.4 159.3 L175.9 159.4 L176.3 159.4 L176.8 159.5 L177.3 159.6 L177.8 159.7 L178.3 159.7 L178.8 159.8 L179.3 159.9 L179.8 160.0 L180.3 160.1 L180.8 160.2 L181.3 160.2 L181.8 160.3 L182.3 160.4 L182.8 160.5 L183.3 160.6 L183.7 160.7 L184.2 160.8 L184.7 160.9 L185.2 161.0 L185.7 161.1 L186.2 161.2 L186.7 161.3 L187.2 161.4 L187.7 161.5 L188.2 161.6 L188.6 161.7 L189.1 161.8 L189.6 161.9 L190.1 162.0 L190.6 162.1 L191.1 162.2 L191.6 162.3 L192.1 162.4 L192.6 162.5 L193.1 162.6 L193.6 162.7 L194.0 162.8 L194.5 162.9 L195.0 163.0 L195.5 163.1 L196.0 163.2 L196.5 163.3 L197.0 163.4 L197.5 163.5 L198.0 163.6 L198.5 163.7 L199.0 163.8 L199.4 163.9 L199.9 164.0 L200.4 164.1 L200.9 164.2 L201.4 164.3 L201.9 164.4 L202.4 164.5 L202.9 164.6 L203.4 164.7 L203.9 164.8 L204.3 164.9 L204.8 165.0 L205.3 165.1 L205.8 165.2 L206.3 165.3 L206.8 165.4 L207.3 165.5 L207.8 165.6 L208.3 165.7 L208.8 165.8 L209.2 165.9 L209.7 166.1 L210.2 166.2 L210.7 166.3 L211.2 166.4 L211.7 166.6 L212.1 166.7 L212.6 166.8 L213.1 167.0 L213.6 167.1 L214.1 167.3 L214.5 167.4 L215.0 167.5 L215.5 167.7 L216.0 167.8 L216.5 168.0 L216.9 168.1 L217.4 168.3 L217.9 168.4 L218.4 168.6 L218.8 168.7 L219.3 168.9 L219.8 169.0 L220.3 169.2 L220.8 169.3 L221.2 169.5 L221.7 169.6 L222.2 169.8 L222.7 169.9 L223.2 170.0 L223.6 170.2 L224.1 170.3 L224.6 170.5 L225.1 170.6 L225.6 170.8 L226.0 170.9 L226.5 171.1 L227.0 171.2 L227.5 171.4 L227.9 171.5 L228.4 171.7 L228.9 171.8 L229.4 172.0 L229.8 172.2 L230.3 172.3 L230.8 172.5 L231.2 172.7 L231.7 172.8 L232.2 173.0 L232.7 173.2 L233.1 173.4 L233.6 173.6 L234.1 173.7 L234.5 173.9 L235.0 174.1 L235.5 174.3 L235.9 174.5 L236.4 174.7 L236.8 174.9 L237.3 175.1 L237.8 175.3 L238.2 175.4 L238.7 175.6 L239.1 175.8 L239.6 176.0 L240.1 176.2 L240.5 176.4 L241.0 176.6 L241.4 176.9 L241.9 177.1 L242.3 177.3 L242.8 177.5 L243.3 177.7 L243.7 177.9 L244.2 178.1 L244.6 178.3 L245.1 178.5 L245.5 178.8 L246.0 179.0 L246.4 179.2 L246.9 179.4 L247.3 179.6 L247.8 179.9 L248.2 180.1 L248.6 180.3 L249.1 180.6 L249.5 180.8 L250.0 181.0 L250.4 181.3 L250.9 181.5 L251.3 181.7 L251.7 182.0 L252.2 182.2 L252.6 182.5 L253.0 182.7 L253.5 183.0 L253.9 183.2 L254.3 183.5 L254.8 183.7 L255.2 184.0 L255.6 184.3 L256.1 184.5 L256.5 184.8 L256.9 185.0 L257.3 185.3 L257.8 185.5 L258.2 185.8 L258.6 186.1 L259.1 186.3 L259.5 186.6 L259.9 186.8 L260.3 187.1 L260.8 187.3 L261.2 187.6 L261.6 187.8 L262.1 188.1 L262.5 188.3 L262.9 188.6 L263.4 188.9 L263.8 189.1 L264.2 189.4 L264.7 189.6 L265.1 189.9 L265.5 190.1 L266.0 190.4 L266.4 190.6 L266.8 190.9 L267.3 191.1 L267.7 191.4 L268.1 191.7 L268.5 191.9 L269.0 192.2 L269.4 192.5 L269.8 192.7 L270.2 193.0 L270.6 193.3 L271.0 193.6 L271.4 193.9 L271.9 194.2 L272.3 194.4 L272.7 194.7 L273.1 195.0 L273.5 195.3 L273.9 195.6 L274.3 195.9 L274.7 196.2 L275.1 196.5 L275.5 196.9 L275.8 197.2 L276.2 197.5 L276.6 197.8 L277.0 198.1 L277.4 198.4 L277.8 198.8 L278.2 199.1 L278.6 199.4 L278.9 199.7 L279.3 200.0 L279.7 200.4 L280.1 200.7 L280.5 201.0 L280.8 201.3 L281.2 201.7 L281.6 202.0 L282.0 202.3 L282.4 202.6 L282.7 203.0 L283.1 203.3 L283.5 203.6 L283.9 203.9 L284.3 204.3 L284.6 204.6 L285.0 204.9 L285.4 205.3 L285.7 205.6 L286.1 205.9 L286.5 206.3 L286.9 206.6 L287.2 207.0 L287.6 207.3 L288.0 207.6 L288.3 208.0 L288.7 208.3 L289.1 208.6 L289.4 209.0 L289.8 209.3 L290.2 209.7 L290.5 210.0 L290.9 210.4 L291.3 210.7 L291.6 211.0 L292.0 211.4 L292.4 211.7 L292.7 212.1 L293.1 212.4 L293.4 212.8 L293.8 213.1 L294.2 213.5 L294.5 213.8 L294.9 214.2 L295.2 214.5 L295.6 214.9 L296.0 215.2 L296.3 215.6 L296.7 215.9 L297.0 216.3 L297.4 216.6 L297.7 217.0 L298.1 217.3 L298.5 217.7 L298.8 218.0 L299.2 218.4 L299.5 218.7 L299.9 219.1 L300.2 219.4 L300.6 219.8 L300.9 220.2 L301.3 220.5 L301.6 220.9 L302.0 221.2 L302.3 221.6 L302.6 222.0 L303.0 222.3 L303.3 222.7 L303.7 223.1 L304.0 223.4 L304.4 223.8 L304.7 224.2 L305.0 224.5 L305.4 224.9 L305.7 225.2 L306.1 225.6 L306.4 226.0 L306.7 226.4 L307.1 226.7 L307.4 227.1 L307.7 227.5 L308.1 227.9 L308.4 228.2 L308.7 228.6 L309.0 229.0 L309.4 229.4 L309.7 229.8 L310.0 230.2 L310.3 230.6 L310.6 230.9 L310.9 231.3 L311.2 231.7 L311.5 232.1 L311.8 232.5 L312.1 232.9 L312.4 233.4 L312.7 233.8 L313.0 234.2 L313.3 234.6 L313.6 235.0 L313.9 235.4 L314.1 235.8 L314.4 236.2 L314.7 236.6 L315.0 237.1 L315.3 237.5 L315.5 237.9 L315.8 238.3 L316.1 238.7 L316.3 239.2 L316.6 239.6 L316.9 240.0 L317.1 240.4 L317.4 240.9 L317.6 241.3 L317.9 241.7 L318.1 242.2 L318.4 242.6 L318.6 243.0 L318.9 243.5 L319.1 243.9 L319.4 244.3 L319.6 244.8 L319.8 245.2 L320.1 245.7 L320.3 246.1 L320.6 246.5 L320.8 247.0 L321.0 247.4 L321.3 247.9 L321.5 248.3 L321.7 248.7 L322.0 249.2 L322.2 249.6 L322.4 250.1 L322.7 250.5 L322.9 251.0 L323.1 251.4 L323.4 251.8 L323.6 252.3 L323.8 252.7 L324.1 253.2 L324.3 253.6 L324.5 254.1 L324.8 254.5 L325.0 255.0 L325.2 255.4 L325.5 255.8 L325.7 256.3 L325.9 256.7 L326.1 257.2 L326.4 257.6 L326.6 258.1 L326.8 258.5 L327.1 259.0 L327.3 259.4 L327.5 259.8 L327.7 260.3 L328.0 260.7 L328.2 261.2 L328.4 261.6 L328.6 262.1 L328.9 262.5 L329.1 263.0 L329.3 263.4 L329.5 263.9 L329.7 264.3 L329.9 264.8 L330.2 265.2 L330.4 265.7 L330.6 266.1 L330.8 266.6 L331.0 267.1 L331.2 267.5 L331.4 268.0 L331.6 268.4 L331.8 268.9 L332.0 269.3 L332.2 269.8 L332.4 270.3 L332.6 270.7 L332.8 271.2 L333.0 271.6 L333.2 272.1 L333.4 272.6 L333.6 273.0 L333.8 273.5 L334.0 273.9 L334.2 274.4 L334.4 274.9 L334.6 275.3 L334.8 275.8 L334.9 276.3 L335.1 276.7 L335.3 277.2 L335.5 277.6 L335.7 278.1 L335.9 278.6 L336.1 279.0 L336.3 279.5 L336.4 280.0 L336.6 280.4 L336.8 280.9 L337.0 281.4 L337.2 281.8 L337.3 282.3 L337.5 282.8 L337.7 283.2 L337.9 283.7 L338.1 284.2 L338.2 284.6 L338.4 285.1 L338.6 285.6 L338.8 286.0 L338.9 286.5 L339.1 287.0 L339.3 287.5 L339.5 287.9 L339.6 288.4 L339.8 288.9 L340.0 289.3 L340.2 289.8 L340.3 290.3 L340.5 290.7 L340.7 291.2 L340.8 291.7 L341.0 292.2 L341.2 292.6 L341.3 293.1 L341.5 293.6 L341.7 294.0 L341.8 294.5 L342.0 295.0 L342.2 295.5 L342.3 295.9 L342.5 296.4 L342.7 296.9 L342.8 297.3 L343.0 297.8 L343.2 298.3 L343.3 298.8 L343.5 299.2 L343.7 299.7 L343.9 300.2 L344.0 300.6 L344.2 301.1 L344.4 301.6 L344.5 302.1 L344.7 302.5 L344.9 303.0 L345.1 303.5 L345.2 303.9 L345.4 304.4 L345.6 304.9 L345.8 305.3 L345.9 305.8 L346.1 306.3 L346.3 306.7 L346.5 307.2 L346.7 307.7 L346.8 308.1 L347.0 308.6 L347.2 309.1 L347.4 309.5 L347.6 310.0 L347.8 310.5 L347.9 310.9 L348.1 311.4 L348.3 311.9 L348.5 312.3 L348.7 312.8 L348.9 313.2 L349.1 313.7 L349.3 314.2 L349.5 314.6 L349.7 315.1 L349.9 315.5 L350.1 316.0 L350.3 316.5 L350.5 316.9 L350.7 317.4 L350.9 317.8 L351.1 318.3 L351.4 318.7 L351.6 319.2 L351.8 319.6 L352.0 320.1 L352.3 320.5 L352.5 321.0 L352.7 321.4 L353.0 321.8 L353.2 322.3 L353.4 322.7 L353.7 323.1 L353.9 323.6 L354.2 324.0 L354.5 324.4 L354.7 324.9 L355.0 325.3 L355.3 325.7 L355.6 326.1 L355.8 326.5 L356.1 326.9 L356.4 327.3 L356.7 327.7 L357.1 328.1 L357.4 328.5 L357.7 328.8 L358.1 329.2 L358.4 329.5 L358.8 329.8 L359.2 330.2 L359.6 330.5 L360.0 330.7 L360.4 331.0 L360.8 331.3 L361.2 331.5 L361.7 331.7 L362.1 331.9 L362.6 332.1 L363.0 332.3 L363.5 332.4 L364.0 332.6 L364.5 332.7 L365.0 332.8 L365.4 332.9 L365.9 333.0 L366.4 333.1 L366.9 333.2 L367.4 333.2 L367.9 333.3 L368.4 333.3 L368.9 333.4 L369.4 333.4 L369.9 333.4 L370.4 333.5 L370.9 333.5 L371.4 333.5 L371.9 333.5 L372.4 333.5 L372.9 333.6 L373.3 333.6 L373.8 333.6 L374.2 333.6 L374.6 333.6 L375.0 333.6 L375.4 333.6 L375.7 333.6 L375.9 333.6" stroke="#0000ff" stroke-width="2.546" stroke-linecap="square"/>
</g>
<g stroke="#000" stroke-width="0.679" fill="none">
<line x1="41.60" y1="333.6" x2="41.60" y2="336.57"/>
<line x1="41.6" y1="333.60" x2="38.63" y2="333.60"/>
<line x1="108.66" y1="333.6" x2="108.66" y2="336.57"/>
<line x1="41.6" y1="271.02" x2="38.63" y2="271.02"/>
<line x1="175.72" y1="333.6" x2="175.72" y2="336.57"/>
<line x1="41.6" y1="208.44" x2="38.63" y2="208.44"/>
<line x1="242.78" y1="333.6" x2="242.78" y2="336.57"/>
<line x1="41.6" y1="145.86" x2="38.63" y2="145.86"/>
<line x1="309.84" y1="333.6" x2="309.84" y2="336.57"/>
<line x1="41.6" y1="83.28" x2="38.63" y2="83.28"/>
<line x1="376.90" y1="333.6" x2="376.90" y2="336.57"/>
<line x1="41.6" y1="20.70" x2="38.63" y2="20.70"/>
<rect x="41.6" y="20.7" width="335.30" height="312.90" stroke-linejoin="miter"/>
</g>
<g font-size="9.383px">
<text x="41.60" y="346.30" transform="rotate(0.05 41.60 346.30)" text-anchor="middle">0.0</text>
<text x="35.60" y="337.02" transform="rotate(0.05 35.60 337.02)" text-anchor="end">0.0</text>
<text x="108.66" y="346.30" transform="rotate(0.05 108.66 346.30)" text-anchor="middle">0.2</text>
<text x="35.60" y="274.44" transform="rotate(0.05 35.60 274.44)" text-anchor="end">0.2</text>
<text x="175.72" y="346.30" transform="rotate(0.05 175.72 346.30)" text-anchor="middle">0.4</text>
<text x="35.60" y="211.86" transform="rotate(0.05 35.60 211.86)" text-anchor="end">0.4</text>
<text x="242.78" y="346.30" transform="rotate(0.05 242.78 346.30)" text-anchor="middle">0.6</text>
<text x="35.60" y="149.28" transform="rotate(0.05 35.60 149.28)" text-anchor="end">0.6</text>
<text x="309.84" y="346.30" transform="rotate(0.05 309.84 346.30)" text-anchor="middle">0.8</text>
<text x="35.60" y="86.70" transform="rotate(0.05 35.60 86.70)" text-anchor="end">0.8</text>
<text x="376.90" y="346.30" transform="rotate(0.05 376.90 346.30)" text-anchor="middle">1.0</text>
<text x="35.60" y="24.12" transform="rotate(0.05 35.60 24.12)" text-anchor="end">1.0</text>
</g>
<g font-size="9.523px">
<text x="209.25" y="359.30" transform="rotate(0.05 209.25 359.30)" text-anchor="middle">Confidence</text>
<text transform="translate(15.6 178.35) rotate(-90.05)" text-anchor="middle">F1</text>
</g>
<text x="209.45" y="15.30" transform="rotate(0.05 209.45 15.30)" text-anchor="middle" font-size="11.473px">F1-Confidence Curve</text>
<rect x="395.4" y="25.6" width="150.50" height="196.00" rx="1.9" ry="1.9" fill="#fff" fill-opacity="0.8" stroke="#cccccc" stroke-width="0.679"/>
<g font-size="9.523px">
<line x1="398.0" y1="32.90" x2="418.1" y2="32.90" stroke="#1f77b4" stroke-width="1.019"/>
<text x="425.80" y="36.58" transform="rotate(0.05 425.80 36.58)">short sleeve top</text>
<line x1="398.0" y1="46.68" x2="418.1" y2="46.68" stroke="#ff7f0e" stroke-width="1.019"/>
<text x="425.80" y="50.36" transform="rotate(0.05 425.80 50.36)">long sleeve top</text>
<line x1="398.0" y1="60.45" x2="418.1" y2="60.45" stroke="#2ca02c" stroke-width="1.019"/>
<text x="425.80" y="64.14" transform="rotate(0.05 425.80 64.14)">short sleeve outwear</text>
<line x1="398.0" y1="74.23" x2="418.1" y2="74.23" stroke="#d62728" stroke-width="1.019"/>
<text x="425.80" y="77.91" transform="rotate(0.05 425.80 77.91)">long sleeve outwear</text>
<line x1="398.0" y1="88.01" x2="418.1" y2="88.01" stroke="#9467bd" stroke-width="1.019"/>
<text x="425.80" y="91.69" transform="rotate(0.05 425.80 91.69)">vest</text>
<line x1="398.0" y1="101.78" x2="418.1" y2="101.78" stroke="#8c564b" stroke-width="1.019"/>
<text x="425.80" y="105.47" transform="rotate(0.05 425.80 105.47)">sling</text>
<line x1="398.0" y1="115.56" x2="418.1" y2="115.56" stroke="#e377c2" stroke-width="1.019"/>
<text x="425.80" y="119.24" transform="rotate(0.05 425.80 119.24)">shorts</text>
<line x1="398.0" y1="129.34" x2="418.1" y2="129.34" stroke="#7f7f7f" stroke-width="1.019"/>
<text x="425.80" y="133.02" transform="rotate(0.05 425.80 133.02)">trousers</text>
<line x1="398.0" y1="143.12" x2="418.1" y2="143.12" stroke="#bcbd22" stroke-width="1.019"/>
<text x="425.80" y="146.80" transform="rotate(0.05 425.80 146.80)">skirt</text>
<line x1="398.0" y1="156.89" x2="418.1" y2="156.89" stroke="#17becf" stroke-width="1.019"/>
<text x="425.80" y="160.58" transform="rotate(0.05 425.80 160.58)">short sleeve dress</text>
<line x1="398.0" y1="170.67" x2="418.1" y2="170.67" stroke="#1f77b4" stroke-width="1.019"/>
<text x="425.80" y="174.35" transform="rotate(0.05 425.80 174.35)">long sleeve dress</text>
<line x1="398.0" y1="184.45" x2="418.1" y2="184.45" stroke="#ff7f0e" stroke-width="1.019"/>
<text x="425.80" y="188.13" transform="rotate(0.05 425.80 188.13)">vest dress</text>
<line x1="398.0" y1="198.22" x2="418.1" y2="198.22" stroke="#2ca02c" stroke-width="1.019"/>
<text x="425.80" y="201.91" transform="rotate(0.05 425.80 201.91)">sling dress</text>
<line x1="397.3" y1="212.00" x2="418.9" y2="212.00" stroke="#0000ff" stroke-width="2.546"/>
<text x="425.80" y="215.68" transform="rotate(0.05 425.80 215.68)">all classes 0.56 at 0.316</text>
</g>
</svg></body></html>
